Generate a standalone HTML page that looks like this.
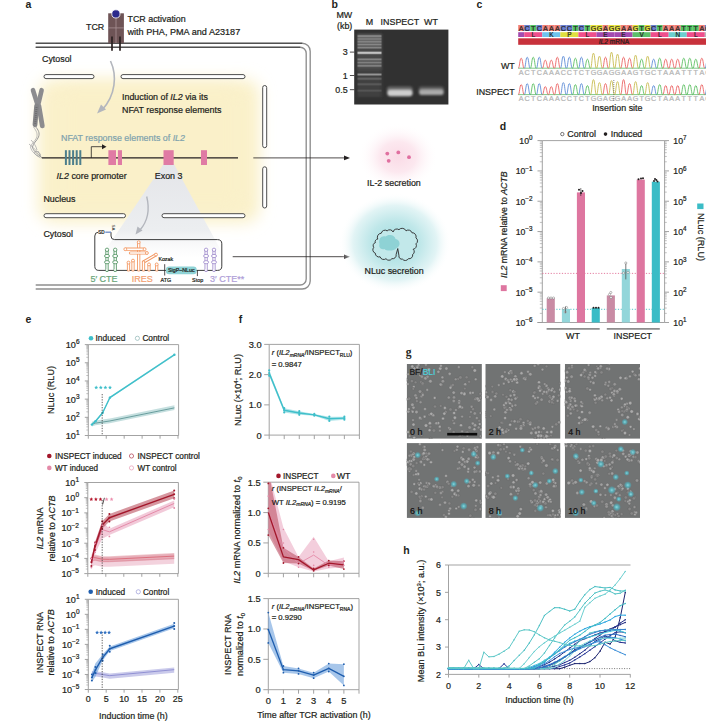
<!DOCTYPE html>
<html><head><meta charset="utf-8"><style>
html,body{margin:0;padding:0;background:#fff;width:706px;height:721px;overflow:hidden}
svg{display:block}
text{font-family:"Liberation Sans", sans-serif}
</style></head><body>
<svg width="706" height="721" viewBox="0 0 706 721">
<defs>
<radialGradient id="yel" cx="0.5" cy="0.5" r="0.5">
<stop offset="0" stop-color="#fbf0c2"/><stop offset="0.55" stop-color="#fcf2cc"/><stop offset="1" stop-color="#fcf3d0" stop-opacity="0"/></radialGradient>
<linearGradient id="cone" x1="0" y1="0" x2="0" y2="1">
<stop offset="0" stop-color="#e4e5e9"/><stop offset="0.7" stop-color="#eceef0"/><stop offset="1" stop-color="#f6f6f7" stop-opacity="0"/></linearGradient>
<radialGradient id="pinkglow" cx="0.5" cy="0.5" r="0.5">
<stop offset="0" stop-color="#fadbe6"/><stop offset="0.45" stop-color="#fce8ef"/><stop offset="1" stop-color="#fff" stop-opacity="0"/></radialGradient>
<radialGradient id="tealglow" cx="0.5" cy="0.5" r="0.5">
<stop offset="0" stop-color="#9edcdf"/><stop offset="0.45" stop-color="#bfe7e9"/><stop offset="0.75" stop-color="#e2f4f5"/><stop offset="1" stop-color="#fff" stop-opacity="0"/></radialGradient>
<radialGradient id="band" cx="0.5" cy="0.5" r="0.5">
<stop offset="0" stop-color="#e6e6e6"/><stop offset="0.6" stop-color="#b0b0b0"/><stop offset="1" stop-color="#3a3a3a" stop-opacity="0"/></radialGradient>
<radialGradient id="spot" cx="0.5" cy="0.5" r="0.5">
<stop offset="0" stop-color="#9ae6ee"/><stop offset="0.35" stop-color="#5accd8" stop-opacity="0.9"/><stop offset="0.7" stop-color="#4ab8c8" stop-opacity="0.55"/><stop offset="1" stop-color="#3cb0c0" stop-opacity="0"/></radialGradient>
<linearGradient id="gelg" x1="0" y1="0" x2="0" y2="1"><stop offset="0" stop-color="#3a3a3a" stop-opacity="0.3"/><stop offset="1" stop-color="#202020" stop-opacity="0.3"/></linearGradient>
<filter id="blur1" x="-20%" y="-20%" width="140%" height="140%"><feGaussianBlur stdDeviation="0.85"/></filter>
<filter id="blur2" x="-50%" y="-50%" width="200%" height="200%"><feGaussianBlur stdDeviation="1.2"/></filter>
<filter id="blury" x="-30%" y="-30%" width="160%" height="160%"><feGaussianBlur stdDeviation="7.5"/></filter>
<linearGradient id="bandg" x1="0" y1="0" x2="0" y2="1"><stop offset="0" stop-color="#fff" stop-opacity="0"/><stop offset="0.5" stop-color="#fff" stop-opacity="1"/><stop offset="1" stop-color="#fff" stop-opacity="0"/></linearGradient>
<marker id="ah" viewBox="0 0 10 10" refX="9" refY="5" markerWidth="6" markerHeight="6" orient="auto"><path d="M0,1 L10,5 L0,9 z" fill="#231f20"/></marker>
</defs>
<rect x="38" y="79" width="222" height="144" rx="16" fill="#faf1cb" filter="url(#blury)"/>
<rect x="60" y="86" width="180" height="124" rx="10" fill="#faf0c8" opacity="0.6" filter="url(#blury)"/>
<polygon points="163.7,164 173.9,164 225,258 100,258" fill="url(#cone)"/>
<path d="M35.7,43.2 H302.2 A8.0,8.0 0 0 1 310.2,51.2 V281.0 A8.0,8.0 0 0 1 302.2,289 H35.7" fill="none" stroke="#8e8e8e" stroke-width="1.35" />
<line x1="35.70" y1="43.20" x2="302.20" y2="43.20" stroke="#3c3c3c" stroke-width="1.1" />
<path d="M35.7,47.2 H300.2 A6.0,6.0 0 0 1 306.2,53.2 V279.0 A6.0,6.0 0 0 1 300.2,285.0 H35.7" fill="none" stroke="#8e8e8e" stroke-width="1.35" />
<line x1="35.70" y1="47.20" x2="300.20" y2="47.20" stroke="#3c3c3c" stroke-width="1.1" />
<rect x="44" y="74.6" width="50" height="4" rx="2.0" fill="#fff" stroke="#3a3a3a" stroke-width="0.9"/>
<rect x="121" y="74.6" width="124" height="4" rx="2.0" fill="#fff" stroke="#3a3a3a" stroke-width="0.9"/>
<rect x="44" y="213.7" width="81.5" height="4" rx="2.0" fill="#fff" stroke="#3a3a3a" stroke-width="0.9"/>
<rect x="162" y="213.7" width="83" height="4" rx="2.0" fill="#fff" stroke="#3a3a3a" stroke-width="0.9"/>
<rect x="262.7" y="85.5" width="4" height="62.19999999999999" rx="2.0" fill="#fff" stroke="#3a3a3a" stroke-width="0.9"/>
<rect x="262.7" y="166.8" width="4" height="41.19999999999999" rx="2.0" fill="#fff" stroke="#3a3a3a" stroke-width="0.9"/>
<rect x="108.20" y="13.30" width="15.70" height="29.80" fill="#6e5456" />
<line x1="108.20" y1="27.90" x2="123.90" y2="27.90" stroke="#a89294" stroke-width="0.8" />
<line x1="116.00" y1="14.00" x2="116.00" y2="43.00" stroke="#a89294" stroke-width="0.8" />
<line x1="112.00" y1="36.50" x2="112.00" y2="50.70" stroke="#2a2020" stroke-width="1.7" />
<line x1="120.00" y1="36.50" x2="120.00" y2="50.70" stroke="#2a2020" stroke-width="1.7" />
<circle cx="115.9" cy="13.9" r="4.1" fill="#2b2a8c" stroke="#fff" stroke-width="0.8"/>
<text x="86.0" y="29.6" font-size="8.9" text-anchor="start" fill="#231f20" stroke="#231f20" stroke-width="0.22" >TCR</text>
<text x="127.5" y="22.2" font-size="8.9" text-anchor="start" fill="#231f20" stroke="#231f20" stroke-width="0.22" >TCR activation</text>
<text x="127.5" y="34.7" font-size="9.1" text-anchor="start" fill="#231f20" stroke="#231f20" stroke-width="0.22" >with PHA, PMA and A23187</text>
<text x="42.0" y="61.5" font-size="8.9" text-anchor="start" fill="#231f20" stroke="#231f20" stroke-width="0.22" >Cytosol</text>
<path d="M110.5,61 C117,75 116,95 102,110" fill="none" stroke="#b3b6bd" stroke-width="1.6" />
<path d="M97,113.5 L101,104.5 L106,109.5 z" fill="#b3b6bd" stroke="none" stroke-width="0.8" />
<text x="122.0" y="100.3" font-size="8.9" text-anchor="start" fill="#231f20" stroke="#231f20" stroke-width="0.22" >Induction of <tspan font-style="italic">IL2</tspan> via its</text>
<text x="122.0" y="112.6" font-size="8.9" text-anchor="start" fill="#231f20" stroke="#231f20" stroke-width="0.22" >NFAT response elements</text>
<g stroke="#8c8c8f" stroke-linecap="round" fill="none">
<line x1="33" y1="90.2" x2="37" y2="103" stroke-width="4.6"/>
<line x1="41.6" y1="90.2" x2="38.6" y2="103" stroke-width="4.6"/>
<line x1="38.9" y1="106" x2="42.3" y2="125.8" stroke-width="4.8"/>
<line x1="36.6" y1="106" x2="35" y2="124.8" stroke-width="4.8" stroke="#858587"/>
</g>
<line x1="36.6" y1="107" x2="35.1" y2="124" stroke="#6f6f71" stroke-width="2" stroke-dasharray="1,1"/>
<path d="M35,126 C38.5,130 40,133 38.5,137 C37,141 33,143 32.5,147 C33,151 37,153 41.8,157.8" fill="none" stroke="#8e8e90" stroke-width="0.9" />
<path d="M33.5,127 C36.5,131 38,134 36.5,138 C35,141 31,144 30.5,147 C31.5,152 36,155 40.5,158" fill="none" stroke="#a4a4a6" stroke-width="0.7" />
<path d="M29,144 C32,146.5 35,149 37.5,152 M31,140 C34,143 36,146 37,150 M38,151 C39,153 40,155 41,157" fill="none" stroke="#a0a0a2" stroke-width="0.7" />
<ellipse cx="37.5" cy="153.8" rx="3.2" ry="1.8" fill="none" stroke="#9a9a9c" stroke-width="0.7" transform="rotate(35 37.5 153.8)"/>
<line x1="41.80" y1="157.90" x2="238.00" y2="157.90" stroke="#231f20" stroke-width="1.1" />
<rect x="64.90" y="150.20" width="2.00" height="14.80" fill="#4d7f8c" />
<rect x="68.50" y="150.20" width="2.00" height="14.80" fill="#4d7f8c" />
<rect x="72.10" y="150.20" width="2.00" height="14.80" fill="#4d7f8c" />
<rect x="75.70" y="150.20" width="2.00" height="14.80" fill="#4d7f8c" />
<rect x="79.30" y="150.20" width="2.00" height="14.80" fill="#4d7f8c" />
<path d="M91.3,157.9 V146.7 H103" fill="none" stroke="#231f20" stroke-width="0.8" />
<path d="M102,144.2 L106.5,146.7 L102,149.2 z" fill="#231f20" stroke="none" stroke-width="0.8" />
<rect x="108.40" y="150.20" width="7.60" height="14.80" fill="#e07ba4" />
<rect x="117.90" y="150.20" width="4.10" height="14.80" fill="#e07ba4" />
<rect x="163.50" y="150.20" width="10.20" height="14.80" fill="#e07ba4" />
<rect x="201.00" y="150.20" width="6.00" height="14.80" fill="#e07ba4" />
<text x="61.0" y="140.5" font-size="8.9" text-anchor="start" fill="#7fa3ad" stroke="#7fa3ad" stroke-width="0.22" >NFAT response elements of <tspan font-style="italic">IL2</tspan></text>
<text x="56.6" y="178.6" font-size="8.9" text-anchor="start" fill="#231f20" stroke="#231f20" stroke-width="0.22" ><tspan font-style="italic">IL2</tspan> core promoter</text>
<text x="154.8" y="178.6" font-size="8.9" text-anchor="start" fill="#231f20" stroke="#231f20" stroke-width="0.22" >Exon 3</text>
<text x="43.4" y="202.3" font-size="8.9" text-anchor="start" fill="#231f20" stroke="#231f20" stroke-width="0.22" >Nucleus</text>
<text x="43.4" y="236.8" font-size="8.9" text-anchor="start" fill="#231f20" stroke="#231f20" stroke-width="0.22" >Cytosol</text>
<line x1="253.30" y1="157.90" x2="346.00" y2="157.90" stroke="#231f20" stroke-width="0.8" />
<path d="M344,155.6 L350,157.9 L344,160.2 z" fill="#231f20" stroke="none" stroke-width="0.8" />
<line x1="232.70" y1="256.70" x2="346.00" y2="256.70" stroke="#231f20" stroke-width="0.8" />
<path d="M344,254.4 L350,256.7 L344,259 z" fill="#231f20" stroke="none" stroke-width="0.8" />
<path d="M146.7,196.5 C150,210 147,222 140,230" fill="none" stroke="#b3b6bd" stroke-width="1.4" />
<path d="M135.5,234.5 L137.5,226.5 L142.5,230.5 z" fill="#b3b6bd" stroke="none" stroke-width="0.8" />
<path d="M111,232.2 V236 Q111,239.6 114.6,239.6 H217.5 Q221.8,239.6 221.8,243.8 V266.2 Q221.8,270.4 217.5,270.4 H98.9 Q94.8,270.4 94.8,266.3 V236 Q94.8,232.2 98.5,232.2" fill="none" stroke="#3d3d3d" stroke-width="1.0" />
<line x1="105.30" y1="232.20" x2="111.00" y2="232.20" stroke="#6a8ac8" stroke-width="1.3" />
<text x="98.3" y="233.9" font-size="4.6" text-anchor="start" fill="#231f20" stroke="#231f20" stroke-width="0.22" >SD</text>
<text x="0" y="0" font-size="4.4" fill="#231f20" transform="translate(112.3,224.5) rotate(90)">SA</text>
<path d="M107,250.8 V270.5" fill="none" stroke="#5b9a6b" stroke-width="3.2" stroke-linecap="round" stroke-linejoin="round"/>
<path d="M107,250.8 V270.5" fill="none" stroke="#fff" stroke-width="1.40" stroke-linecap="round" stroke-linejoin="round"/>
<circle cx="107" cy="249.8" r="1.7" fill="#fff" stroke="#5b9a6b" stroke-width="0.9"/>
<ellipse cx="107" cy="256.0" rx="2.5" ry="1.6" fill="#fff" stroke="#5b9a6b" stroke-width="0.9"/>
<ellipse cx="107" cy="262.2" rx="2.5" ry="1.6" fill="#fff" stroke="#5b9a6b" stroke-width="0.9"/>
<line x1="106.40" y1="269.00" x2="106.40" y2="271.00" stroke="#fff" stroke-width="0.6" />
<path d="M115.2,250.8 V270.5" fill="none" stroke="#5b9a6b" stroke-width="3.2" stroke-linecap="round" stroke-linejoin="round"/>
<path d="M115.2,250.8 V270.5" fill="none" stroke="#fff" stroke-width="1.40" stroke-linecap="round" stroke-linejoin="round"/>
<circle cx="115.2" cy="249.8" r="1.7" fill="#fff" stroke="#5b9a6b" stroke-width="0.9"/>
<ellipse cx="115.2" cy="256.0" rx="2.5" ry="1.6" fill="#fff" stroke="#5b9a6b" stroke-width="0.9"/>
<ellipse cx="115.2" cy="262.2" rx="2.5" ry="1.6" fill="#fff" stroke="#5b9a6b" stroke-width="0.9"/>
<line x1="114.60" y1="269.00" x2="114.60" y2="271.00" stroke="#fff" stroke-width="0.6" />
<path d="M206.1,250.8 V270.5" fill="none" stroke="#a592cf" stroke-width="3.2" stroke-linecap="round" stroke-linejoin="round"/>
<path d="M206.1,250.8 V270.5" fill="none" stroke="#fff" stroke-width="1.40" stroke-linecap="round" stroke-linejoin="round"/>
<circle cx="206.1" cy="249.8" r="1.7" fill="#fff" stroke="#a592cf" stroke-width="0.9"/>
<ellipse cx="206.1" cy="256.0" rx="2.5" ry="1.6" fill="#fff" stroke="#a592cf" stroke-width="0.9"/>
<ellipse cx="206.1" cy="262.2" rx="2.5" ry="1.6" fill="#fff" stroke="#a592cf" stroke-width="0.9"/>
<line x1="205.50" y1="269.00" x2="205.50" y2="271.00" stroke="#fff" stroke-width="0.6" />
<path d="M214,250.8 V270.5" fill="none" stroke="#a592cf" stroke-width="3.2" stroke-linecap="round" stroke-linejoin="round"/>
<path d="M214,250.8 V270.5" fill="none" stroke="#fff" stroke-width="1.40" stroke-linecap="round" stroke-linejoin="round"/>
<circle cx="214" cy="249.8" r="1.7" fill="#fff" stroke="#a592cf" stroke-width="0.9"/>
<ellipse cx="214" cy="256.0" rx="2.5" ry="1.6" fill="#fff" stroke="#a592cf" stroke-width="0.9"/>
<ellipse cx="214" cy="262.2" rx="2.5" ry="1.6" fill="#fff" stroke="#a592cf" stroke-width="0.9"/>
<line x1="213.40" y1="269.00" x2="213.40" y2="271.00" stroke="#fff" stroke-width="0.6" />
<path d="M138.7,243 V270" fill="none" stroke="#f39a66" stroke-width="3.2" stroke-linecap="round" stroke-linejoin="round"/>
<path d="M138.7,243 V270" fill="none" stroke="#fff" stroke-width="1.40" stroke-linecap="round" stroke-linejoin="round"/>
<path d="M125.8,249.2 H144" fill="none" stroke="#f39a66" stroke-width="3.2" stroke-linecap="round" stroke-linejoin="round"/>
<path d="M125.8,249.2 H144" fill="none" stroke="#fff" stroke-width="1.40" stroke-linecap="round" stroke-linejoin="round"/>
<path d="M130.5,253 H146.5" fill="none" stroke="#f39a66" stroke-width="3.2" stroke-linecap="round" stroke-linejoin="round"/>
<path d="M130.5,253 H146.5" fill="none" stroke="#fff" stroke-width="1.40" stroke-linecap="round" stroke-linejoin="round"/>
<path d="M133,261 V270" fill="none" stroke="#f39a66" stroke-width="3.2" stroke-linecap="round" stroke-linejoin="round"/>
<path d="M133,261 V270" fill="none" stroke="#fff" stroke-width="1.40" stroke-linecap="round" stroke-linejoin="round"/>
<path d="M128.5,263 V270" fill="none" stroke="#f39a66" stroke-width="3.2" stroke-linecap="round" stroke-linejoin="round"/>
<path d="M128.5,263 V270" fill="none" stroke="#fff" stroke-width="1.40" stroke-linecap="round" stroke-linejoin="round"/>
<path d="M143.5,262 L155.5,255" fill="none" stroke="#f39a66" stroke-width="3.2" stroke-linecap="round" stroke-linejoin="round"/>
<path d="M143.5,262 L155.5,255" fill="none" stroke="#fff" stroke-width="1.40" stroke-linecap="round" stroke-linejoin="round"/>
<path d="M143.5,262 V270" fill="none" stroke="#f39a66" stroke-width="3.2" stroke-linecap="round" stroke-linejoin="round"/>
<path d="M143.5,262 V270" fill="none" stroke="#fff" stroke-width="1.40" stroke-linecap="round" stroke-linejoin="round"/>
<path d="M149,265 V270" fill="none" stroke="#f39a66" stroke-width="3.2" stroke-linecap="round" stroke-linejoin="round"/>
<path d="M149,265 V270" fill="none" stroke="#fff" stroke-width="1.40" stroke-linecap="round" stroke-linejoin="round"/>
<path d="M156.7,265 V270" fill="none" stroke="#f39a66" stroke-width="3.2" stroke-linecap="round" stroke-linejoin="round"/>
<path d="M156.7,265 V270" fill="none" stroke="#fff" stroke-width="1.40" stroke-linecap="round" stroke-linejoin="round"/>
<circle cx="138.7" cy="242.2" r="1.45" fill="#fff" stroke="#f39a66" stroke-width="0.9"/>
<circle cx="125.3" cy="249.2" r="1.45" fill="#fff" stroke="#f39a66" stroke-width="0.9"/>
<circle cx="144.6" cy="249.2" r="1.45" fill="#fff" stroke="#f39a66" stroke-width="0.9"/>
<circle cx="146.9" cy="253" r="1.45" fill="#fff" stroke="#f39a66" stroke-width="0.9"/>
<circle cx="133" cy="260.6" r="1.45" fill="#fff" stroke="#f39a66" stroke-width="0.9"/>
<circle cx="128.5" cy="262.6" r="1.45" fill="#fff" stroke="#f39a66" stroke-width="0.9"/>
<circle cx="156" cy="254.6" r="1.45" fill="#fff" stroke="#f39a66" stroke-width="0.9"/>
<circle cx="149" cy="264.4" r="1.45" fill="#fff" stroke="#f39a66" stroke-width="0.9"/>
<circle cx="156.7" cy="264.4" r="1.45" fill="#fff" stroke="#f39a66" stroke-width="0.9"/>
<text x="158.4" y="260.8" font-size="5.3" text-anchor="start" fill="#231f20" stroke="#231f20" stroke-width="0.22" >Kozak</text>
<line x1="164.70" y1="264.20" x2="164.70" y2="275.50" stroke="#231f20" stroke-width="0.8" />
<line x1="197.40" y1="270.20" x2="197.40" y2="276.10" stroke="#231f20" stroke-width="0.8" />
<rect x="165.9" y="266.6" width="30.8" height="7.6" rx="3.3" fill="#8fd3d6"/>
<text x="181.3" y="272.4" font-size="5.3" text-anchor="middle" fill="#231f20" stroke="#231f20" stroke-width="0.22" >SigP–NLuc</text>
<text x="165.9" y="282.4" font-size="5.4" text-anchor="middle" fill="#231f20" stroke="#231f20" stroke-width="0.22" >ATG</text>
<text x="197.6" y="282.4" font-size="5.4" text-anchor="middle" fill="#231f20" stroke="#231f20" stroke-width="0.22" >Stop</text>
<text x="90.4" y="281.6" font-size="9" text-anchor="start" fill="#6aa67a" stroke="#6aa67a" stroke-width="0.22" >5′ CTE</text>
<text x="131.7" y="281.6" font-size="9" text-anchor="start" fill="#f3a070" stroke="#f3a070" stroke-width="0.22" >IRES</text>
<text x="210.0" y="281.6" font-size="9" text-anchor="start" fill="#b0a0d8" stroke="#b0a0d8" stroke-width="0.22" >3′ CTE**</text>
<ellipse cx="398" cy="157" rx="40" ry="34" fill="url(#pinkglow)"/>
<circle cx="387.30" cy="153.60" r="1.90" fill="#e070a0" />
<circle cx="398.30" cy="152.40" r="1.90" fill="#e070a0" />
<circle cx="388.70" cy="160.80" r="1.90" fill="#e070a0" />
<circle cx="409.00" cy="157.20" r="1.90" fill="#e070a0" />
<text x="367.0" y="185.6" font-size="8.9" text-anchor="start" fill="#231f20" stroke="#231f20" stroke-width="0.22" >IL-2 secretion</text>
<ellipse cx="395" cy="243" rx="56" ry="50" fill="url(#tealglow)"/>
<path d="M377.74,239.10 A4.13,4.13 0 0 1 381.27,233.21 A3.81,3.81 0 0 1 387.17,230.85 A3.61,3.61 0 0 1 393.07,232.03 A3.81,3.81 0 0 1 398.96,229.67 A4.30,4.30 0 0 1 406.04,230.85 A3.71,3.71 0 0 1 411.93,232.74 A3.93,3.93 0 0 1 415.94,237.92 A3.54,3.54 0 0 1 415.94,243.82 A3.67,3.67 0 0 1 413.11,249.25 A3.13,3.13 0 0 1 412.64,254.43 A3.60,3.60 0 0 1 408.40,258.68 A3.55,3.55 0 0 1 402.50,259.15 A3.00,3.00 0 0 1 398.96,255.61 L397.78,248.54 L396.13,254.43 A3.60,3.60 0 0 1 391.89,258.68 A3.54,3.54 0 0 1 385.99,258.68 A3.71,3.71 0 0 1 380.09,256.79 A3.54,3.54 0 0 1 375.38,253.25 A3.67,3.67 0 0 1 373.73,247.36 A3.00,3.00 0 0 1 375.38,242.64 A2.55,2.55 0 0 1 377.74,239.10 Z" fill="#c2e8ea" stroke="#231f20" stroke-width="0.85" />
<path d="M379.5,244 C378,238.5 381.5,235.5 385.5,236.5 C388.5,233.5 395,235 395.5,239 C400.5,239.5 401,246.5 396.5,248 C394,251.5 386,251 384.5,249 C380.5,250 378.5,247 379.5,244 Z" fill="#8ed2d5"/>
<text x="364.5" y="274.4" font-size="8.9" text-anchor="start" fill="#231f20" stroke="#231f20" stroke-width="0.22" >NLuc secretion</text>
<text x="25.6" y="7.9" font-size="10.5" text-anchor="start" fill="#231f20" font-weight="bold" >a</text>
<text x="331.6" y="7.9" font-size="10.5" text-anchor="start" fill="#231f20" font-weight="bold" >b</text>
<text x="336.4" y="17.6" font-size="8.9" text-anchor="start" fill="#231f20" stroke="#231f20" stroke-width="0.22" >MW</text>
<text x="337.0" y="28.6" font-size="8.9" text-anchor="start" fill="#231f20" stroke="#231f20" stroke-width="0.22" >(kb)</text>
<text x="369.5" y="24.9" font-size="8.9" text-anchor="middle" fill="#231f20" stroke="#231f20" stroke-width="0.22" >M</text>
<text x="380.6" y="24.9" font-size="8.9" text-anchor="start" fill="#231f20" stroke="#231f20" stroke-width="0.22" >INSPECT</text>
<text x="424.0" y="24.9" font-size="8.9" text-anchor="start" fill="#231f20" stroke="#231f20" stroke-width="0.22" >WT</text>
<rect x="354.20" y="29.60" width="94.20" height="74.90" fill="#313131" />
<g>
<rect x="357.3" y="33" width="24.2" height="64" fill="#404040" filter="url(#blur1)"/>
<rect x="357.3" y="34" width="24.2" height="36" fill="#4a4a4a" filter="url(#blur1)"/>
<rect x="357.5" y="34.2" width="24" height="3.8" fill="url(#bandg)" opacity="0.42"/>
<rect x="357.5" y="37.1" width="24" height="3.8" fill="url(#bandg)" opacity="0.36"/>
<rect x="357.5" y="39.9" width="24" height="3.8" fill="url(#bandg)" opacity="0.38"/>
<rect x="357.5" y="42.7" width="24" height="3.8" fill="url(#bandg)" opacity="0.36"/>
<rect x="357.5" y="45.7" width="24" height="3.8" fill="url(#bandg)" opacity="0.34"/>
<rect x="357.5" y="51.0" width="24" height="3.8" fill="url(#bandg)" opacity="0.85"/>
<rect x="357.5" y="57.5" width="24" height="3.8" fill="url(#bandg)" opacity="0.34"/>
<rect x="357.5" y="60.7" width="24" height="3.8" fill="url(#bandg)" opacity="0.32"/>
<rect x="357.5" y="63.9" width="24" height="3.8" fill="url(#bandg)" opacity="0.36"/>
<rect x="357.5" y="72.6" width="24" height="3.8" fill="url(#bandg)" opacity="0.45"/>
<rect x="357.5" y="76.9" width="24" height="3.8" fill="url(#bandg)" opacity="0.2"/>
<rect x="357.5" y="82.3" width="24" height="3.8" fill="url(#bandg)" opacity="0.15"/>
<rect x="357.5" y="88.8" width="24" height="3.8" fill="url(#bandg)" opacity="0.12"/>
</g><g filter="url(#blur2)">
<rect x="386.9" y="86.5" width="25.8" height="9" rx="3" fill="#6a6a6a"/>
<rect x="387.5" y="90" width="25" height="6.2" rx="3" fill="#cfcfcf"/>
<rect x="418.7" y="86.5" width="25.2" height="8.5" rx="3" fill="#5e5e5e"/>
<rect x="419.2" y="89.5" width="24.4" height="5.6" rx="2.8" fill="#ababab"/>
</g>
<line x1="349.90" y1="52.10" x2="354.30" y2="52.10" stroke="#231f20" stroke-width="0.8" />
<text x="347.6" y="55.3" font-size="8.9" text-anchor="end" fill="#231f20" stroke="#231f20" stroke-width="0.22" >3</text>
<line x1="349.90" y1="75.50" x2="354.30" y2="75.50" stroke="#231f20" stroke-width="0.8" />
<text x="347.6" y="78.7" font-size="8.9" text-anchor="end" fill="#231f20" stroke="#231f20" stroke-width="0.22" >1</text>
<line x1="349.90" y1="89.70" x2="354.30" y2="89.70" stroke="#231f20" stroke-width="0.8" />
<text x="347.6" y="92.9" font-size="8.9" text-anchor="end" fill="#231f20" stroke="#231f20" stroke-width="0.22" >0.5</text>
<text x="476.6" y="7.9" font-size="10.5" text-anchor="start" fill="#231f20" font-weight="bold" >c</text>
<rect x="518.20" y="25.00" width="6.07" height="6.00" fill="#f08078" />
<text x="521.2" y="30.6" font-size="7.2" text-anchor="middle" fill="#262626" stroke="#262626" stroke-width="0.22" >A</text>
<rect x="524.22" y="25.00" width="6.07" height="6.00" fill="#6a7fd0" />
<text x="527.2" y="30.6" font-size="7.2" text-anchor="middle" fill="#262626" stroke="#262626" stroke-width="0.22" >C</text>
<rect x="530.24" y="25.00" width="6.07" height="6.00" fill="#55c463" />
<text x="533.2" y="30.6" font-size="7.2" text-anchor="middle" fill="#262626" stroke="#262626" stroke-width="0.22" >T</text>
<rect x="536.26" y="25.00" width="6.07" height="6.00" fill="#6a7fd0" />
<text x="539.3" y="30.6" font-size="7.2" text-anchor="middle" fill="#262626" stroke="#262626" stroke-width="0.22" >C</text>
<rect x="542.28" y="25.00" width="6.07" height="6.00" fill="#f08078" />
<text x="545.3" y="30.6" font-size="7.2" text-anchor="middle" fill="#262626" stroke="#262626" stroke-width="0.22" >A</text>
<rect x="548.30" y="25.00" width="6.07" height="6.00" fill="#f08078" />
<text x="551.3" y="30.6" font-size="7.2" text-anchor="middle" fill="#262626" stroke="#262626" stroke-width="0.22" >A</text>
<rect x="554.32" y="25.00" width="6.07" height="6.00" fill="#f08078" />
<text x="557.3" y="30.6" font-size="7.2" text-anchor="middle" fill="#262626" stroke="#262626" stroke-width="0.22" >A</text>
<rect x="560.34" y="25.00" width="6.07" height="6.00" fill="#6a7fd0" />
<text x="563.4" y="30.6" font-size="7.2" text-anchor="middle" fill="#262626" stroke="#262626" stroke-width="0.22" >C</text>
<rect x="566.36" y="25.00" width="6.07" height="6.00" fill="#6a7fd0" />
<text x="569.4" y="30.6" font-size="7.2" text-anchor="middle" fill="#262626" stroke="#262626" stroke-width="0.22" >C</text>
<rect x="572.38" y="25.00" width="6.07" height="6.00" fill="#55c463" />
<text x="575.4" y="30.6" font-size="7.2" text-anchor="middle" fill="#262626" stroke="#262626" stroke-width="0.22" >T</text>
<rect x="578.40" y="25.00" width="6.07" height="6.00" fill="#6a7fd0" />
<text x="581.4" y="30.6" font-size="7.2" text-anchor="middle" fill="#262626" stroke="#262626" stroke-width="0.22" >C</text>
<rect x="584.42" y="25.00" width="6.07" height="6.00" fill="#55c463" />
<text x="587.4" y="30.6" font-size="7.2" text-anchor="middle" fill="#262626" stroke="#262626" stroke-width="0.22" >T</text>
<rect x="590.44" y="25.00" width="6.07" height="6.00" fill="#e6e23a" />
<text x="593.5" y="30.6" font-size="7.2" text-anchor="middle" fill="#262626" stroke="#262626" stroke-width="0.22" >G</text>
<rect x="596.46" y="25.00" width="6.07" height="6.00" fill="#e6e23a" />
<text x="599.5" y="30.6" font-size="7.2" text-anchor="middle" fill="#262626" stroke="#262626" stroke-width="0.22" >G</text>
<rect x="602.48" y="25.00" width="6.07" height="6.00" fill="#f08078" />
<text x="605.5" y="30.6" font-size="7.2" text-anchor="middle" fill="#262626" stroke="#262626" stroke-width="0.22" >A</text>
<rect x="608.50" y="25.00" width="6.07" height="6.00" fill="#e6e23a" />
<text x="611.5" y="30.6" font-size="7.2" text-anchor="middle" fill="#262626" stroke="#262626" stroke-width="0.22" >G</text>
<rect x="614.52" y="25.00" width="6.07" height="6.00" fill="#e6e23a" />
<text x="617.5" y="30.6" font-size="7.2" text-anchor="middle" fill="#262626" stroke="#262626" stroke-width="0.22" >G</text>
<rect x="620.54" y="25.00" width="6.07" height="6.00" fill="#f08078" />
<text x="623.6" y="30.6" font-size="7.2" text-anchor="middle" fill="#262626" stroke="#262626" stroke-width="0.22" >A</text>
<rect x="626.56" y="25.00" width="6.07" height="6.00" fill="#f08078" />
<text x="629.6" y="30.6" font-size="7.2" text-anchor="middle" fill="#262626" stroke="#262626" stroke-width="0.22" >A</text>
<rect x="632.58" y="25.00" width="6.07" height="6.00" fill="#e6e23a" />
<text x="635.6" y="30.6" font-size="7.2" text-anchor="middle" fill="#262626" stroke="#262626" stroke-width="0.22" >G</text>
<rect x="638.60" y="25.00" width="6.07" height="6.00" fill="#55c463" />
<text x="641.6" y="30.6" font-size="7.2" text-anchor="middle" fill="#262626" stroke="#262626" stroke-width="0.22" >T</text>
<rect x="644.62" y="25.00" width="6.07" height="6.00" fill="#e6e23a" />
<text x="647.6" y="30.6" font-size="7.2" text-anchor="middle" fill="#262626" stroke="#262626" stroke-width="0.22" >G</text>
<rect x="650.64" y="25.00" width="6.07" height="6.00" fill="#6a7fd0" />
<text x="653.7" y="30.6" font-size="7.2" text-anchor="middle" fill="#262626" stroke="#262626" stroke-width="0.22" >C</text>
<rect x="656.66" y="25.00" width="6.07" height="6.00" fill="#55c463" />
<text x="659.7" y="30.6" font-size="7.2" text-anchor="middle" fill="#262626" stroke="#262626" stroke-width="0.22" >T</text>
<rect x="662.68" y="25.00" width="6.07" height="6.00" fill="#f08078" />
<text x="665.7" y="30.6" font-size="7.2" text-anchor="middle" fill="#262626" stroke="#262626" stroke-width="0.22" >A</text>
<rect x="668.70" y="25.00" width="6.07" height="6.00" fill="#f08078" />
<text x="671.7" y="30.6" font-size="7.2" text-anchor="middle" fill="#262626" stroke="#262626" stroke-width="0.22" >A</text>
<rect x="674.72" y="25.00" width="6.07" height="6.00" fill="#f08078" />
<text x="677.7" y="30.6" font-size="7.2" text-anchor="middle" fill="#262626" stroke="#262626" stroke-width="0.22" >A</text>
<rect x="680.74" y="25.00" width="6.07" height="6.00" fill="#55c463" />
<text x="683.8" y="30.6" font-size="7.2" text-anchor="middle" fill="#262626" stroke="#262626" stroke-width="0.22" >T</text>
<rect x="686.76" y="25.00" width="6.07" height="6.00" fill="#55c463" />
<text x="689.8" y="30.6" font-size="7.2" text-anchor="middle" fill="#262626" stroke="#262626" stroke-width="0.22" >T</text>
<rect x="692.78" y="25.00" width="6.07" height="6.00" fill="#55c463" />
<text x="695.8" y="30.6" font-size="7.2" text-anchor="middle" fill="#262626" stroke="#262626" stroke-width="0.22" >T</text>
<rect x="698.80" y="25.00" width="6.07" height="6.00" fill="#f08078" />
<text x="701.8" y="30.6" font-size="7.2" text-anchor="middle" fill="#262626" stroke="#262626" stroke-width="0.22" >A</text>
<rect x="704.82" y="25.00" width="6.07" height="6.00" fill="#6a7fd0" />
<text x="707.8" y="30.6" font-size="7.2" text-anchor="middle" fill="#262626" stroke="#262626" stroke-width="0.22" >C</text>
<rect x="518.20" y="32.20" width="6.02" height="4.80" fill="#a34bb0" />
<rect x="524.22" y="32.20" width="18.06" height="4.80" fill="#ef4f8c" />
<text x="533.2" y="36.8" font-size="6.4" text-anchor="middle" fill="#262626" stroke="#262626" stroke-width="0.22" >L</text>
<rect x="542.28" y="32.20" width="18.06" height="4.80" fill="#6ec3ee" />
<text x="551.3" y="36.8" font-size="6.4" text-anchor="middle" fill="#262626" stroke="#262626" stroke-width="0.22" >K</text>
<rect x="560.34" y="32.20" width="18.06" height="4.80" fill="#e0e040" />
<text x="569.4" y="36.8" font-size="6.4" text-anchor="middle" fill="#262626" stroke="#262626" stroke-width="0.22" >P</text>
<rect x="578.40" y="32.20" width="18.06" height="4.80" fill="#ef4f8c" />
<text x="587.4" y="36.8" font-size="6.4" text-anchor="middle" fill="#262626" stroke="#262626" stroke-width="0.22" >L</text>
<rect x="596.46" y="32.20" width="18.06" height="4.80" fill="#a34bb0" />
<text x="605.5" y="36.8" font-size="6.4" text-anchor="middle" fill="#262626" stroke="#262626" stroke-width="0.22" >E</text>
<rect x="614.52" y="32.20" width="18.06" height="4.80" fill="#a34bb0" />
<text x="623.5" y="36.8" font-size="6.4" text-anchor="middle" fill="#262626" stroke="#262626" stroke-width="0.22" >E</text>
<rect x="632.58" y="32.20" width="18.06" height="4.80" fill="#5cbf6a" />
<text x="641.6" y="36.8" font-size="6.4" text-anchor="middle" fill="#262626" stroke="#262626" stroke-width="0.22" >V</text>
<rect x="650.64" y="32.20" width="18.06" height="4.80" fill="#ef4f8c" />
<text x="659.7" y="36.8" font-size="6.4" text-anchor="middle" fill="#262626" stroke="#262626" stroke-width="0.22" >L</text>
<rect x="668.70" y="32.20" width="18.06" height="4.80" fill="#6ccfcf" />
<text x="677.7" y="36.8" font-size="6.4" text-anchor="middle" fill="#262626" stroke="#262626" stroke-width="0.22" >N</text>
<rect x="686.76" y="32.20" width="18.06" height="4.80" fill="#ef4f8c" />
<text x="695.8" y="36.8" font-size="6.4" text-anchor="middle" fill="#262626" stroke="#262626" stroke-width="0.22" >L</text>
<rect x="704.82" y="32.20" width="18.06" height="4.80" fill="#b8b8b8" />
<rect x="518.20" y="38.30" width="187.80" height="6.50" fill="#c8323c" />
<text x="614.0" y="43.9" font-size="6.6" text-anchor="middle" fill="#231f20" stroke="#231f20" stroke-width="0.22" ><tspan font-style="italic">IL2</tspan> mRNA</text>
<line x1="518.20" y1="68.20" x2="706.00" y2="68.20" stroke="#72c27a" stroke-width="0.9" />
<path d="M518.31,68.2 C519.61,68.2 519.71,58.20 521.21,58.20 C522.71,58.20 522.81,68.2 524.11,68.2" fill="none" stroke="#e85050" stroke-width="0.8" />
<path d="M524.33,68.2 C525.63,68.2 525.73,57.20 527.23,57.20 C528.73,57.20 528.83,68.2 530.13,68.2" fill="none" stroke="#4a7fd2" stroke-width="0.8" />
<path d="M530.35,68.2 C531.65,68.2 531.75,57.20 533.25,57.20 C534.75,57.20 534.85,68.2 536.15,68.2" fill="none" stroke="#49b84f" stroke-width="0.8" />
<path d="M536.37,68.2 C537.67,68.2 537.77,57.20 539.27,57.20 C540.77,57.20 540.87,68.2 542.17,68.2" fill="none" stroke="#4a7fd2" stroke-width="0.8" />
<path d="M542.39,68.2 C543.69,68.2 543.79,60.20 545.29,60.20 C546.79,60.20 546.89,68.2 548.19,68.2" fill="none" stroke="#e85050" stroke-width="0.8" />
<path d="M548.41,68.2 C549.71,68.2 549.81,60.20 551.31,60.20 C552.81,60.20 552.91,68.2 554.21,68.2" fill="none" stroke="#e85050" stroke-width="0.8" />
<path d="M554.43,68.2 C555.73,68.2 555.83,57.20 557.33,57.20 C558.83,57.20 558.93,68.2 560.23,68.2" fill="none" stroke="#e85050" stroke-width="0.8" />
<path d="M560.45,68.2 C561.75,68.2 561.85,56.20 563.35,56.20 C564.85,56.20 564.95,68.2 566.25,68.2" fill="none" stroke="#4a7fd2" stroke-width="0.8" />
<path d="M566.47,68.2 C567.77,68.2 567.87,57.20 569.37,57.20 C570.87,57.20 570.97,68.2 572.27,68.2" fill="none" stroke="#4a7fd2" stroke-width="0.8" />
<path d="M572.49,68.2 C573.79,68.2 573.89,58.20 575.39,58.20 C576.89,58.20 576.99,68.2 578.29,68.2" fill="none" stroke="#49b84f" stroke-width="0.8" />
<path d="M578.51,68.2 C579.81,68.2 579.91,57.20 581.41,57.20 C582.91,57.20 583.01,68.2 584.31,68.2" fill="none" stroke="#4a7fd2" stroke-width="0.8" />
<path d="M584.53,68.2 C585.83,68.2 585.93,59.20 587.43,59.20 C588.93,59.20 589.03,68.2 590.33,68.2" fill="none" stroke="#49b84f" stroke-width="0.8" />
<path d="M590.55,68.2 C591.85,68.2 591.95,53.20 593.45,53.20 C594.95,53.20 595.05,68.2 596.35,68.2" fill="none" stroke="#c2b43a" stroke-width="0.8" />
<path d="M596.57,68.2 C597.87,68.2 597.97,56.20 599.47,56.20 C600.97,56.20 601.07,68.2 602.37,68.2" fill="none" stroke="#c2b43a" stroke-width="0.8" />
<path d="M602.59,68.2 C603.89,68.2 603.99,57.20 605.49,57.20 C606.99,57.20 607.09,68.2 608.39,68.2" fill="none" stroke="#e85050" stroke-width="0.8" />
<path d="M608.61,68.2 C609.91,68.2 610.01,52.20 611.51,52.20 C613.01,52.20 613.11,68.2 614.41,68.2" fill="none" stroke="#c2b43a" stroke-width="0.8" />
<path d="M614.63,68.2 C615.93,68.2 616.03,54.20 617.53,54.20 C619.03,54.20 619.13,68.2 620.43,68.2" fill="none" stroke="#c2b43a" stroke-width="0.8" />
<path d="M620.65,68.2 C621.95,68.2 622.05,57.20 623.55,57.20 C625.05,57.20 625.15,68.2 626.45,68.2" fill="none" stroke="#e85050" stroke-width="0.8" />
<path d="M626.67,68.2 C627.97,68.2 628.07,58.20 629.57,58.20 C631.07,58.20 631.17,68.2 632.47,68.2" fill="none" stroke="#e85050" stroke-width="0.8" />
<path d="M632.69,68.2 C633.99,68.2 634.09,55.20 635.59,55.20 C637.09,55.20 637.19,68.2 638.49,68.2" fill="none" stroke="#c2b43a" stroke-width="0.8" />
<path d="M638.71,68.2 C640.01,68.2 640.11,59.20 641.61,59.20 C643.11,59.20 643.21,68.2 644.51,68.2" fill="none" stroke="#49b84f" stroke-width="0.8" />
<path d="M644.73,68.2 C646.03,68.2 646.13,56.20 647.63,56.20 C649.13,56.20 649.23,68.2 650.53,68.2" fill="none" stroke="#c2b43a" stroke-width="0.8" />
<path d="M650.75,68.2 C652.05,68.2 652.15,59.20 653.65,59.20 C655.15,59.20 655.25,68.2 656.55,68.2" fill="none" stroke="#4a7fd2" stroke-width="0.8" />
<path d="M656.77,68.2 C658.07,68.2 658.17,58.20 659.67,58.20 C661.17,58.20 661.27,68.2 662.57,68.2" fill="none" stroke="#49b84f" stroke-width="0.8" />
<path d="M662.79,68.2 C664.09,68.2 664.19,59.20 665.69,59.20 C667.19,59.20 667.29,68.2 668.59,68.2" fill="none" stroke="#e85050" stroke-width="0.8" />
<path d="M668.81,68.2 C670.11,68.2 670.21,59.20 671.71,59.20 C673.21,59.20 673.31,68.2 674.61,68.2" fill="none" stroke="#e85050" stroke-width="0.8" />
<path d="M674.83,68.2 C676.13,68.2 676.23,59.20 677.73,59.20 C679.23,59.20 679.33,68.2 680.63,68.2" fill="none" stroke="#e85050" stroke-width="0.8" />
<path d="M680.85,68.2 C682.15,68.2 682.25,58.20 683.75,58.20 C685.25,58.20 685.35,68.2 686.65,68.2" fill="none" stroke="#49b84f" stroke-width="0.8" />
<path d="M686.87,68.2 C688.17,68.2 688.27,58.20 689.77,58.20 C691.27,58.20 691.37,68.2 692.67,68.2" fill="none" stroke="#49b84f" stroke-width="0.8" />
<path d="M692.89,68.2 C694.19,68.2 694.29,59.20 695.79,59.20 C697.29,59.20 697.39,68.2 698.69,68.2" fill="none" stroke="#49b84f" stroke-width="0.8" />
<path d="M698.91,68.2 C700.21,68.2 700.31,58.20 701.81,58.20 C703.31,58.20 703.41,68.2 704.71,68.2" fill="none" stroke="#e85050" stroke-width="0.8" />
<path d="M704.93,68.2 C706.23,68.2 706.33,59.20 707.83,59.20 C709.33,59.20 709.43,68.2 710.73,68.2" fill="none" stroke="#4a7fd2" stroke-width="0.8" />
<line x1="518.20" y1="94.60" x2="706.00" y2="94.60" stroke="#72c27a" stroke-width="0.9" />
<path d="M518.31,94.6 C519.61,94.6 519.71,84.60 521.21,84.60 C522.71,84.60 522.81,94.6 524.11,94.6" fill="none" stroke="#e85050" stroke-width="0.8" />
<path d="M524.33,94.6 C525.63,94.6 525.73,83.60 527.23,83.60 C528.73,83.60 528.83,94.6 530.13,94.6" fill="none" stroke="#4a7fd2" stroke-width="0.8" />
<path d="M530.35,94.6 C531.65,94.6 531.75,83.60 533.25,83.60 C534.75,83.60 534.85,94.6 536.15,94.6" fill="none" stroke="#49b84f" stroke-width="0.8" />
<path d="M536.37,94.6 C537.67,94.6 537.77,83.60 539.27,83.60 C540.77,83.60 540.87,94.6 542.17,94.6" fill="none" stroke="#4a7fd2" stroke-width="0.8" />
<path d="M542.39,94.6 C543.69,94.6 543.79,86.60 545.29,86.60 C546.79,86.60 546.89,94.6 548.19,94.6" fill="none" stroke="#e85050" stroke-width="0.8" />
<path d="M548.41,94.6 C549.71,94.6 549.81,86.60 551.31,86.60 C552.81,86.60 552.91,94.6 554.21,94.6" fill="none" stroke="#e85050" stroke-width="0.8" />
<path d="M554.43,94.6 C555.73,94.6 555.83,83.60 557.33,83.60 C558.83,83.60 558.93,94.6 560.23,94.6" fill="none" stroke="#e85050" stroke-width="0.8" />
<path d="M560.45,94.6 C561.75,94.6 561.85,82.60 563.35,82.60 C564.85,82.60 564.95,94.6 566.25,94.6" fill="none" stroke="#4a7fd2" stroke-width="0.8" />
<path d="M566.47,94.6 C567.77,94.6 567.87,83.60 569.37,83.60 C570.87,83.60 570.97,94.6 572.27,94.6" fill="none" stroke="#4a7fd2" stroke-width="0.8" />
<path d="M572.49,94.6 C573.79,94.6 573.89,84.60 575.39,84.60 C576.89,84.60 576.99,94.6 578.29,94.6" fill="none" stroke="#49b84f" stroke-width="0.8" />
<path d="M578.51,94.6 C579.81,94.6 579.91,83.60 581.41,83.60 C582.91,83.60 583.01,94.6 584.31,94.6" fill="none" stroke="#4a7fd2" stroke-width="0.8" />
<path d="M584.53,94.6 C585.83,94.6 585.93,85.60 587.43,85.60 C588.93,85.60 589.03,94.6 590.33,94.6" fill="none" stroke="#49b84f" stroke-width="0.8" />
<path d="M590.55,94.6 C591.85,94.6 591.95,79.60 593.45,79.60 C594.95,79.60 595.05,94.6 596.35,94.6" fill="none" stroke="#c2b43a" stroke-width="0.8" />
<path d="M596.57,94.6 C597.87,94.6 597.97,82.60 599.47,82.60 C600.97,82.60 601.07,94.6 602.37,94.6" fill="none" stroke="#c2b43a" stroke-width="0.8" />
<path d="M602.59,94.6 C603.89,94.6 603.99,83.60 605.49,83.60 C606.99,83.60 607.09,94.6 608.39,94.6" fill="none" stroke="#e85050" stroke-width="0.8" />
<path d="M608.61,94.6 C609.91,94.6 610.01,80.60 611.51,80.60 C613.01,80.60 613.11,94.6 614.41,94.6" fill="none" stroke="#c2b43a" stroke-width="0.8" />
<path d="M614.63,94.6 C615.93,94.6 616.03,81.60 617.53,81.60 C619.03,81.60 619.13,94.6 620.43,94.6" fill="none" stroke="#c2b43a" stroke-width="0.8" />
<path d="M620.65,94.6 C621.95,94.6 622.05,79.60 623.55,79.60 C625.05,79.60 625.15,94.6 626.45,94.6" fill="none" stroke="#e85050" stroke-width="0.8" />
<path d="M626.67,94.6 C627.97,94.6 628.07,83.60 629.57,83.60 C631.07,83.60 631.17,94.6 632.47,94.6" fill="none" stroke="#e85050" stroke-width="0.8" />
<path d="M632.69,94.6 C633.99,94.6 634.09,81.60 635.59,81.60 C637.09,81.60 637.19,94.6 638.49,94.6" fill="none" stroke="#c2b43a" stroke-width="0.8" />
<path d="M638.71,94.6 C640.01,94.6 640.11,85.60 641.61,85.60 C643.11,85.60 643.21,94.6 644.51,94.6" fill="none" stroke="#49b84f" stroke-width="0.8" />
<path d="M644.73,94.6 C646.03,94.6 646.13,82.60 647.63,82.60 C649.13,82.60 649.23,94.6 650.53,94.6" fill="none" stroke="#c2b43a" stroke-width="0.8" />
<path d="M650.75,94.6 C652.05,94.6 652.15,85.60 653.65,85.60 C655.15,85.60 655.25,94.6 656.55,94.6" fill="none" stroke="#4a7fd2" stroke-width="0.8" />
<path d="M656.77,94.6 C658.07,94.6 658.17,84.60 659.67,84.60 C661.17,84.60 661.27,94.6 662.57,94.6" fill="none" stroke="#49b84f" stroke-width="0.8" />
<path d="M662.79,94.6 C664.09,94.6 664.19,85.60 665.69,85.60 C667.19,85.60 667.29,94.6 668.59,94.6" fill="none" stroke="#e85050" stroke-width="0.8" />
<path d="M668.81,94.6 C670.11,94.6 670.21,85.60 671.71,85.60 C673.21,85.60 673.31,94.6 674.61,94.6" fill="none" stroke="#e85050" stroke-width="0.8" />
<path d="M674.83,94.6 C676.13,94.6 676.23,85.60 677.73,85.60 C679.23,85.60 679.33,94.6 680.63,94.6" fill="none" stroke="#e85050" stroke-width="0.8" />
<path d="M680.85,94.6 C682.15,94.6 682.25,84.60 683.75,84.60 C685.25,84.60 685.35,94.6 686.65,94.6" fill="none" stroke="#49b84f" stroke-width="0.8" />
<path d="M686.87,94.6 C688.17,94.6 688.27,84.60 689.77,84.60 C691.27,84.60 691.37,94.6 692.67,94.6" fill="none" stroke="#49b84f" stroke-width="0.8" />
<path d="M692.89,94.6 C694.19,94.6 694.29,85.60 695.79,85.60 C697.29,85.60 697.39,94.6 698.69,94.6" fill="none" stroke="#49b84f" stroke-width="0.8" />
<path d="M698.91,94.6 C700.21,94.6 700.31,84.60 701.81,84.60 C703.31,84.60 703.41,94.6 704.71,94.6" fill="none" stroke="#e85050" stroke-width="0.8" />
<path d="M704.93,94.6 C706.23,94.6 706.33,85.60 707.83,85.60 C709.33,85.60 709.43,94.6 710.73,94.6" fill="none" stroke="#4a7fd2" stroke-width="0.8" />
<text x="521.2" y="74.9" font-size="7.2" text-anchor="middle" fill="#b4b4b4" stroke="#b4b4b4" stroke-width="0.22" >A</text>
<text x="521.2" y="101.4" font-size="7.2" text-anchor="middle" fill="#b4b4b4" stroke="#b4b4b4" stroke-width="0.22" >A</text>
<text x="527.2" y="74.9" font-size="7.2" text-anchor="middle" fill="#b4b4b4" stroke="#b4b4b4" stroke-width="0.22" >C</text>
<text x="527.2" y="101.4" font-size="7.2" text-anchor="middle" fill="#b4b4b4" stroke="#b4b4b4" stroke-width="0.22" >C</text>
<text x="533.2" y="74.9" font-size="7.2" text-anchor="middle" fill="#b4b4b4" stroke="#b4b4b4" stroke-width="0.22" >T</text>
<text x="533.2" y="101.4" font-size="7.2" text-anchor="middle" fill="#b4b4b4" stroke="#b4b4b4" stroke-width="0.22" >T</text>
<text x="539.3" y="74.9" font-size="7.2" text-anchor="middle" fill="#b4b4b4" stroke="#b4b4b4" stroke-width="0.22" >C</text>
<text x="539.3" y="101.4" font-size="7.2" text-anchor="middle" fill="#b4b4b4" stroke="#b4b4b4" stroke-width="0.22" >C</text>
<text x="545.3" y="74.9" font-size="7.2" text-anchor="middle" fill="#b4b4b4" stroke="#b4b4b4" stroke-width="0.22" >A</text>
<text x="545.3" y="101.4" font-size="7.2" text-anchor="middle" fill="#b4b4b4" stroke="#b4b4b4" stroke-width="0.22" >A</text>
<text x="551.3" y="74.9" font-size="7.2" text-anchor="middle" fill="#b4b4b4" stroke="#b4b4b4" stroke-width="0.22" >A</text>
<text x="551.3" y="101.4" font-size="7.2" text-anchor="middle" fill="#b4b4b4" stroke="#b4b4b4" stroke-width="0.22" >A</text>
<text x="557.3" y="74.9" font-size="7.2" text-anchor="middle" fill="#b4b4b4" stroke="#b4b4b4" stroke-width="0.22" >A</text>
<text x="557.3" y="101.4" font-size="7.2" text-anchor="middle" fill="#b4b4b4" stroke="#b4b4b4" stroke-width="0.22" >A</text>
<text x="563.4" y="74.9" font-size="7.2" text-anchor="middle" fill="#b4b4b4" stroke="#b4b4b4" stroke-width="0.22" >C</text>
<text x="563.4" y="101.4" font-size="7.2" text-anchor="middle" fill="#b4b4b4" stroke="#b4b4b4" stroke-width="0.22" >C</text>
<text x="569.4" y="74.9" font-size="7.2" text-anchor="middle" fill="#b4b4b4" stroke="#b4b4b4" stroke-width="0.22" >C</text>
<text x="569.4" y="101.4" font-size="7.2" text-anchor="middle" fill="#b4b4b4" stroke="#b4b4b4" stroke-width="0.22" >C</text>
<text x="575.4" y="74.9" font-size="7.2" text-anchor="middle" fill="#b4b4b4" stroke="#b4b4b4" stroke-width="0.22" >T</text>
<text x="575.4" y="101.4" font-size="7.2" text-anchor="middle" fill="#b4b4b4" stroke="#b4b4b4" stroke-width="0.22" >T</text>
<text x="581.4" y="74.9" font-size="7.2" text-anchor="middle" fill="#b4b4b4" stroke="#b4b4b4" stroke-width="0.22" >C</text>
<text x="581.4" y="101.4" font-size="7.2" text-anchor="middle" fill="#b4b4b4" stroke="#b4b4b4" stroke-width="0.22" >C</text>
<text x="587.4" y="74.9" font-size="7.2" text-anchor="middle" fill="#b4b4b4" stroke="#b4b4b4" stroke-width="0.22" >T</text>
<text x="587.4" y="101.4" font-size="7.2" text-anchor="middle" fill="#b4b4b4" stroke="#b4b4b4" stroke-width="0.22" >T</text>
<text x="593.5" y="74.9" font-size="7.2" text-anchor="middle" fill="#b4b4b4" stroke="#b4b4b4" stroke-width="0.22" >G</text>
<text x="593.5" y="101.4" font-size="7.2" text-anchor="middle" fill="#b4b4b4" stroke="#b4b4b4" stroke-width="0.22" >G</text>
<text x="599.5" y="74.9" font-size="7.2" text-anchor="middle" fill="#b4b4b4" stroke="#b4b4b4" stroke-width="0.22" >G</text>
<text x="599.5" y="101.4" font-size="7.2" text-anchor="middle" fill="#b4b4b4" stroke="#b4b4b4" stroke-width="0.22" >G</text>
<text x="605.5" y="74.9" font-size="7.2" text-anchor="middle" fill="#b4b4b4" stroke="#b4b4b4" stroke-width="0.22" >A</text>
<text x="605.5" y="101.4" font-size="7.2" text-anchor="middle" fill="#b4b4b4" stroke="#b4b4b4" stroke-width="0.22" >A</text>
<text x="611.5" y="74.9" font-size="7.2" text-anchor="middle" fill="#b4b4b4" stroke="#b4b4b4" stroke-width="0.22" >G</text>
<text x="611.5" y="101.4" font-size="7.2" text-anchor="middle" fill="#b4b4b4" stroke="#b4b4b4" stroke-width="0.22" >G</text>
<text x="617.5" y="74.9" font-size="7.2" text-anchor="middle" fill="#b4b4b4" stroke="#b4b4b4" stroke-width="0.22" >G</text>
<text x="617.5" y="101.4" font-size="7.2" text-anchor="middle" fill="#b4b4b4" stroke="#b4b4b4" stroke-width="0.22" >G</text>
<text x="623.6" y="74.9" font-size="7.2" text-anchor="middle" fill="#b4b4b4" stroke="#b4b4b4" stroke-width="0.22" >A</text>
<text x="623.6" y="101.4" font-size="7.2" text-anchor="middle" fill="#b4b4b4" stroke="#b4b4b4" stroke-width="0.22" >A</text>
<text x="629.6" y="74.9" font-size="7.2" text-anchor="middle" fill="#b4b4b4" stroke="#b4b4b4" stroke-width="0.22" >A</text>
<text x="629.6" y="101.4" font-size="7.2" text-anchor="middle" fill="#b4b4b4" stroke="#b4b4b4" stroke-width="0.22" >A</text>
<text x="635.6" y="74.9" font-size="7.2" text-anchor="middle" fill="#b4b4b4" stroke="#b4b4b4" stroke-width="0.22" >G</text>
<text x="635.6" y="101.4" font-size="7.2" text-anchor="middle" fill="#b4b4b4" stroke="#b4b4b4" stroke-width="0.22" >G</text>
<text x="641.6" y="74.9" font-size="7.2" text-anchor="middle" fill="#b4b4b4" stroke="#b4b4b4" stroke-width="0.22" >T</text>
<text x="641.6" y="101.4" font-size="7.2" text-anchor="middle" fill="#b4b4b4" stroke="#b4b4b4" stroke-width="0.22" >T</text>
<text x="647.6" y="74.9" font-size="7.2" text-anchor="middle" fill="#b4b4b4" stroke="#b4b4b4" stroke-width="0.22" >G</text>
<text x="647.6" y="101.4" font-size="7.2" text-anchor="middle" fill="#b4b4b4" stroke="#b4b4b4" stroke-width="0.22" >G</text>
<text x="653.7" y="74.9" font-size="7.2" text-anchor="middle" fill="#b4b4b4" stroke="#b4b4b4" stroke-width="0.22" >C</text>
<text x="653.7" y="101.4" font-size="7.2" text-anchor="middle" fill="#b4b4b4" stroke="#b4b4b4" stroke-width="0.22" >C</text>
<text x="659.7" y="74.9" font-size="7.2" text-anchor="middle" fill="#b4b4b4" stroke="#b4b4b4" stroke-width="0.22" >T</text>
<text x="659.7" y="101.4" font-size="7.2" text-anchor="middle" fill="#b4b4b4" stroke="#b4b4b4" stroke-width="0.22" >T</text>
<text x="665.7" y="74.9" font-size="7.2" text-anchor="middle" fill="#b4b4b4" stroke="#b4b4b4" stroke-width="0.22" >A</text>
<text x="665.7" y="101.4" font-size="7.2" text-anchor="middle" fill="#b4b4b4" stroke="#b4b4b4" stroke-width="0.22" >A</text>
<text x="671.7" y="74.9" font-size="7.2" text-anchor="middle" fill="#b4b4b4" stroke="#b4b4b4" stroke-width="0.22" >A</text>
<text x="671.7" y="101.4" font-size="7.2" text-anchor="middle" fill="#b4b4b4" stroke="#b4b4b4" stroke-width="0.22" >A</text>
<text x="677.7" y="74.9" font-size="7.2" text-anchor="middle" fill="#b4b4b4" stroke="#b4b4b4" stroke-width="0.22" >A</text>
<text x="677.7" y="101.4" font-size="7.2" text-anchor="middle" fill="#b4b4b4" stroke="#b4b4b4" stroke-width="0.22" >A</text>
<text x="683.8" y="74.9" font-size="7.2" text-anchor="middle" fill="#b4b4b4" stroke="#b4b4b4" stroke-width="0.22" >T</text>
<text x="683.8" y="101.4" font-size="7.2" text-anchor="middle" fill="#b4b4b4" stroke="#b4b4b4" stroke-width="0.22" >T</text>
<text x="689.8" y="74.9" font-size="7.2" text-anchor="middle" fill="#b4b4b4" stroke="#b4b4b4" stroke-width="0.22" >T</text>
<text x="689.8" y="101.4" font-size="7.2" text-anchor="middle" fill="#b4b4b4" stroke="#b4b4b4" stroke-width="0.22" >T</text>
<text x="695.8" y="74.9" font-size="7.2" text-anchor="middle" fill="#b4b4b4" stroke="#b4b4b4" stroke-width="0.22" >T</text>
<text x="695.8" y="101.4" font-size="7.2" text-anchor="middle" fill="#b4b4b4" stroke="#b4b4b4" stroke-width="0.22" >T</text>
<text x="701.8" y="74.9" font-size="7.2" text-anchor="middle" fill="#b4b4b4" stroke="#b4b4b4" stroke-width="0.22" >A</text>
<text x="701.8" y="101.4" font-size="7.2" text-anchor="middle" fill="#b4b4b4" stroke="#b4b4b4" stroke-width="0.22" >A</text>
<text x="707.8" y="74.9" font-size="7.2" text-anchor="middle" fill="#b4b4b4" stroke="#b4b4b4" stroke-width="0.22" >C</text>
<text x="707.8" y="101.4" font-size="7.2" text-anchor="middle" fill="#b4b4b4" stroke="#b4b4b4" stroke-width="0.22" >C</text>
<text x="514.7" y="69.4" font-size="8.9" text-anchor="end" fill="#231f20" stroke="#231f20" stroke-width="0.22" >WT</text>
<text x="514.7" y="95.0" font-size="8.9" text-anchor="end" fill="#231f20" stroke="#231f20" stroke-width="0.22" >INSPECT</text>
<line x1="613.80" y1="80.00" x2="613.80" y2="101.00" stroke="#6a6a6a" stroke-width="0.8" stroke-dasharray="1,1"/>
<text x="617.3" y="111.4" font-size="8.9" text-anchor="middle" fill="#231f20" stroke="#231f20" stroke-width="0.22" >Insertion site</text>
<text x="499.8" y="129.8" font-size="10.5" text-anchor="start" fill="#231f20" font-weight="bold" >d</text>
<line x1="542.30" y1="140.60" x2="664.60" y2="140.60" stroke="#999999" stroke-width="0.9" />
<line x1="542.30" y1="140.60" x2="542.30" y2="322.50" stroke="#999999" stroke-width="0.9" />
<line x1="664.60" y1="140.60" x2="664.60" y2="322.50" stroke="#999999" stroke-width="0.9" />
<line x1="537.50" y1="322.50" x2="664.60" y2="322.50" stroke="#999999" stroke-width="0.9" />
<line x1="537.50" y1="140.60" x2="542.30" y2="140.60" stroke="#999999" stroke-width="0.9" />
<line x1="664.60" y1="140.60" x2="669.00" y2="140.60" stroke="#999999" stroke-width="0.9" />
<line x1="539.80" y1="161.79" x2="542.30" y2="161.79" stroke="#999999" stroke-width="0.6" />
<line x1="664.60" y1="161.79" x2="666.80" y2="161.79" stroke="#999999" stroke-width="0.6" />
<line x1="539.80" y1="156.45" x2="542.30" y2="156.45" stroke="#999999" stroke-width="0.6" />
<line x1="664.60" y1="156.45" x2="666.80" y2="156.45" stroke="#999999" stroke-width="0.6" />
<line x1="539.80" y1="152.66" x2="542.30" y2="152.66" stroke="#999999" stroke-width="0.6" />
<line x1="664.60" y1="152.66" x2="666.80" y2="152.66" stroke="#999999" stroke-width="0.6" />
<line x1="539.80" y1="149.73" x2="542.30" y2="149.73" stroke="#999999" stroke-width="0.6" />
<line x1="664.60" y1="149.73" x2="666.80" y2="149.73" stroke="#999999" stroke-width="0.6" />
<line x1="539.80" y1="147.33" x2="542.30" y2="147.33" stroke="#999999" stroke-width="0.6" />
<line x1="664.60" y1="147.33" x2="666.80" y2="147.33" stroke="#999999" stroke-width="0.6" />
<line x1="539.80" y1="145.30" x2="542.30" y2="145.30" stroke="#999999" stroke-width="0.6" />
<line x1="664.60" y1="145.30" x2="666.80" y2="145.30" stroke="#999999" stroke-width="0.6" />
<line x1="539.80" y1="143.54" x2="542.30" y2="143.54" stroke="#999999" stroke-width="0.6" />
<line x1="664.60" y1="143.54" x2="666.80" y2="143.54" stroke="#999999" stroke-width="0.6" />
<line x1="539.80" y1="141.99" x2="542.30" y2="141.99" stroke="#999999" stroke-width="0.6" />
<line x1="664.60" y1="141.99" x2="666.80" y2="141.99" stroke="#999999" stroke-width="0.6" />
<text x="532.5" y="143.9" font-size="8.7" text-anchor="end" fill="#231f20" stroke="#231f20" stroke-width="0.22" >10<tspan dy="-3.6" font-size="6.3">0</tspan></text>
<text x="673.3" y="143.9" font-size="8.7" text-anchor="start" fill="#231f20" stroke="#231f20" stroke-width="0.22" >10<tspan dy="-3.6" font-size="6.3">7</tspan></text>
<line x1="537.50" y1="170.92" x2="542.30" y2="170.92" stroke="#999999" stroke-width="0.9" />
<line x1="664.60" y1="170.92" x2="669.00" y2="170.92" stroke="#999999" stroke-width="0.9" />
<line x1="539.80" y1="192.11" x2="542.30" y2="192.11" stroke="#999999" stroke-width="0.6" />
<line x1="664.60" y1="192.11" x2="666.80" y2="192.11" stroke="#999999" stroke-width="0.6" />
<line x1="539.80" y1="186.77" x2="542.30" y2="186.77" stroke="#999999" stroke-width="0.6" />
<line x1="664.60" y1="186.77" x2="666.80" y2="186.77" stroke="#999999" stroke-width="0.6" />
<line x1="539.80" y1="182.98" x2="542.30" y2="182.98" stroke="#999999" stroke-width="0.6" />
<line x1="664.60" y1="182.98" x2="666.80" y2="182.98" stroke="#999999" stroke-width="0.6" />
<line x1="539.80" y1="180.04" x2="542.30" y2="180.04" stroke="#999999" stroke-width="0.6" />
<line x1="664.60" y1="180.04" x2="666.80" y2="180.04" stroke="#999999" stroke-width="0.6" />
<line x1="539.80" y1="177.64" x2="542.30" y2="177.64" stroke="#999999" stroke-width="0.6" />
<line x1="664.60" y1="177.64" x2="666.80" y2="177.64" stroke="#999999" stroke-width="0.6" />
<line x1="539.80" y1="175.61" x2="542.30" y2="175.61" stroke="#999999" stroke-width="0.6" />
<line x1="664.60" y1="175.61" x2="666.80" y2="175.61" stroke="#999999" stroke-width="0.6" />
<line x1="539.80" y1="173.85" x2="542.30" y2="173.85" stroke="#999999" stroke-width="0.6" />
<line x1="664.60" y1="173.85" x2="666.80" y2="173.85" stroke="#999999" stroke-width="0.6" />
<line x1="539.80" y1="172.30" x2="542.30" y2="172.30" stroke="#999999" stroke-width="0.6" />
<line x1="664.60" y1="172.30" x2="666.80" y2="172.30" stroke="#999999" stroke-width="0.6" />
<text x="532.5" y="174.2" font-size="8.7" text-anchor="end" fill="#231f20" stroke="#231f20" stroke-width="0.22" >10<tspan dy="-3.6" font-size="6.3">−1</tspan></text>
<text x="673.3" y="174.2" font-size="8.7" text-anchor="start" fill="#231f20" stroke="#231f20" stroke-width="0.22" >10<tspan dy="-3.6" font-size="6.3">6</tspan></text>
<line x1="537.50" y1="201.23" x2="542.30" y2="201.23" stroke="#999999" stroke-width="0.9" />
<line x1="664.60" y1="201.23" x2="669.00" y2="201.23" stroke="#999999" stroke-width="0.9" />
<line x1="539.80" y1="222.42" x2="542.30" y2="222.42" stroke="#999999" stroke-width="0.6" />
<line x1="664.60" y1="222.42" x2="666.80" y2="222.42" stroke="#999999" stroke-width="0.6" />
<line x1="539.80" y1="217.09" x2="542.30" y2="217.09" stroke="#999999" stroke-width="0.6" />
<line x1="664.60" y1="217.09" x2="666.80" y2="217.09" stroke="#999999" stroke-width="0.6" />
<line x1="539.80" y1="213.30" x2="542.30" y2="213.30" stroke="#999999" stroke-width="0.6" />
<line x1="664.60" y1="213.30" x2="666.80" y2="213.30" stroke="#999999" stroke-width="0.6" />
<line x1="539.80" y1="210.36" x2="542.30" y2="210.36" stroke="#999999" stroke-width="0.6" />
<line x1="664.60" y1="210.36" x2="666.80" y2="210.36" stroke="#999999" stroke-width="0.6" />
<line x1="539.80" y1="207.96" x2="542.30" y2="207.96" stroke="#999999" stroke-width="0.6" />
<line x1="664.60" y1="207.96" x2="666.80" y2="207.96" stroke="#999999" stroke-width="0.6" />
<line x1="539.80" y1="205.93" x2="542.30" y2="205.93" stroke="#999999" stroke-width="0.6" />
<line x1="664.60" y1="205.93" x2="666.80" y2="205.93" stroke="#999999" stroke-width="0.6" />
<line x1="539.80" y1="204.17" x2="542.30" y2="204.17" stroke="#999999" stroke-width="0.6" />
<line x1="664.60" y1="204.17" x2="666.80" y2="204.17" stroke="#999999" stroke-width="0.6" />
<line x1="539.80" y1="202.62" x2="542.30" y2="202.62" stroke="#999999" stroke-width="0.6" />
<line x1="664.60" y1="202.62" x2="666.80" y2="202.62" stroke="#999999" stroke-width="0.6" />
<text x="532.5" y="204.5" font-size="8.7" text-anchor="end" fill="#231f20" stroke="#231f20" stroke-width="0.22" >10<tspan dy="-3.6" font-size="6.3">−2</tspan></text>
<text x="673.3" y="204.5" font-size="8.7" text-anchor="start" fill="#231f20" stroke="#231f20" stroke-width="0.22" >10<tspan dy="-3.6" font-size="6.3">5</tspan></text>
<line x1="537.50" y1="231.55" x2="542.30" y2="231.55" stroke="#999999" stroke-width="0.9" />
<line x1="664.60" y1="231.55" x2="669.00" y2="231.55" stroke="#999999" stroke-width="0.9" />
<line x1="539.80" y1="252.74" x2="542.30" y2="252.74" stroke="#999999" stroke-width="0.6" />
<line x1="664.60" y1="252.74" x2="666.80" y2="252.74" stroke="#999999" stroke-width="0.6" />
<line x1="539.80" y1="247.40" x2="542.30" y2="247.40" stroke="#999999" stroke-width="0.6" />
<line x1="664.60" y1="247.40" x2="666.80" y2="247.40" stroke="#999999" stroke-width="0.6" />
<line x1="539.80" y1="243.61" x2="542.30" y2="243.61" stroke="#999999" stroke-width="0.6" />
<line x1="664.60" y1="243.61" x2="666.80" y2="243.61" stroke="#999999" stroke-width="0.6" />
<line x1="539.80" y1="240.68" x2="542.30" y2="240.68" stroke="#999999" stroke-width="0.6" />
<line x1="664.60" y1="240.68" x2="666.80" y2="240.68" stroke="#999999" stroke-width="0.6" />
<line x1="539.80" y1="238.28" x2="542.30" y2="238.28" stroke="#999999" stroke-width="0.6" />
<line x1="664.60" y1="238.28" x2="666.80" y2="238.28" stroke="#999999" stroke-width="0.6" />
<line x1="539.80" y1="236.25" x2="542.30" y2="236.25" stroke="#999999" stroke-width="0.6" />
<line x1="664.60" y1="236.25" x2="666.80" y2="236.25" stroke="#999999" stroke-width="0.6" />
<line x1="539.80" y1="234.49" x2="542.30" y2="234.49" stroke="#999999" stroke-width="0.6" />
<line x1="664.60" y1="234.49" x2="666.80" y2="234.49" stroke="#999999" stroke-width="0.6" />
<line x1="539.80" y1="232.94" x2="542.30" y2="232.94" stroke="#999999" stroke-width="0.6" />
<line x1="664.60" y1="232.94" x2="666.80" y2="232.94" stroke="#999999" stroke-width="0.6" />
<text x="532.5" y="234.9" font-size="8.7" text-anchor="end" fill="#231f20" stroke="#231f20" stroke-width="0.22" >10<tspan dy="-3.6" font-size="6.3">−3</tspan></text>
<text x="673.3" y="234.9" font-size="8.7" text-anchor="start" fill="#231f20" stroke="#231f20" stroke-width="0.22" >10<tspan dy="-3.6" font-size="6.3">4</tspan></text>
<line x1="537.50" y1="261.87" x2="542.30" y2="261.87" stroke="#999999" stroke-width="0.9" />
<line x1="664.60" y1="261.87" x2="669.00" y2="261.87" stroke="#999999" stroke-width="0.9" />
<line x1="539.80" y1="283.06" x2="542.30" y2="283.06" stroke="#999999" stroke-width="0.6" />
<line x1="664.60" y1="283.06" x2="666.80" y2="283.06" stroke="#999999" stroke-width="0.6" />
<line x1="539.80" y1="277.72" x2="542.30" y2="277.72" stroke="#999999" stroke-width="0.6" />
<line x1="664.60" y1="277.72" x2="666.80" y2="277.72" stroke="#999999" stroke-width="0.6" />
<line x1="539.80" y1="273.93" x2="542.30" y2="273.93" stroke="#999999" stroke-width="0.6" />
<line x1="664.60" y1="273.93" x2="666.80" y2="273.93" stroke="#999999" stroke-width="0.6" />
<line x1="539.80" y1="270.99" x2="542.30" y2="270.99" stroke="#999999" stroke-width="0.6" />
<line x1="664.60" y1="270.99" x2="666.80" y2="270.99" stroke="#999999" stroke-width="0.6" />
<line x1="539.80" y1="268.59" x2="542.30" y2="268.59" stroke="#999999" stroke-width="0.6" />
<line x1="664.60" y1="268.59" x2="666.80" y2="268.59" stroke="#999999" stroke-width="0.6" />
<line x1="539.80" y1="266.56" x2="542.30" y2="266.56" stroke="#999999" stroke-width="0.6" />
<line x1="664.60" y1="266.56" x2="666.80" y2="266.56" stroke="#999999" stroke-width="0.6" />
<line x1="539.80" y1="264.80" x2="542.30" y2="264.80" stroke="#999999" stroke-width="0.6" />
<line x1="664.60" y1="264.80" x2="666.80" y2="264.80" stroke="#999999" stroke-width="0.6" />
<line x1="539.80" y1="263.25" x2="542.30" y2="263.25" stroke="#999999" stroke-width="0.6" />
<line x1="664.60" y1="263.25" x2="666.80" y2="263.25" stroke="#999999" stroke-width="0.6" />
<text x="532.5" y="265.2" font-size="8.7" text-anchor="end" fill="#231f20" stroke="#231f20" stroke-width="0.22" >10<tspan dy="-3.6" font-size="6.3">−4</tspan></text>
<text x="673.3" y="265.2" font-size="8.7" text-anchor="start" fill="#231f20" stroke="#231f20" stroke-width="0.22" >10<tspan dy="-3.6" font-size="6.3">3</tspan></text>
<line x1="537.50" y1="292.18" x2="542.30" y2="292.18" stroke="#999999" stroke-width="0.9" />
<line x1="664.60" y1="292.18" x2="669.00" y2="292.18" stroke="#999999" stroke-width="0.9" />
<line x1="539.80" y1="313.37" x2="542.30" y2="313.37" stroke="#999999" stroke-width="0.6" />
<line x1="664.60" y1="313.37" x2="666.80" y2="313.37" stroke="#999999" stroke-width="0.6" />
<line x1="539.80" y1="308.04" x2="542.30" y2="308.04" stroke="#999999" stroke-width="0.6" />
<line x1="664.60" y1="308.04" x2="666.80" y2="308.04" stroke="#999999" stroke-width="0.6" />
<line x1="539.80" y1="304.25" x2="542.30" y2="304.25" stroke="#999999" stroke-width="0.6" />
<line x1="664.60" y1="304.25" x2="666.80" y2="304.25" stroke="#999999" stroke-width="0.6" />
<line x1="539.80" y1="301.31" x2="542.30" y2="301.31" stroke="#999999" stroke-width="0.6" />
<line x1="664.60" y1="301.31" x2="666.80" y2="301.31" stroke="#999999" stroke-width="0.6" />
<line x1="539.80" y1="298.91" x2="542.30" y2="298.91" stroke="#999999" stroke-width="0.6" />
<line x1="664.60" y1="298.91" x2="666.80" y2="298.91" stroke="#999999" stroke-width="0.6" />
<line x1="539.80" y1="296.88" x2="542.30" y2="296.88" stroke="#999999" stroke-width="0.6" />
<line x1="664.60" y1="296.88" x2="666.80" y2="296.88" stroke="#999999" stroke-width="0.6" />
<line x1="539.80" y1="295.12" x2="542.30" y2="295.12" stroke="#999999" stroke-width="0.6" />
<line x1="664.60" y1="295.12" x2="666.80" y2="295.12" stroke="#999999" stroke-width="0.6" />
<line x1="539.80" y1="293.57" x2="542.30" y2="293.57" stroke="#999999" stroke-width="0.6" />
<line x1="664.60" y1="293.57" x2="666.80" y2="293.57" stroke="#999999" stroke-width="0.6" />
<text x="532.5" y="295.5" font-size="8.7" text-anchor="end" fill="#231f20" stroke="#231f20" stroke-width="0.22" >10<tspan dy="-3.6" font-size="6.3">−5</tspan></text>
<text x="673.3" y="295.5" font-size="8.7" text-anchor="start" fill="#231f20" stroke="#231f20" stroke-width="0.22" >10<tspan dy="-3.6" font-size="6.3">2</tspan></text>
<line x1="537.50" y1="322.50" x2="542.30" y2="322.50" stroke="#999999" stroke-width="0.9" />
<line x1="664.60" y1="322.50" x2="669.00" y2="322.50" stroke="#999999" stroke-width="0.9" />
<text x="532.5" y="325.8" font-size="8.7" text-anchor="end" fill="#231f20" stroke="#231f20" stroke-width="0.22" >10<tspan dy="-3.6" font-size="6.3">−6</tspan></text>
<text x="673.3" y="325.8" font-size="8.7" text-anchor="start" fill="#231f20" stroke="#231f20" stroke-width="0.22" >10<tspan dy="-3.6" font-size="6.3">1</tspan></text>
<line x1="542.30" y1="273.40" x2="664.60" y2="273.40" stroke="#e16f96" stroke-width="0.9" stroke-dasharray="1.2,1.6"/>
<line x1="542.30" y1="309.30" x2="664.60" y2="309.30" stroke="#3fbcc4" stroke-width="0.9" stroke-dasharray="1.2,1.6"/>
<rect x="546.70" y="298.20" width="8.10" height="24.30" fill="#c98ba4" />
<rect x="561.90" y="309.00" width="8.10" height="13.50" fill="#93d6da" />
<rect x="576.90" y="192.40" width="8.10" height="130.10" fill="#de76a0" />
<rect x="591.70" y="308.00" width="8.10" height="14.50" fill="#3bbcc6" />
<rect x="606.80" y="295.40" width="8.10" height="27.10" fill="#c98ba4" />
<rect x="621.80" y="269.00" width="8.10" height="53.50" fill="#93d6da" />
<rect x="636.70" y="179.60" width="8.10" height="142.90" fill="#de76a0" />
<rect x="651.80" y="181.70" width="8.10" height="140.80" fill="#3bbcc6" />
<line x1="625.80" y1="262.70" x2="625.80" y2="279.40" stroke="#555" stroke-width="0.8" />
<circle cx="623.5" cy="273" r="1.1" fill="#fff" stroke="#777" stroke-width="0.5"/>
<circle cx="628" cy="272.5" r="1.1" fill="#fff" stroke="#777" stroke-width="0.5"/>
<circle cx="625.8" cy="263" r="1.1" fill="#fff" stroke="#777" stroke-width="0.5"/>
<circle cx="609.5" cy="294.5" r="1.1" fill="#fff" stroke="#777" stroke-width="0.5"/>
<circle cx="611" cy="297.5" r="1.1" fill="#fff" stroke="#777" stroke-width="0.5"/>
<circle cx="610.8" cy="292.5" r="1.1" fill="#fff" stroke="#777" stroke-width="0.5"/>
<circle cx="548.5" cy="298" r="1.1" fill="#fff" stroke="#777" stroke-width="0.5"/>
<circle cx="551" cy="298" r="1.1" fill="#fff" stroke="#777" stroke-width="0.5"/>
<circle cx="553.5" cy="298" r="1.1" fill="#fff" stroke="#777" stroke-width="0.5"/>
<circle cx="563.5" cy="308.5" r="1.1" fill="#fff" stroke="#777" stroke-width="0.5"/>
<circle cx="566.5" cy="307.5" r="1.1" fill="#fff" stroke="#777" stroke-width="0.5"/>
<circle cx="565.3" cy="312" r="1.1" fill="#fff" stroke="#777" stroke-width="0.5"/>
<line x1="565.50" y1="306.50" x2="565.50" y2="313.00" stroke="#555" stroke-width="0.7" />
<circle cx="579.00" cy="189.70" r="1.00" fill="#231f20" />
<circle cx="581.00" cy="193.00" r="1.00" fill="#231f20" />
<circle cx="582.50" cy="191.00" r="1.00" fill="#231f20" />
<circle cx="593.50" cy="307.70" r="1.00" fill="#231f20" />
<circle cx="596.00" cy="307.70" r="1.00" fill="#231f20" />
<circle cx="598.50" cy="307.70" r="1.00" fill="#231f20" />
<circle cx="638.50" cy="179.20" r="1.00" fill="#231f20" />
<circle cx="641.00" cy="178.50" r="1.00" fill="#231f20" />
<circle cx="643.00" cy="178.20" r="1.00" fill="#231f20" />
<circle cx="654.00" cy="181.00" r="1.00" fill="#231f20" />
<circle cx="656.30" cy="180.00" r="1.00" fill="#231f20" />
<circle cx="657.50" cy="181.50" r="1.00" fill="#231f20" />
<circle cx="655.00" cy="179.00" r="1.00" fill="#231f20" />
<line x1="580.80" y1="188.00" x2="580.80" y2="196.00" stroke="#231f20" stroke-width="0.6" />
<line x1="546.60" y1="328.90" x2="599.70" y2="328.90" stroke="#8d8d8d" stroke-width="1.8" />
<line x1="606.80" y1="328.90" x2="659.80" y2="328.90" stroke="#8d8d8d" stroke-width="1.8" />
<text x="573.0" y="339.2" font-size="8.9" text-anchor="middle" fill="#231f20" stroke="#231f20" stroke-width="0.22" >WT</text>
<text x="632.8" y="339.2" font-size="8.9" text-anchor="middle" fill="#231f20" stroke="#231f20" stroke-width="0.22" >INSPECT</text>
<circle cx="562.3" cy="134.1" r="1.7" fill="#fff" stroke="#231f20" stroke-width="0.6"/>
<text x="567.3" y="137.3" font-size="8.9" text-anchor="start" fill="#231f20" stroke="#231f20" stroke-width="0.22" >Control</text>
<circle cx="605.50" cy="134.10" r="1.80" fill="#231f20" />
<text x="610.7" y="137.3" font-size="8.9" text-anchor="start" fill="#231f20" stroke="#231f20" stroke-width="0.22" >Induced</text>
<rect x="500.80" y="285.20" width="5.90" height="5.90" fill="#de76a0" />
<rect x="697.20" y="203.50" width="6.30" height="5.60" fill="#3bbcc6" />
<text font-size="8.8" fill="#231f20" stroke="#231f20" stroke-width="0.22" text-anchor="middle" transform="translate(507.0,224.6) rotate(-90)"><tspan font-style="italic">IL2</tspan> mRNA relative to <tspan font-style="italic">ACTB</tspan></text>
<text font-size="9.1" fill="#231f20" stroke="#231f20" stroke-width="0.22" text-anchor="middle" transform="translate(697.5,237) rotate(90)">NLuc (RLU)</text>
<text x="25.5" y="323.3" font-size="10.5" text-anchor="start" fill="#231f20" font-weight="bold" >e</text>
<line x1="88.30" y1="344.60" x2="178.60" y2="344.60" stroke="#999999" stroke-width="0.9" />
<line x1="88.30" y1="344.60" x2="88.30" y2="435.50" stroke="#999999" stroke-width="0.9" />
<line x1="178.60" y1="344.60" x2="178.60" y2="435.50" stroke="#999999" stroke-width="0.9" />
<line x1="88.30" y1="435.50" x2="178.60" y2="435.50" stroke="#999999" stroke-width="0.9" />
<line x1="84.80" y1="435.50" x2="88.30" y2="435.50" stroke="#999999" stroke-width="0.9" />
<line x1="86.30" y1="430.03" x2="88.30" y2="430.03" stroke="#999999" stroke-width="0.6" />
<line x1="86.30" y1="426.83" x2="88.30" y2="426.83" stroke="#999999" stroke-width="0.6" />
<line x1="86.30" y1="424.55" x2="88.30" y2="424.55" stroke="#999999" stroke-width="0.6" />
<line x1="86.30" y1="422.79" x2="88.30" y2="422.79" stroke="#999999" stroke-width="0.6" />
<line x1="86.30" y1="421.35" x2="88.30" y2="421.35" stroke="#999999" stroke-width="0.6" />
<line x1="86.30" y1="420.14" x2="88.30" y2="420.14" stroke="#999999" stroke-width="0.6" />
<line x1="86.30" y1="419.08" x2="88.30" y2="419.08" stroke="#999999" stroke-width="0.6" />
<line x1="86.30" y1="418.15" x2="88.30" y2="418.15" stroke="#999999" stroke-width="0.6" />
<text x="79.5" y="438.9" font-size="9.1" text-anchor="end" fill="#231f20" stroke="#231f20" stroke-width="0.22" >10<tspan dy="-3.8" font-size="6.5">1</tspan></text>
<line x1="84.80" y1="417.32" x2="88.30" y2="417.32" stroke="#999999" stroke-width="0.9" />
<line x1="86.30" y1="411.85" x2="88.30" y2="411.85" stroke="#999999" stroke-width="0.6" />
<line x1="86.30" y1="408.65" x2="88.30" y2="408.65" stroke="#999999" stroke-width="0.6" />
<line x1="86.30" y1="406.37" x2="88.30" y2="406.37" stroke="#999999" stroke-width="0.6" />
<line x1="86.30" y1="404.61" x2="88.30" y2="404.61" stroke="#999999" stroke-width="0.6" />
<line x1="86.30" y1="403.17" x2="88.30" y2="403.17" stroke="#999999" stroke-width="0.6" />
<line x1="86.30" y1="401.96" x2="88.30" y2="401.96" stroke="#999999" stroke-width="0.6" />
<line x1="86.30" y1="400.90" x2="88.30" y2="400.90" stroke="#999999" stroke-width="0.6" />
<line x1="86.30" y1="399.97" x2="88.30" y2="399.97" stroke="#999999" stroke-width="0.6" />
<text x="79.5" y="420.7" font-size="9.1" text-anchor="end" fill="#231f20" stroke="#231f20" stroke-width="0.22" >10<tspan dy="-3.8" font-size="6.5">2</tspan></text>
<line x1="84.80" y1="399.14" x2="88.30" y2="399.14" stroke="#999999" stroke-width="0.9" />
<line x1="86.30" y1="393.67" x2="88.30" y2="393.67" stroke="#999999" stroke-width="0.6" />
<line x1="86.30" y1="390.47" x2="88.30" y2="390.47" stroke="#999999" stroke-width="0.6" />
<line x1="86.30" y1="388.19" x2="88.30" y2="388.19" stroke="#999999" stroke-width="0.6" />
<line x1="86.30" y1="386.43" x2="88.30" y2="386.43" stroke="#999999" stroke-width="0.6" />
<line x1="86.30" y1="384.99" x2="88.30" y2="384.99" stroke="#999999" stroke-width="0.6" />
<line x1="86.30" y1="383.78" x2="88.30" y2="383.78" stroke="#999999" stroke-width="0.6" />
<line x1="86.30" y1="382.72" x2="88.30" y2="382.72" stroke="#999999" stroke-width="0.6" />
<line x1="86.30" y1="381.79" x2="88.30" y2="381.79" stroke="#999999" stroke-width="0.6" />
<text x="79.5" y="402.5" font-size="9.1" text-anchor="end" fill="#231f20" stroke="#231f20" stroke-width="0.22" >10<tspan dy="-3.8" font-size="6.5">3</tspan></text>
<line x1="84.80" y1="380.96" x2="88.30" y2="380.96" stroke="#999999" stroke-width="0.9" />
<line x1="86.30" y1="375.49" x2="88.30" y2="375.49" stroke="#999999" stroke-width="0.6" />
<line x1="86.30" y1="372.29" x2="88.30" y2="372.29" stroke="#999999" stroke-width="0.6" />
<line x1="86.30" y1="370.01" x2="88.30" y2="370.01" stroke="#999999" stroke-width="0.6" />
<line x1="86.30" y1="368.25" x2="88.30" y2="368.25" stroke="#999999" stroke-width="0.6" />
<line x1="86.30" y1="366.81" x2="88.30" y2="366.81" stroke="#999999" stroke-width="0.6" />
<line x1="86.30" y1="365.60" x2="88.30" y2="365.60" stroke="#999999" stroke-width="0.6" />
<line x1="86.30" y1="364.54" x2="88.30" y2="364.54" stroke="#999999" stroke-width="0.6" />
<line x1="86.30" y1="363.61" x2="88.30" y2="363.61" stroke="#999999" stroke-width="0.6" />
<text x="79.5" y="384.4" font-size="9.1" text-anchor="end" fill="#231f20" stroke="#231f20" stroke-width="0.22" >10<tspan dy="-3.8" font-size="6.5">4</tspan></text>
<line x1="84.80" y1="362.78" x2="88.30" y2="362.78" stroke="#999999" stroke-width="0.9" />
<line x1="86.30" y1="357.31" x2="88.30" y2="357.31" stroke="#999999" stroke-width="0.6" />
<line x1="86.30" y1="354.11" x2="88.30" y2="354.11" stroke="#999999" stroke-width="0.6" />
<line x1="86.30" y1="351.83" x2="88.30" y2="351.83" stroke="#999999" stroke-width="0.6" />
<line x1="86.30" y1="350.07" x2="88.30" y2="350.07" stroke="#999999" stroke-width="0.6" />
<line x1="86.30" y1="348.63" x2="88.30" y2="348.63" stroke="#999999" stroke-width="0.6" />
<line x1="86.30" y1="347.42" x2="88.30" y2="347.42" stroke="#999999" stroke-width="0.6" />
<line x1="86.30" y1="346.36" x2="88.30" y2="346.36" stroke="#999999" stroke-width="0.6" />
<line x1="86.30" y1="345.43" x2="88.30" y2="345.43" stroke="#999999" stroke-width="0.6" />
<text x="79.5" y="366.2" font-size="9.1" text-anchor="end" fill="#231f20" stroke="#231f20" stroke-width="0.22" >10<tspan dy="-3.8" font-size="6.5">5</tspan></text>
<line x1="84.80" y1="344.60" x2="88.30" y2="344.60" stroke="#999999" stroke-width="0.9" />
<text x="79.5" y="348.0" font-size="9.1" text-anchor="end" fill="#231f20" stroke="#231f20" stroke-width="0.22" >10<tspan dy="-3.8" font-size="6.5">6</tspan></text>
<line x1="88.30" y1="435.50" x2="88.30" y2="438.70" stroke="#999999" stroke-width="0.9" />
<line x1="106.24" y1="435.50" x2="106.24" y2="438.70" stroke="#999999" stroke-width="0.9" />
<line x1="124.18" y1="435.50" x2="124.18" y2="438.70" stroke="#999999" stroke-width="0.9" />
<line x1="142.12" y1="435.50" x2="142.12" y2="438.70" stroke="#999999" stroke-width="0.9" />
<line x1="160.06" y1="435.50" x2="160.06" y2="438.70" stroke="#999999" stroke-width="0.9" />
<line x1="178.00" y1="435.50" x2="178.00" y2="438.70" stroke="#999999" stroke-width="0.9" />
<polygon points="91.89,421.68 95.48,420.59 102.65,419.50 109.83,418.41 174.41,405.32 174.41,410.05 109.83,423.14 102.65,424.23 95.48,425.32 91.89,426.41" fill="#9fc9c9" opacity="0.6"/>
<polyline points="91.89,424.23 95.48,423.14 102.65,422.05 109.83,420.96 174.41,407.87" fill="none" stroke="#5f9696" stroke-width="0.9" stroke-linejoin="round" />
<polygon points="91.89,423.68 95.48,420.41 102.65,411.87 109.83,396.78 174.41,353.87 174.41,355.69 109.83,398.59 102.65,413.68 95.48,422.23 91.89,425.50" fill="#3fbfca" opacity="0.5"/>
<polyline points="91.89,424.59 95.48,421.32 102.65,412.77 109.83,397.69 174.41,354.78" fill="none" stroke="#3fbfca" stroke-width="1.4" stroke-linejoin="round" />
<circle cx="91.89" cy="424.59" r="1.20" fill="#3fbfca" />
<circle cx="95.48" cy="421.32" r="1.20" fill="#3fbfca" />
<circle cx="102.65" cy="412.77" r="1.20" fill="#3fbfca" />
<circle cx="109.83" cy="397.69" r="1.20" fill="#3fbfca" />
<circle cx="174.41" cy="354.78" r="1.20" fill="#3fbfca" />
<line x1="102.20" y1="394.00" x2="102.20" y2="435.50" stroke="#231f20" stroke-width="0.7" stroke-dasharray="1.3,1.3"/>
<polygon points="96.20,385.60 96.76,386.83 98.10,386.98 97.10,387.89 97.38,389.22 96.20,388.55 95.02,389.22 95.30,387.89 94.30,386.98 95.64,386.83" fill="#3fbfca" />
<polygon points="100.80,385.60 101.36,386.83 102.70,386.98 101.70,387.89 101.98,389.22 100.80,388.55 99.62,389.22 99.90,387.89 98.90,386.98 100.24,386.83" fill="#3fbfca" />
<polygon points="105.40,385.60 105.96,386.83 107.30,386.98 106.30,387.89 106.58,389.22 105.40,388.55 104.22,389.22 104.50,387.89 103.50,386.98 104.84,386.83" fill="#3fbfca" />
<polygon points="110.00,385.60 110.56,386.83 111.90,386.98 110.90,387.89 111.18,389.22 110.00,388.55 108.82,389.22 109.10,387.89 108.10,386.98 109.44,386.83" fill="#3fbfca" />
<circle cx="91.00" cy="338.30" r="2.30" fill="#3fbfca" />
<text x="95.5" y="341.3" font-size="8.4" text-anchor="start" fill="#231f20" stroke="#231f20" stroke-width="0.22" >Induced</text>
<circle cx="137.4" cy="338.3" r="2.1" fill="#fff" stroke="#7aa8a8" stroke-width="0.6"/>
<text x="142.4" y="341.3" font-size="8.4" text-anchor="start" fill="#231f20" stroke="#231f20" stroke-width="0.22" textLength="26.7" lengthAdjust="spacingAndGlyphs">Control</text>
<text font-size="9.1" fill="#231f20" stroke="#231f20" stroke-width="0.22" text-anchor="middle" transform="translate(54,390) rotate(-90)">NLuc (RLU)</text>
<circle cx="49.30" cy="456.00" r="2.30" fill="#a3172b" />
<text x="54.9" y="459.2" font-size="8.26" text-anchor="start" fill="#231f20" stroke="#231f20" stroke-width="0.22" >INSPECT induced</text>
<circle cx="131.5" cy="456" r="2.1" fill="#fff" stroke="#a3172b" stroke-width="0.6"/>
<text x="137.5" y="459.2" font-size="8.22" text-anchor="start" fill="#231f20" stroke="#231f20" stroke-width="0.22" >INSPECT control</text>
<circle cx="49.30" cy="467.90" r="2.30" fill="#e48aa8" />
<text x="54.9" y="471.1" font-size="8.15" text-anchor="start" fill="#231f20" stroke="#231f20" stroke-width="0.22" >WT induced</text>
<circle cx="131.5" cy="467.9" r="2.1" fill="#fff" stroke="#e48aa8" stroke-width="0.6"/>
<text x="137.5" y="471.1" font-size="8.15" text-anchor="start" fill="#231f20" stroke="#231f20" stroke-width="0.22" >WT control</text>
<line x1="87.80" y1="482.50" x2="178.40" y2="482.50" stroke="#999999" stroke-width="0.9" />
<line x1="87.80" y1="482.50" x2="87.80" y2="573.60" stroke="#999999" stroke-width="0.9" />
<line x1="178.40" y1="482.50" x2="178.40" y2="573.60" stroke="#999999" stroke-width="0.9" />
<line x1="87.80" y1="573.60" x2="178.40" y2="573.60" stroke="#999999" stroke-width="0.9" />
<line x1="84.30" y1="573.60" x2="87.80" y2="573.60" stroke="#999999" stroke-width="0.9" />
<line x1="85.80" y1="569.03" x2="87.80" y2="569.03" stroke="#999999" stroke-width="0.6" />
<line x1="85.80" y1="566.36" x2="87.80" y2="566.36" stroke="#999999" stroke-width="0.6" />
<line x1="85.80" y1="564.46" x2="87.80" y2="564.46" stroke="#999999" stroke-width="0.6" />
<line x1="85.80" y1="562.99" x2="87.80" y2="562.99" stroke="#999999" stroke-width="0.6" />
<line x1="85.80" y1="561.79" x2="87.80" y2="561.79" stroke="#999999" stroke-width="0.6" />
<line x1="85.80" y1="560.77" x2="87.80" y2="560.77" stroke="#999999" stroke-width="0.6" />
<line x1="85.80" y1="559.89" x2="87.80" y2="559.89" stroke="#999999" stroke-width="0.6" />
<line x1="85.80" y1="559.11" x2="87.80" y2="559.11" stroke="#999999" stroke-width="0.6" />
<text x="79.0" y="577.0" font-size="9.1" text-anchor="end" fill="#231f20" stroke="#231f20" stroke-width="0.22" >10<tspan dy="-3.8" font-size="6.5">−5</tspan></text>
<line x1="84.30" y1="558.42" x2="87.80" y2="558.42" stroke="#999999" stroke-width="0.9" />
<line x1="85.80" y1="553.85" x2="87.80" y2="553.85" stroke="#999999" stroke-width="0.6" />
<line x1="85.80" y1="551.17" x2="87.80" y2="551.17" stroke="#999999" stroke-width="0.6" />
<line x1="85.80" y1="549.28" x2="87.80" y2="549.28" stroke="#999999" stroke-width="0.6" />
<line x1="85.80" y1="547.80" x2="87.80" y2="547.80" stroke="#999999" stroke-width="0.6" />
<line x1="85.80" y1="546.60" x2="87.80" y2="546.60" stroke="#999999" stroke-width="0.6" />
<line x1="85.80" y1="545.59" x2="87.80" y2="545.59" stroke="#999999" stroke-width="0.6" />
<line x1="85.80" y1="544.70" x2="87.80" y2="544.70" stroke="#999999" stroke-width="0.6" />
<line x1="85.80" y1="543.93" x2="87.80" y2="543.93" stroke="#999999" stroke-width="0.6" />
<text x="79.0" y="561.8" font-size="9.1" text-anchor="end" fill="#231f20" stroke="#231f20" stroke-width="0.22" >10<tspan dy="-3.8" font-size="6.5">−4</tspan></text>
<line x1="84.30" y1="543.23" x2="87.80" y2="543.23" stroke="#999999" stroke-width="0.9" />
<line x1="85.80" y1="538.66" x2="87.80" y2="538.66" stroke="#999999" stroke-width="0.6" />
<line x1="85.80" y1="535.99" x2="87.80" y2="535.99" stroke="#999999" stroke-width="0.6" />
<line x1="85.80" y1="534.09" x2="87.80" y2="534.09" stroke="#999999" stroke-width="0.6" />
<line x1="85.80" y1="532.62" x2="87.80" y2="532.62" stroke="#999999" stroke-width="0.6" />
<line x1="85.80" y1="531.42" x2="87.80" y2="531.42" stroke="#999999" stroke-width="0.6" />
<line x1="85.80" y1="530.40" x2="87.80" y2="530.40" stroke="#999999" stroke-width="0.6" />
<line x1="85.80" y1="529.52" x2="87.80" y2="529.52" stroke="#999999" stroke-width="0.6" />
<line x1="85.80" y1="528.74" x2="87.80" y2="528.74" stroke="#999999" stroke-width="0.6" />
<text x="79.0" y="546.6" font-size="9.1" text-anchor="end" fill="#231f20" stroke="#231f20" stroke-width="0.22" >10<tspan dy="-3.8" font-size="6.5">−3</tspan></text>
<line x1="84.30" y1="528.05" x2="87.80" y2="528.05" stroke="#999999" stroke-width="0.9" />
<line x1="85.80" y1="523.48" x2="87.80" y2="523.48" stroke="#999999" stroke-width="0.6" />
<line x1="85.80" y1="520.81" x2="87.80" y2="520.81" stroke="#999999" stroke-width="0.6" />
<line x1="85.80" y1="518.91" x2="87.80" y2="518.91" stroke="#999999" stroke-width="0.6" />
<line x1="85.80" y1="517.44" x2="87.80" y2="517.44" stroke="#999999" stroke-width="0.6" />
<line x1="85.80" y1="516.24" x2="87.80" y2="516.24" stroke="#999999" stroke-width="0.6" />
<line x1="85.80" y1="515.22" x2="87.80" y2="515.22" stroke="#999999" stroke-width="0.6" />
<line x1="85.80" y1="514.34" x2="87.80" y2="514.34" stroke="#999999" stroke-width="0.6" />
<line x1="85.80" y1="513.56" x2="87.80" y2="513.56" stroke="#999999" stroke-width="0.6" />
<text x="79.0" y="531.4" font-size="9.1" text-anchor="end" fill="#231f20" stroke="#231f20" stroke-width="0.22" >10<tspan dy="-3.8" font-size="6.5">−2</tspan></text>
<line x1="84.30" y1="512.87" x2="87.80" y2="512.87" stroke="#999999" stroke-width="0.9" />
<line x1="85.80" y1="508.30" x2="87.80" y2="508.30" stroke="#999999" stroke-width="0.6" />
<line x1="85.80" y1="505.62" x2="87.80" y2="505.62" stroke="#999999" stroke-width="0.6" />
<line x1="85.80" y1="503.73" x2="87.80" y2="503.73" stroke="#999999" stroke-width="0.6" />
<line x1="85.80" y1="502.25" x2="87.80" y2="502.25" stroke="#999999" stroke-width="0.6" />
<line x1="85.80" y1="501.05" x2="87.80" y2="501.05" stroke="#999999" stroke-width="0.6" />
<line x1="85.80" y1="500.04" x2="87.80" y2="500.04" stroke="#999999" stroke-width="0.6" />
<line x1="85.80" y1="499.15" x2="87.80" y2="499.15" stroke="#999999" stroke-width="0.6" />
<line x1="85.80" y1="498.38" x2="87.80" y2="498.38" stroke="#999999" stroke-width="0.6" />
<text x="79.0" y="516.3" font-size="9.1" text-anchor="end" fill="#231f20" stroke="#231f20" stroke-width="0.22" >10<tspan dy="-3.8" font-size="6.5">−1</tspan></text>
<line x1="84.30" y1="497.68" x2="87.80" y2="497.68" stroke="#999999" stroke-width="0.9" />
<line x1="85.80" y1="493.11" x2="87.80" y2="493.11" stroke="#999999" stroke-width="0.6" />
<line x1="85.80" y1="490.44" x2="87.80" y2="490.44" stroke="#999999" stroke-width="0.6" />
<line x1="85.80" y1="488.54" x2="87.80" y2="488.54" stroke="#999999" stroke-width="0.6" />
<line x1="85.80" y1="487.07" x2="87.80" y2="487.07" stroke="#999999" stroke-width="0.6" />
<line x1="85.80" y1="485.87" x2="87.80" y2="485.87" stroke="#999999" stroke-width="0.6" />
<line x1="85.80" y1="484.85" x2="87.80" y2="484.85" stroke="#999999" stroke-width="0.6" />
<line x1="85.80" y1="483.97" x2="87.80" y2="483.97" stroke="#999999" stroke-width="0.6" />
<line x1="85.80" y1="483.19" x2="87.80" y2="483.19" stroke="#999999" stroke-width="0.6" />
<text x="79.0" y="501.1" font-size="9.1" text-anchor="end" fill="#231f20" stroke="#231f20" stroke-width="0.22" >10<tspan dy="-3.8" font-size="6.5">0</tspan></text>
<line x1="84.30" y1="482.50" x2="87.80" y2="482.50" stroke="#999999" stroke-width="0.9" />
<text x="79.0" y="485.9" font-size="9.1" text-anchor="end" fill="#231f20" stroke="#231f20" stroke-width="0.22" >10<tspan dy="-3.8" font-size="6.5">1</tspan></text>
<line x1="87.80" y1="573.60" x2="87.80" y2="576.80" stroke="#999999" stroke-width="0.9" />
<line x1="105.80" y1="573.60" x2="105.80" y2="576.80" stroke="#999999" stroke-width="0.9" />
<line x1="123.80" y1="573.60" x2="123.80" y2="576.80" stroke="#999999" stroke-width="0.9" />
<line x1="141.80" y1="573.60" x2="141.80" y2="576.80" stroke="#999999" stroke-width="0.9" />
<line x1="159.80" y1="573.60" x2="159.80" y2="576.80" stroke="#999999" stroke-width="0.9" />
<line x1="177.80" y1="573.60" x2="177.80" y2="576.80" stroke="#999999" stroke-width="0.9" />
<polygon points="91.40,556.90 95.00,555.38 102.20,556.90 109.40,556.90 174.20,553.86 174.20,563.73 109.40,566.77 102.20,566.77 95.00,565.25 91.40,566.77" fill="#e7a6bb" opacity="0.5"/>
<polyline points="91.40,561.45 95.00,559.94 102.20,561.45 109.40,561.45 174.20,558.42" fill="none" stroke="#e8a0b4" stroke-width="0.9" stroke-linejoin="round" />
<polygon points="91.40,554.62 95.00,554.62 102.20,556.14 109.40,556.29 174.20,553.10 174.20,559.18 109.40,562.36 102.20,562.21 95.00,560.69 91.40,560.69" fill="#d9808c" opacity="0.45"/>
<polyline points="91.40,557.66 95.00,557.66 102.20,559.18 109.40,559.33 174.20,556.14" fill="none" stroke="#d96a78" stroke-width="0.9" stroke-linejoin="round" />
<polygon points="91.40,557.66 95.00,541.72 102.20,521.22 109.40,528.81 174.20,500.42 174.20,507.25 109.40,534.88 102.20,538.68 95.00,553.86 91.40,568.29" fill="#eaa6c0" opacity="0.6"/>
<polyline points="91.40,562.97 95.00,547.79 102.20,529.57 109.40,531.85 174.20,503.45" fill="none" stroke="#e48aa8" stroke-width="1.0" stroke-linejoin="round" />
<polygon points="91.40,558.42 95.00,542.47 102.20,521.22 109.40,513.93 174.20,490.55 174.20,498.14 109.40,521.52 102.20,528.81 95.00,550.07 91.40,566.01" fill="#a3172b" opacity="0.45"/>
<polyline points="91.40,562.21 95.00,546.27 102.20,525.01 109.40,517.73 174.20,494.34" fill="none" stroke="#a3172b" stroke-width="1.4" stroke-linejoin="round" />
<circle cx="91.40" cy="566.01" r="1.00" fill="#a3172b" />
<circle cx="91.40" cy="562.21" r="1.00" fill="#a3172b" />
<circle cx="91.40" cy="558.42" r="1.00" fill="#a3172b" />
<circle cx="95.00" cy="550.07" r="1.00" fill="#a3172b" />
<circle cx="95.00" cy="546.27" r="1.00" fill="#a3172b" />
<circle cx="95.00" cy="542.47" r="1.00" fill="#a3172b" />
<circle cx="102.20" cy="528.81" r="1.00" fill="#a3172b" />
<circle cx="102.20" cy="525.01" r="1.00" fill="#a3172b" />
<circle cx="102.20" cy="521.22" r="1.00" fill="#a3172b" />
<circle cx="109.40" cy="521.52" r="1.00" fill="#a3172b" />
<circle cx="109.40" cy="517.73" r="1.00" fill="#a3172b" />
<circle cx="109.40" cy="513.93" r="1.00" fill="#a3172b" />
<circle cx="174.20" cy="498.14" r="1.00" fill="#a3172b" />
<circle cx="174.20" cy="494.34" r="1.00" fill="#a3172b" />
<circle cx="174.20" cy="490.55" r="1.00" fill="#a3172b" />
<circle cx="91.40" cy="567.53" r="0.90" fill="#e48aa8" />
<circle cx="91.40" cy="558.42" r="0.90" fill="#e48aa8" />
<circle cx="95.00" cy="552.34" r="0.90" fill="#e48aa8" />
<circle cx="95.00" cy="543.23" r="0.90" fill="#e48aa8" />
<circle cx="102.20" cy="534.12" r="0.90" fill="#e48aa8" />
<circle cx="102.20" cy="525.01" r="0.90" fill="#e48aa8" />
<circle cx="109.40" cy="536.40" r="0.90" fill="#e48aa8" />
<circle cx="109.40" cy="527.29" r="0.90" fill="#e48aa8" />
<circle cx="174.20" cy="508.01" r="0.90" fill="#e48aa8" />
<circle cx="174.20" cy="498.90" r="0.90" fill="#e48aa8" />
<line x1="102.20" y1="500.00" x2="102.20" y2="573.60" stroke="#231f20" stroke-width="0.7" stroke-dasharray="1.3,1.3"/>
<polygon points="91.30,497.30 91.86,498.53 93.20,498.68 92.20,499.59 92.48,500.92 91.30,500.25 90.12,500.92 90.40,499.59 89.40,498.68 90.74,498.53" fill="#b5162c" />
<polygon points="95.90,497.30 96.46,498.53 97.80,498.68 96.80,499.59 97.08,500.92 95.90,500.25 94.72,500.92 95.00,499.59 94.00,498.68 95.34,498.53" fill="#b5162c" />
<polygon points="100.50,497.30 101.06,498.53 102.40,498.68 101.40,499.59 101.68,500.92 100.50,500.25 99.32,500.92 99.60,499.59 98.60,498.68 99.94,498.53" fill="#b5162c" />
<line x1="102.60" y1="504.60" x2="104.40" y2="497.80" stroke="#231f20" stroke-width="0.8" />
<polygon points="106.60,497.30 107.16,498.53 108.50,498.68 107.50,499.59 107.78,500.92 106.60,500.25 105.42,500.92 105.70,499.59 104.70,498.68 106.04,498.53" fill="#ec8fae" />
<polygon points="111.60,497.30 112.16,498.53 113.50,498.68 112.50,499.59 112.78,500.92 111.60,500.25 110.42,500.92 110.70,499.59 109.70,498.68 111.04,498.53" fill="#ec8fae" />
<text font-size="9.1" fill="#231f20" stroke="#231f20" stroke-width="0.22" text-anchor="middle" transform="translate(43.4,528.3) rotate(-90)"><tspan font-style="italic">IL2</tspan> mRNA</text>
<text font-size="9.1" fill="#231f20" stroke="#231f20" stroke-width="0.22" text-anchor="middle" transform="translate(54.5,528.5) rotate(-90)">relative to <tspan font-style="italic">ACTB</tspan></text>
<line x1="88.30" y1="599.30" x2="178.40" y2="599.30" stroke="#999999" stroke-width="0.9" />
<line x1="88.30" y1="599.30" x2="88.30" y2="689.50" stroke="#999999" stroke-width="0.9" />
<line x1="178.40" y1="599.30" x2="178.40" y2="689.50" stroke="#999999" stroke-width="0.9" />
<line x1="88.30" y1="689.50" x2="178.40" y2="689.50" stroke="#999999" stroke-width="0.9" />
<line x1="84.80" y1="689.50" x2="88.30" y2="689.50" stroke="#999999" stroke-width="0.9" />
<line x1="86.30" y1="684.97" x2="88.30" y2="684.97" stroke="#999999" stroke-width="0.6" />
<line x1="86.30" y1="682.33" x2="88.30" y2="682.33" stroke="#999999" stroke-width="0.6" />
<line x1="86.30" y1="680.45" x2="88.30" y2="680.45" stroke="#999999" stroke-width="0.6" />
<line x1="86.30" y1="678.99" x2="88.30" y2="678.99" stroke="#999999" stroke-width="0.6" />
<line x1="86.30" y1="677.80" x2="88.30" y2="677.80" stroke="#999999" stroke-width="0.6" />
<line x1="86.30" y1="676.80" x2="88.30" y2="676.80" stroke="#999999" stroke-width="0.6" />
<line x1="86.30" y1="675.92" x2="88.30" y2="675.92" stroke="#999999" stroke-width="0.6" />
<line x1="86.30" y1="675.15" x2="88.30" y2="675.15" stroke="#999999" stroke-width="0.6" />
<text x="79.5" y="692.9" font-size="9.1" text-anchor="end" fill="#231f20" stroke="#231f20" stroke-width="0.22" >10<tspan dy="-3.8" font-size="6.5">−5</tspan></text>
<line x1="84.80" y1="674.47" x2="88.30" y2="674.47" stroke="#999999" stroke-width="0.9" />
<line x1="86.30" y1="669.94" x2="88.30" y2="669.94" stroke="#999999" stroke-width="0.6" />
<line x1="86.30" y1="667.29" x2="88.30" y2="667.29" stroke="#999999" stroke-width="0.6" />
<line x1="86.30" y1="665.42" x2="88.30" y2="665.42" stroke="#999999" stroke-width="0.6" />
<line x1="86.30" y1="663.96" x2="88.30" y2="663.96" stroke="#999999" stroke-width="0.6" />
<line x1="86.30" y1="662.77" x2="88.30" y2="662.77" stroke="#999999" stroke-width="0.6" />
<line x1="86.30" y1="661.76" x2="88.30" y2="661.76" stroke="#999999" stroke-width="0.6" />
<line x1="86.30" y1="660.89" x2="88.30" y2="660.89" stroke="#999999" stroke-width="0.6" />
<line x1="86.30" y1="660.12" x2="88.30" y2="660.12" stroke="#999999" stroke-width="0.6" />
<text x="79.5" y="677.9" font-size="9.1" text-anchor="end" fill="#231f20" stroke="#231f20" stroke-width="0.22" >10<tspan dy="-3.8" font-size="6.5">−4</tspan></text>
<line x1="84.80" y1="659.43" x2="88.30" y2="659.43" stroke="#999999" stroke-width="0.9" />
<line x1="86.30" y1="654.91" x2="88.30" y2="654.91" stroke="#999999" stroke-width="0.6" />
<line x1="86.30" y1="652.26" x2="88.30" y2="652.26" stroke="#999999" stroke-width="0.6" />
<line x1="86.30" y1="650.38" x2="88.30" y2="650.38" stroke="#999999" stroke-width="0.6" />
<line x1="86.30" y1="648.93" x2="88.30" y2="648.93" stroke="#999999" stroke-width="0.6" />
<line x1="86.30" y1="647.74" x2="88.30" y2="647.74" stroke="#999999" stroke-width="0.6" />
<line x1="86.30" y1="646.73" x2="88.30" y2="646.73" stroke="#999999" stroke-width="0.6" />
<line x1="86.30" y1="645.86" x2="88.30" y2="645.86" stroke="#999999" stroke-width="0.6" />
<line x1="86.30" y1="645.09" x2="88.30" y2="645.09" stroke="#999999" stroke-width="0.6" />
<text x="79.5" y="662.8" font-size="9.1" text-anchor="end" fill="#231f20" stroke="#231f20" stroke-width="0.22" >10<tspan dy="-3.8" font-size="6.5">−3</tspan></text>
<line x1="84.80" y1="644.40" x2="88.30" y2="644.40" stroke="#999999" stroke-width="0.9" />
<line x1="86.30" y1="639.87" x2="88.30" y2="639.87" stroke="#999999" stroke-width="0.6" />
<line x1="86.30" y1="637.23" x2="88.30" y2="637.23" stroke="#999999" stroke-width="0.6" />
<line x1="86.30" y1="635.35" x2="88.30" y2="635.35" stroke="#999999" stroke-width="0.6" />
<line x1="86.30" y1="633.89" x2="88.30" y2="633.89" stroke="#999999" stroke-width="0.6" />
<line x1="86.30" y1="632.70" x2="88.30" y2="632.70" stroke="#999999" stroke-width="0.6" />
<line x1="86.30" y1="631.70" x2="88.30" y2="631.70" stroke="#999999" stroke-width="0.6" />
<line x1="86.30" y1="630.82" x2="88.30" y2="630.82" stroke="#999999" stroke-width="0.6" />
<line x1="86.30" y1="630.05" x2="88.30" y2="630.05" stroke="#999999" stroke-width="0.6" />
<text x="79.5" y="647.8" font-size="9.1" text-anchor="end" fill="#231f20" stroke="#231f20" stroke-width="0.22" >10<tspan dy="-3.8" font-size="6.5">−2</tspan></text>
<line x1="84.80" y1="629.37" x2="88.30" y2="629.37" stroke="#999999" stroke-width="0.9" />
<line x1="86.30" y1="624.84" x2="88.30" y2="624.84" stroke="#999999" stroke-width="0.6" />
<line x1="86.30" y1="622.19" x2="88.30" y2="622.19" stroke="#999999" stroke-width="0.6" />
<line x1="86.30" y1="620.32" x2="88.30" y2="620.32" stroke="#999999" stroke-width="0.6" />
<line x1="86.30" y1="618.86" x2="88.30" y2="618.86" stroke="#999999" stroke-width="0.6" />
<line x1="86.30" y1="617.67" x2="88.30" y2="617.67" stroke="#999999" stroke-width="0.6" />
<line x1="86.30" y1="616.66" x2="88.30" y2="616.66" stroke="#999999" stroke-width="0.6" />
<line x1="86.30" y1="615.79" x2="88.30" y2="615.79" stroke="#999999" stroke-width="0.6" />
<line x1="86.30" y1="615.02" x2="88.30" y2="615.02" stroke="#999999" stroke-width="0.6" />
<text x="79.5" y="632.8" font-size="9.1" text-anchor="end" fill="#231f20" stroke="#231f20" stroke-width="0.22" >10<tspan dy="-3.8" font-size="6.5">−1</tspan></text>
<line x1="84.80" y1="614.33" x2="88.30" y2="614.33" stroke="#999999" stroke-width="0.9" />
<line x1="86.30" y1="609.81" x2="88.30" y2="609.81" stroke="#999999" stroke-width="0.6" />
<line x1="86.30" y1="607.16" x2="88.30" y2="607.16" stroke="#999999" stroke-width="0.6" />
<line x1="86.30" y1="605.28" x2="88.30" y2="605.28" stroke="#999999" stroke-width="0.6" />
<line x1="86.30" y1="603.83" x2="88.30" y2="603.83" stroke="#999999" stroke-width="0.6" />
<line x1="86.30" y1="602.64" x2="88.30" y2="602.64" stroke="#999999" stroke-width="0.6" />
<line x1="86.30" y1="601.63" x2="88.30" y2="601.63" stroke="#999999" stroke-width="0.6" />
<line x1="86.30" y1="600.76" x2="88.30" y2="600.76" stroke="#999999" stroke-width="0.6" />
<line x1="86.30" y1="599.99" x2="88.30" y2="599.99" stroke="#999999" stroke-width="0.6" />
<text x="79.5" y="617.7" font-size="9.1" text-anchor="end" fill="#231f20" stroke="#231f20" stroke-width="0.22" >10<tspan dy="-3.8" font-size="6.5">0</tspan></text>
<line x1="84.80" y1="599.30" x2="88.30" y2="599.30" stroke="#999999" stroke-width="0.9" />
<text x="79.5" y="602.7" font-size="9.1" text-anchor="end" fill="#231f20" stroke="#231f20" stroke-width="0.22" >10<tspan dy="-3.8" font-size="6.5">1</tspan></text>
<line x1="88.30" y1="689.50" x2="88.30" y2="692.70" stroke="#999999" stroke-width="0.9" />
<text x="88.3" y="702.1" font-size="8.9" text-anchor="middle" fill="#231f20" stroke="#231f20" stroke-width="0.22" >0</text>
<line x1="106.20" y1="689.50" x2="106.20" y2="692.70" stroke="#999999" stroke-width="0.9" />
<text x="106.2" y="702.1" font-size="8.9" text-anchor="middle" fill="#231f20" stroke="#231f20" stroke-width="0.22" >5</text>
<line x1="124.10" y1="689.50" x2="124.10" y2="692.70" stroke="#999999" stroke-width="0.9" />
<text x="124.1" y="702.1" font-size="8.9" text-anchor="middle" fill="#231f20" stroke="#231f20" stroke-width="0.22" >10</text>
<line x1="142.00" y1="689.50" x2="142.00" y2="692.70" stroke="#999999" stroke-width="0.9" />
<text x="142.0" y="702.1" font-size="8.9" text-anchor="middle" fill="#231f20" stroke="#231f20" stroke-width="0.22" >15</text>
<line x1="159.90" y1="689.50" x2="159.90" y2="692.70" stroke="#999999" stroke-width="0.9" />
<text x="159.9" y="702.1" font-size="8.9" text-anchor="middle" fill="#231f20" stroke="#231f20" stroke-width="0.22" >20</text>
<line x1="177.80" y1="689.50" x2="177.80" y2="692.70" stroke="#999999" stroke-width="0.9" />
<text x="177.8" y="702.1" font-size="8.9" text-anchor="middle" fill="#231f20" stroke="#231f20" stroke-width="0.22" >25</text>
<polygon points="91.88,671.01 95.46,671.16 102.62,672.21 109.78,673.41 174.22,667.40 174.22,672.66 109.78,678.68 102.62,677.47 95.46,676.42 91.88,676.27" fill="#b3b3e3" opacity="0.7"/>
<polyline points="91.88,673.26 95.46,673.41 102.62,674.47 109.78,675.67 174.22,669.66" fill="none" stroke="#8a8ad0" stroke-width="0.9" stroke-linejoin="round" />
<polygon points="91.88,672.96 95.46,663.19 102.62,654.62 109.78,646.50 174.22,623.80 174.22,628.31 109.78,651.01 102.62,660.64 95.46,676.72 91.88,681.98" fill="#5f98d8" opacity="0.55"/>
<polyline points="91.88,677.47 95.46,669.96 102.62,657.63 109.78,648.76 174.22,626.06" fill="none" stroke="#1f5eae" stroke-width="1.4" stroke-linejoin="round" />
<circle cx="91.88" cy="680.48" r="1.00" fill="#1f5eae" />
<circle cx="91.88" cy="677.47" r="1.00" fill="#1f5eae" />
<circle cx="91.88" cy="674.47" r="1.00" fill="#1f5eae" />
<circle cx="95.46" cy="672.96" r="1.00" fill="#1f5eae" />
<circle cx="95.46" cy="669.96" r="1.00" fill="#1f5eae" />
<circle cx="95.46" cy="666.95" r="1.00" fill="#1f5eae" />
<circle cx="102.62" cy="660.64" r="1.00" fill="#1f5eae" />
<circle cx="102.62" cy="657.63" r="1.00" fill="#1f5eae" />
<circle cx="102.62" cy="654.62" r="1.00" fill="#1f5eae" />
<circle cx="109.78" cy="651.77" r="1.00" fill="#1f5eae" />
<circle cx="109.78" cy="648.76" r="1.00" fill="#1f5eae" />
<circle cx="109.78" cy="645.75" r="1.00" fill="#1f5eae" />
<circle cx="174.22" cy="629.07" r="1.00" fill="#1f5eae" />
<circle cx="174.22" cy="626.06" r="1.00" fill="#1f5eae" />
<circle cx="174.22" cy="623.05" r="1.00" fill="#1f5eae" />
<line x1="102.20" y1="632.00" x2="102.20" y2="689.50" stroke="#231f20" stroke-width="0.7" stroke-dasharray="1.3,1.3"/>
<polygon points="97.10,630.60 97.66,631.83 99.00,631.98 98.00,632.89 98.28,634.22 97.10,633.55 95.92,634.22 96.20,632.89 95.20,631.98 96.54,631.83" fill="#2f6fc0" />
<polygon points="101.10,630.60 101.66,631.83 103.00,631.98 102.00,632.89 102.28,634.22 101.10,633.55 99.92,634.22 100.20,632.89 99.20,631.98 100.54,631.83" fill="#2f6fc0" />
<polygon points="105.10,630.60 105.66,631.83 107.00,631.98 106.00,632.89 106.28,634.22 105.10,633.55 103.92,634.22 104.20,632.89 103.20,631.98 104.54,631.83" fill="#2f6fc0" />
<polygon points="109.10,630.60 109.66,631.83 111.00,631.98 110.00,632.89 110.28,634.22 109.10,633.55 107.92,634.22 108.20,632.89 107.20,631.98 108.54,631.83" fill="#2f6fc0" />
<circle cx="90.70" cy="591.80" r="2.30" fill="#1f5eae" />
<text x="95.7" y="595.0" font-size="8.3" text-anchor="start" fill="#231f20" stroke="#231f20" stroke-width="0.22" >Induced</text>
<circle cx="138.3" cy="591.8" r="2.1" fill="#fff" stroke="#8a8ad0" stroke-width="0.6"/>
<text x="143.0" y="595.0" font-size="8.4" text-anchor="start" fill="#231f20" stroke="#231f20" stroke-width="0.22" textLength="26.2" lengthAdjust="spacingAndGlyphs">Control</text>
<text font-size="9.1" fill="#231f20" stroke="#231f20" stroke-width="0.22" text-anchor="middle" transform="translate(43.4,642.4) rotate(-90)">INSPECT RNA</text>
<text font-size="9.1" fill="#231f20" stroke="#231f20" stroke-width="0.22" text-anchor="middle" transform="translate(53.6,642.4) rotate(-90)">relative to <tspan font-style="italic">ACTB</tspan></text>
<text x="133.4" y="719.0" font-size="8.9" text-anchor="middle" fill="#231f20" stroke="#231f20" stroke-width="0.22" >Induction time (h)</text>
<text x="238.8" y="323.1" font-size="10.5" text-anchor="start" fill="#231f20" font-weight="bold" >f</text>
<line x1="269.20" y1="344.40" x2="359.40" y2="344.40" stroke="#999999" stroke-width="0.9" />
<line x1="269.20" y1="344.40" x2="269.20" y2="435.10" stroke="#999999" stroke-width="0.9" />
<line x1="359.40" y1="344.40" x2="359.40" y2="435.10" stroke="#999999" stroke-width="0.9" />
<line x1="269.20" y1="435.10" x2="359.40" y2="435.10" stroke="#999999" stroke-width="0.9" />
<line x1="264.20" y1="435.10" x2="269.20" y2="435.10" stroke="#999999" stroke-width="0.9" />
<text x="261.6" y="438.5" font-size="9.3" text-anchor="end" fill="#231f20" stroke="#231f20" stroke-width="0.22" >0</text>
<line x1="264.20" y1="404.87" x2="269.20" y2="404.87" stroke="#999999" stroke-width="0.9" />
<text x="261.6" y="408.3" font-size="9.3" text-anchor="end" fill="#231f20" stroke="#231f20" stroke-width="0.22" >1.0</text>
<line x1="264.20" y1="374.63" x2="269.20" y2="374.63" stroke="#999999" stroke-width="0.9" />
<text x="261.6" y="378.0" font-size="9.3" text-anchor="end" fill="#231f20" stroke="#231f20" stroke-width="0.22" >2.0</text>
<line x1="264.20" y1="344.40" x2="269.20" y2="344.40" stroke="#999999" stroke-width="0.9" />
<text x="261.6" y="347.8" font-size="9.3" text-anchor="end" fill="#231f20" stroke="#231f20" stroke-width="0.22" >3.0</text>
<line x1="269.20" y1="435.10" x2="269.20" y2="439.10" stroke="#999999" stroke-width="0.9" />
<line x1="284.23" y1="435.10" x2="284.23" y2="439.10" stroke="#999999" stroke-width="0.9" />
<line x1="299.27" y1="435.10" x2="299.27" y2="439.10" stroke="#999999" stroke-width="0.9" />
<line x1="314.30" y1="435.10" x2="314.30" y2="439.10" stroke="#999999" stroke-width="0.9" />
<line x1="329.33" y1="435.10" x2="329.33" y2="439.10" stroke="#999999" stroke-width="0.9" />
<line x1="344.37" y1="435.10" x2="344.37" y2="439.10" stroke="#999999" stroke-width="0.9" />
<line x1="359.40" y1="435.10" x2="359.40" y2="439.10" stroke="#999999" stroke-width="0.9" />
<polygon points="269.20,370.40 284.23,408.19 299.27,411.22 314.30,413.94 329.33,416.66 344.37,416.66 344.37,419.68 329.33,420.89 314.30,415.75 299.27,414.84 284.23,412.43 269.20,375.84" fill="#3fbfca" opacity="0.4"/>
<polyline points="269.20,373.12 284.23,410.31 299.27,413.03 314.30,414.84 329.33,418.77 344.37,418.17" fill="none" stroke="#3fbfca" stroke-width="1.4" stroke-linejoin="round" />
<circle cx="269.20" cy="375.84" r="1.10" fill="#3fbfca" />
<circle cx="269.20" cy="373.12" r="1.10" fill="#3fbfca" />
<circle cx="269.20" cy="370.40" r="1.10" fill="#3fbfca" />
<circle cx="284.23" cy="412.43" r="1.10" fill="#3fbfca" />
<circle cx="284.23" cy="410.31" r="1.10" fill="#3fbfca" />
<circle cx="284.23" cy="408.19" r="1.10" fill="#3fbfca" />
<circle cx="299.27" cy="414.84" r="1.10" fill="#3fbfca" />
<circle cx="299.27" cy="413.03" r="1.10" fill="#3fbfca" />
<circle cx="299.27" cy="411.22" r="1.10" fill="#3fbfca" />
<circle cx="314.30" cy="415.75" r="1.10" fill="#3fbfca" />
<circle cx="314.30" cy="414.84" r="1.10" fill="#3fbfca" />
<circle cx="314.30" cy="413.94" r="1.10" fill="#3fbfca" />
<circle cx="329.33" cy="420.89" r="1.10" fill="#3fbfca" />
<circle cx="329.33" cy="418.77" r="1.10" fill="#3fbfca" />
<circle cx="329.33" cy="416.66" r="1.10" fill="#3fbfca" />
<circle cx="344.37" cy="419.68" r="1.10" fill="#3fbfca" />
<circle cx="344.37" cy="418.17" r="1.10" fill="#3fbfca" />
<circle cx="344.37" cy="416.66" r="1.10" fill="#3fbfca" />
<text x="271.7" y="355.4" font-size="7.7" text-anchor="start" fill="#231f20" stroke="#231f20" stroke-width="0.22" ><tspan font-style="italic">r</tspan> (<tspan font-style="italic">IL2</tspan><tspan font-size="5" dy="1.8" font-style="italic">mRNA</tspan><tspan dy="-1.8">/INSPECT</tspan><tspan font-size="5" dy="1.8">RLU</tspan><tspan dy="-1.8">)</tspan></text>
<text x="271.7" y="367.4" font-size="7.7" text-anchor="start" fill="#231f20" stroke="#231f20" stroke-width="0.22" >= 0.9847</text>
<text font-size="9.1" fill="#231f20" stroke="#231f20" stroke-width="0.22" text-anchor="middle" transform="translate(241,390) rotate(-90)">NLuc (×10<tspan dy="-3" font-size="6">4</tspan><tspan dy="3">; RLU)</tspan></text>
<circle cx="278.50" cy="475.90" r="2.30" fill="#a3172b" />
<text x="283.0" y="479.1" font-size="8.2" text-anchor="start" fill="#231f20" stroke="#231f20" stroke-width="0.22" >INSPECT</text>
<circle cx="333.30" cy="475.90" r="2.30" fill="#e48aa8" />
<text x="336.7" y="479.1" font-size="8.9" text-anchor="start" fill="#231f20" stroke="#231f20" stroke-width="0.22" >WT</text>
<clipPath id="cf2"><rect x="268.3" y="482.2" width="90.69999999999999" height="91.09999999999997"/></clipPath>
<line x1="268.30" y1="482.20" x2="359.00" y2="482.20" stroke="#999999" stroke-width="0.9" />
<line x1="268.30" y1="482.20" x2="268.30" y2="573.30" stroke="#999999" stroke-width="0.9" />
<line x1="359.00" y1="482.20" x2="359.00" y2="573.30" stroke="#999999" stroke-width="0.9" />
<line x1="268.30" y1="573.30" x2="359.00" y2="573.30" stroke="#999999" stroke-width="0.9" />
<line x1="263.30" y1="573.30" x2="268.30" y2="573.30" stroke="#999999" stroke-width="0.9" />
<text x="260.7" y="576.7" font-size="9.3" text-anchor="end" fill="#231f20" stroke="#231f20" stroke-width="0.22" >0</text>
<line x1="263.30" y1="542.93" x2="268.30" y2="542.93" stroke="#999999" stroke-width="0.9" />
<text x="260.7" y="546.3" font-size="9.3" text-anchor="end" fill="#231f20" stroke="#231f20" stroke-width="0.22" >0.5</text>
<line x1="263.30" y1="512.57" x2="268.30" y2="512.57" stroke="#999999" stroke-width="0.9" />
<text x="260.7" y="516.0" font-size="9.3" text-anchor="end" fill="#231f20" stroke="#231f20" stroke-width="0.22" >1.0</text>
<line x1="263.30" y1="482.20" x2="268.30" y2="482.20" stroke="#999999" stroke-width="0.9" />
<text x="260.7" y="485.6" font-size="9.3" text-anchor="end" fill="#231f20" stroke="#231f20" stroke-width="0.22" >1.5</text>
<line x1="268.30" y1="573.30" x2="268.30" y2="577.30" stroke="#999999" stroke-width="0.9" />
<line x1="283.42" y1="573.30" x2="283.42" y2="577.30" stroke="#999999" stroke-width="0.9" />
<line x1="298.53" y1="573.30" x2="298.53" y2="577.30" stroke="#999999" stroke-width="0.9" />
<line x1="313.65" y1="573.30" x2="313.65" y2="577.30" stroke="#999999" stroke-width="0.9" />
<line x1="328.77" y1="573.30" x2="328.77" y2="577.30" stroke="#999999" stroke-width="0.9" />
<line x1="343.88" y1="573.30" x2="343.88" y2="577.30" stroke="#999999" stroke-width="0.9" />
<line x1="359.00" y1="573.30" x2="359.00" y2="577.30" stroke="#999999" stroke-width="0.9" />
<g clip-path="url(#cf2)">
<polygon points="268.30,470.05 283.42,527.75 298.53,556.90 313.65,536.86 328.77,561.15 343.88,557.51 343.88,567.23 328.77,568.44 313.65,571.48 298.53,567.23 283.42,561.15 268.30,530.79" fill="#eaa6c0" opacity="0.55"/>
<polygon points="268.30,470.05 283.42,547.79 298.53,556.90 313.65,568.44 328.77,560.55 343.88,561.15 343.88,569.05 328.77,565.40 313.65,570.87 298.53,563.58 283.42,562.98 268.30,535.04" fill="#b8485c" opacity="0.55"/>
</g>
<polyline points="268.30,512.57 283.42,547.79 298.53,563.58 313.65,555.08 328.77,565.40 343.88,562.37" fill="none" stroke="#e48aa8" stroke-width="0.9" stroke-linejoin="round" />
<polyline points="268.30,512.57 283.42,556.90 298.53,559.63 313.65,569.96 328.77,563.22 343.88,564.80" fill="none" stroke="#a3172b" stroke-width="1.3" stroke-linejoin="round" />
<circle cx="268.30" cy="535.04" r="0.90" fill="#a3172b" />
<circle cx="283.42" cy="562.98" r="0.90" fill="#a3172b" />
<circle cx="283.42" cy="547.79" r="0.90" fill="#a3172b" />
<circle cx="298.53" cy="563.58" r="0.90" fill="#a3172b" />
<circle cx="298.53" cy="556.90" r="0.90" fill="#a3172b" />
<circle cx="313.65" cy="570.87" r="0.90" fill="#a3172b" />
<circle cx="313.65" cy="568.44" r="0.90" fill="#a3172b" />
<circle cx="328.77" cy="565.40" r="0.90" fill="#a3172b" />
<circle cx="328.77" cy="560.55" r="0.90" fill="#a3172b" />
<circle cx="343.88" cy="569.05" r="0.90" fill="#a3172b" />
<circle cx="343.88" cy="561.15" r="0.90" fill="#a3172b" />
<circle cx="268.30" cy="483.41" r="0.90" fill="#a3172b" />
<circle cx="268.30" cy="508.32" r="0.90" fill="#a3172b" />
<circle cx="268.30" cy="496.17" r="0.80" fill="#e48aa8" />
<circle cx="268.30" cy="529.57" r="0.80" fill="#e48aa8" />
<circle cx="283.42" cy="529.57" r="0.80" fill="#e48aa8" />
<circle cx="283.42" cy="542.93" r="0.80" fill="#e48aa8" />
<circle cx="313.65" cy="539.29" r="0.80" fill="#e48aa8" />
<circle cx="313.65" cy="552.04" r="0.80" fill="#e48aa8" />
<circle cx="313.65" cy="565.40" r="0.80" fill="#e48aa8" />
<circle cx="298.53" cy="567.23" r="0.80" fill="#e48aa8" />
<circle cx="328.77" cy="567.23" r="0.80" fill="#e48aa8" />
<circle cx="343.88" cy="561.15" r="0.80" fill="#e48aa8" />
<circle cx="343.88" cy="565.40" r="0.80" fill="#e48aa8" />
<text x="271.7" y="491.4" font-size="7.7" text-anchor="start" fill="#231f20" stroke="#231f20" stroke-width="0.22" ><tspan font-style="italic">r</tspan> (INSPECT <tspan font-style="italic">IL2</tspan><tspan font-size="5" dy="1.8" font-style="italic">mRNA</tspan><tspan dy="-1.8">/</tspan></text>
<text x="271.7" y="504.6" font-size="7.7" text-anchor="start" fill="#231f20" stroke="#231f20" stroke-width="0.22" >WT <tspan font-style="italic">IL2</tspan><tspan font-size="5" dy="1.8" font-style="italic">mRNA</tspan><tspan dy="-1.8">) = 0.9195</tspan></text>
<text font-size="9.1" fill="#231f20" stroke="#231f20" stroke-width="0.22" text-anchor="middle" transform="translate(239.6,530) rotate(-90)"><tspan font-style="italic">IL2</tspan> mRNA normalized to <tspan font-style="italic">t</tspan><tspan font-size="6" dy="2">0</tspan></text>
<line x1="268.30" y1="598.60" x2="359.00" y2="598.60" stroke="#999999" stroke-width="0.9" />
<line x1="268.30" y1="598.60" x2="268.30" y2="689.70" stroke="#999999" stroke-width="0.9" />
<line x1="359.00" y1="598.60" x2="359.00" y2="689.70" stroke="#999999" stroke-width="0.9" />
<line x1="268.30" y1="689.70" x2="359.00" y2="689.70" stroke="#999999" stroke-width="0.9" />
<line x1="263.30" y1="689.70" x2="268.30" y2="689.70" stroke="#999999" stroke-width="0.9" />
<text x="260.7" y="693.1" font-size="9.3" text-anchor="end" fill="#231f20" stroke="#231f20" stroke-width="0.22" >0</text>
<line x1="263.30" y1="659.33" x2="268.30" y2="659.33" stroke="#999999" stroke-width="0.9" />
<text x="260.7" y="662.7" font-size="9.3" text-anchor="end" fill="#231f20" stroke="#231f20" stroke-width="0.22" >0.5</text>
<line x1="263.30" y1="628.97" x2="268.30" y2="628.97" stroke="#999999" stroke-width="0.9" />
<text x="260.7" y="632.4" font-size="9.3" text-anchor="end" fill="#231f20" stroke="#231f20" stroke-width="0.22" >1.0</text>
<line x1="263.30" y1="598.60" x2="268.30" y2="598.60" stroke="#999999" stroke-width="0.9" />
<text x="260.7" y="602.0" font-size="9.3" text-anchor="end" fill="#231f20" stroke="#231f20" stroke-width="0.22" >1.5</text>
<line x1="268.30" y1="689.70" x2="268.30" y2="693.70" stroke="#999999" stroke-width="0.9" />
<text x="268.3" y="703.6" font-size="9.3" text-anchor="middle" fill="#231f20" stroke="#231f20" stroke-width="0.22" >0</text>
<line x1="283.42" y1="689.70" x2="283.42" y2="693.70" stroke="#999999" stroke-width="0.9" />
<text x="283.4" y="703.6" font-size="9.3" text-anchor="middle" fill="#231f20" stroke="#231f20" stroke-width="0.22" >1</text>
<line x1="298.53" y1="689.70" x2="298.53" y2="693.70" stroke="#999999" stroke-width="0.9" />
<text x="298.5" y="703.6" font-size="9.3" text-anchor="middle" fill="#231f20" stroke="#231f20" stroke-width="0.22" >2</text>
<line x1="313.65" y1="689.70" x2="313.65" y2="693.70" stroke="#999999" stroke-width="0.9" />
<text x="313.6" y="703.6" font-size="9.3" text-anchor="middle" fill="#231f20" stroke="#231f20" stroke-width="0.22" >3</text>
<line x1="328.77" y1="689.70" x2="328.77" y2="693.70" stroke="#999999" stroke-width="0.9" />
<text x="328.8" y="703.6" font-size="9.3" text-anchor="middle" fill="#231f20" stroke="#231f20" stroke-width="0.22" >4</text>
<line x1="343.88" y1="689.70" x2="343.88" y2="693.70" stroke="#999999" stroke-width="0.9" />
<text x="343.9" y="703.6" font-size="9.3" text-anchor="middle" fill="#231f20" stroke="#231f20" stroke-width="0.22" >5</text>
<line x1="359.00" y1="689.70" x2="359.00" y2="693.70" stroke="#999999" stroke-width="0.9" />
<polygon points="268.30,612.57 283.42,666.01 298.53,668.44 313.65,672.69 328.77,663.58 343.88,664.19 343.88,685.45 328.77,671.48 313.65,678.16 298.53,673.91 283.42,672.69 268.30,642.94" fill="#5f98d8" opacity="0.55"/>
<polyline points="268.30,629.57 283.42,669.66 298.53,670.87 313.65,675.12 328.77,668.44 343.88,676.34" fill="none" stroke="#1f5eae" stroke-width="1.3" stroke-linejoin="round" />
<circle cx="268.30" cy="642.94" r="0.90" fill="#1f5eae" />
<circle cx="268.30" cy="612.57" r="0.90" fill="#1f5eae" />
<circle cx="268.30" cy="629.57" r="0.90" fill="#1f5eae" />
<circle cx="283.42" cy="672.69" r="0.90" fill="#1f5eae" />
<circle cx="283.42" cy="666.01" r="0.90" fill="#1f5eae" />
<circle cx="283.42" cy="669.66" r="0.90" fill="#1f5eae" />
<circle cx="298.53" cy="673.91" r="0.90" fill="#1f5eae" />
<circle cx="298.53" cy="668.44" r="0.90" fill="#1f5eae" />
<circle cx="298.53" cy="670.87" r="0.90" fill="#1f5eae" />
<circle cx="313.65" cy="678.16" r="0.90" fill="#1f5eae" />
<circle cx="313.65" cy="672.69" r="0.90" fill="#1f5eae" />
<circle cx="313.65" cy="675.12" r="0.90" fill="#1f5eae" />
<circle cx="328.77" cy="671.48" r="0.90" fill="#1f5eae" />
<circle cx="328.77" cy="663.58" r="0.90" fill="#1f5eae" />
<circle cx="328.77" cy="668.44" r="0.90" fill="#1f5eae" />
<circle cx="343.88" cy="685.45" r="0.90" fill="#1f5eae" />
<circle cx="343.88" cy="664.19" r="0.90" fill="#1f5eae" />
<circle cx="343.88" cy="676.34" r="0.90" fill="#1f5eae" />
<text x="271.7" y="608.8" font-size="7.7" text-anchor="start" fill="#231f20" stroke="#231f20" stroke-width="0.22" ><tspan font-style="italic">r</tspan> (<tspan font-style="italic">IL2</tspan><tspan font-size="5" dy="1.8" font-style="italic">mRNA</tspan><tspan dy="-1.8">/INSPECT</tspan><tspan font-size="5" dy="1.8">RNA</tspan><tspan dy="-1.8">)</tspan></text>
<text x="271.7" y="620.2" font-size="7.7" text-anchor="start" fill="#231f20" stroke="#231f20" stroke-width="0.22" >= 0.9290</text>
<text font-size="9.1" fill="#231f20" stroke="#231f20" stroke-width="0.22" text-anchor="middle" transform="translate(231,644.4) rotate(-90)">INSPECT RNA</text>
<text font-size="9.1" fill="#231f20" stroke="#231f20" stroke-width="0.22" text-anchor="middle" transform="translate(242.9,644.4) rotate(-90)">normalized to <tspan font-style="italic">t</tspan><tspan font-size="6" dy="2">0</tspan></text>
<text x="314.0" y="718.4" font-size="8.9" text-anchor="middle" fill="#231f20" stroke="#231f20" stroke-width="0.22" >Time after TCR activation (h)</text>
<text x="405.8" y="356.2" font-size="11.5" font-weight="bold" fill="#231f20" style="font-family:'Liberation Serif',serif">g</text>
<svg x="406.7" y="364.0" width="75.2" height="74.8" overflow="hidden">
<rect x="0.00" y="0.00" width="75.20" height="74.80" fill="rgb(113,115,115)" />
<circle cx="34.0" cy="41.9" r="1.41" fill="rgb(135,135,135)" stroke="rgb(98,99,99)" stroke-width="0.4"/>
<circle cx="69.5" cy="34.8" r="1.79" fill="rgb(170,170,170)" stroke="rgb(98,99,99)" stroke-width="0.4"/>
<circle cx="38.2" cy="43.9" r="1.57" fill="rgb(170,170,170)" stroke="rgb(98,99,99)" stroke-width="0.4"/>
<circle cx="13.9" cy="38.3" r="1.43" fill="rgb(150,150,150)" stroke="rgb(98,99,99)" stroke-width="0.4"/>
<circle cx="47.4" cy="59.3" r="1.47" fill="rgb(150,150,150)" stroke="rgb(98,99,99)" stroke-width="0.4"/>
<circle cx="7.1" cy="22.7" r="1.32" fill="rgb(170,170,170)" stroke="rgb(98,99,99)" stroke-width="0.4"/>
<circle cx="6.8" cy="60.6" r="1.58" fill="rgb(170,170,170)" stroke="rgb(98,99,99)" stroke-width="0.4"/>
<circle cx="52.1" cy="3.1" r="1.54" fill="rgb(150,150,150)" stroke="rgb(98,99,99)" stroke-width="0.4"/>
<circle cx="73.9" cy="72.2" r="1.41" fill="rgb(150,150,150)" stroke="rgb(98,99,99)" stroke-width="0.4"/>
<circle cx="49.2" cy="46.0" r="1.51" fill="rgb(150,150,150)" stroke="rgb(98,99,99)" stroke-width="0.4"/>
<circle cx="11.8" cy="1.1" r="1.39" fill="rgb(170,170,170)" stroke="rgb(98,99,99)" stroke-width="0.4"/>
<circle cx="39.7" cy="4.5" r="1.64" fill="rgb(160,160,160)" stroke="rgb(98,99,99)" stroke-width="0.4"/>
<circle cx="14.3" cy="18.1" r="1.54" fill="rgb(135,135,135)" stroke="rgb(98,99,99)" stroke-width="0.4"/>
<circle cx="2.3" cy="34.7" r="1.77" fill="rgb(135,135,135)" stroke="rgb(98,99,99)" stroke-width="0.4"/>
<circle cx="33.1" cy="63.0" r="1.59" fill="rgb(150,150,150)" stroke="rgb(98,99,99)" stroke-width="0.4"/>
<circle cx="39.0" cy="47.9" r="1.68" fill="rgb(135,135,135)" stroke="rgb(98,99,99)" stroke-width="0.4"/>
<circle cx="37.6" cy="49.6" r="1.56" fill="rgb(170,170,170)" stroke="rgb(98,99,99)" stroke-width="0.4"/>
<circle cx="34.4" cy="20.8" r="1.72" fill="rgb(160,160,160)" stroke="rgb(98,99,99)" stroke-width="0.4"/>
<circle cx="75.0" cy="74.5" r="1.56" fill="rgb(170,170,170)" stroke="rgb(98,99,99)" stroke-width="0.4"/>
<circle cx="63.2" cy="52.9" r="1.46" fill="rgb(135,135,135)" stroke="rgb(98,99,99)" stroke-width="0.4"/>
<circle cx="23.7" cy="17.2" r="1.78" fill="rgb(160,160,160)" stroke="rgb(98,99,99)" stroke-width="0.4"/>
<circle cx="21.7" cy="5.3" r="1.45" fill="rgb(160,160,160)" stroke="rgb(98,99,99)" stroke-width="0.4"/>
<circle cx="57.6" cy="29.9" r="1.78" fill="rgb(170,170,170)" stroke="rgb(98,99,99)" stroke-width="0.4"/>
<circle cx="63.7" cy="28.9" r="1.59" fill="rgb(160,160,160)" stroke="rgb(98,99,99)" stroke-width="0.4"/>
<circle cx="72.0" cy="63.4" r="1.51" fill="rgb(150,150,150)" stroke="rgb(98,99,99)" stroke-width="0.4"/>
<circle cx="0.0" cy="15.7" r="1.55" fill="rgb(135,135,135)" stroke="rgb(98,99,99)" stroke-width="0.4"/>
<circle cx="68.5" cy="35.2" r="1.31" fill="rgb(150,150,150)" stroke="rgb(98,99,99)" stroke-width="0.4"/>
<circle cx="73.7" cy="29.7" r="1.56" fill="rgb(135,135,135)" stroke="rgb(98,99,99)" stroke-width="0.4"/>
<circle cx="5.5" cy="47.1" r="1.57" fill="rgb(150,150,150)" stroke="rgb(98,99,99)" stroke-width="0.4"/>
<circle cx="58.5" cy="20.2" r="1.55" fill="rgb(160,160,160)" stroke="rgb(98,99,99)" stroke-width="0.4"/>
<circle cx="6.6" cy="24.9" r="1.33" fill="rgb(135,135,135)" stroke="rgb(98,99,99)" stroke-width="0.4"/>
<circle cx="72.5" cy="56.7" r="1.51" fill="rgb(135,135,135)" stroke="rgb(98,99,99)" stroke-width="0.4"/>
<circle cx="8.9" cy="18.4" r="1.43" fill="rgb(135,135,135)" stroke="rgb(98,99,99)" stroke-width="0.4"/>
<circle cx="7.6" cy="4.5" r="1.55" fill="rgb(170,170,170)" stroke="rgb(98,99,99)" stroke-width="0.4"/>
<circle cx="59.9" cy="13.3" r="1.52" fill="rgb(135,135,135)" stroke="rgb(98,99,99)" stroke-width="0.4"/>
<circle cx="42.1" cy="33.5" r="1.56" fill="rgb(150,150,150)" stroke="rgb(98,99,99)" stroke-width="0.4"/>
<circle cx="14.3" cy="54.7" r="1.40" fill="rgb(150,150,150)" stroke="rgb(98,99,99)" stroke-width="0.4"/>
<circle cx="9.8" cy="48.1" r="1.76" fill="rgb(160,160,160)" stroke="rgb(98,99,99)" stroke-width="0.4"/>
<circle cx="8.8" cy="31.5" r="1.65" fill="rgb(150,150,150)" stroke="rgb(98,99,99)" stroke-width="0.4"/>
<circle cx="16.0" cy="20.2" r="1.32" fill="rgb(160,160,160)" stroke="rgb(98,99,99)" stroke-width="0.4"/>
<circle cx="73.0" cy="60.1" r="1.41" fill="rgb(170,170,170)" stroke="rgb(98,99,99)" stroke-width="0.4"/>
<circle cx="22.9" cy="66.2" r="1.46" fill="rgb(170,170,170)" stroke="rgb(98,99,99)" stroke-width="0.4"/>
<circle cx="15.8" cy="29.5" r="1.42" fill="rgb(135,135,135)" stroke="rgb(98,99,99)" stroke-width="0.4"/>
<circle cx="64.2" cy="48.0" r="1.35" fill="rgb(150,150,150)" stroke="rgb(98,99,99)" stroke-width="0.4"/>
<circle cx="7.5" cy="74.0" r="1.73" fill="rgb(170,170,170)" stroke="rgb(98,99,99)" stroke-width="0.4"/>
<circle cx="16.0" cy="19.3" r="1.66" fill="rgb(135,135,135)" stroke="rgb(98,99,99)" stroke-width="0.4"/>
<circle cx="58.1" cy="24.6" r="1.31" fill="rgb(135,135,135)" stroke="rgb(98,99,99)" stroke-width="0.4"/>
<circle cx="22.3" cy="5.5" r="1.71" fill="rgb(160,160,160)" stroke="rgb(98,99,99)" stroke-width="0.4"/>
<circle cx="6.8" cy="43.6" r="1.57" fill="rgb(160,160,160)" stroke="rgb(98,99,99)" stroke-width="0.4"/>
<circle cx="18.3" cy="45.0" r="1.56" fill="rgb(160,160,160)" stroke="rgb(98,99,99)" stroke-width="0.4"/>
<circle cx="28.0" cy="33.9" r="1.42" fill="rgb(170,170,170)" stroke="rgb(98,99,99)" stroke-width="0.4"/>
<circle cx="72.1" cy="36.2" r="1.75" fill="rgb(170,170,170)" stroke="rgb(98,99,99)" stroke-width="0.4"/>
<circle cx="43.2" cy="64.8" r="1.60" fill="rgb(160,160,160)" stroke="rgb(98,99,99)" stroke-width="0.4"/>
<circle cx="13.7" cy="11.5" r="1.41" fill="rgb(160,160,160)" stroke="rgb(98,99,99)" stroke-width="0.4"/>
<circle cx="68.3" cy="61.2" r="1.74" fill="rgb(160,160,160)" stroke="rgb(98,99,99)" stroke-width="0.4"/>
<circle cx="18.8" cy="14.2" r="1.74" fill="rgb(160,160,160)" stroke="rgb(98,99,99)" stroke-width="0.4"/>
<circle cx="55.6" cy="70.3" r="1.66" fill="rgb(170,170,170)" stroke="rgb(98,99,99)" stroke-width="0.4"/>
<circle cx="14.8" cy="71.1" r="1.49" fill="rgb(135,135,135)" stroke="rgb(98,99,99)" stroke-width="0.4"/>
<circle cx="66.3" cy="45.1" r="1.72" fill="rgb(135,135,135)" stroke="rgb(98,99,99)" stroke-width="0.4"/>
<circle cx="31.7" cy="7.8" r="1.57" fill="rgb(160,160,160)" stroke="rgb(98,99,99)" stroke-width="0.4"/>
<circle cx="2.9" cy="72.0" r="1.40" fill="rgb(150,150,150)" stroke="rgb(98,99,99)" stroke-width="0.4"/>
<circle cx="17.9" cy="52.7" r="1.35" fill="rgb(170,170,170)" stroke="rgb(98,99,99)" stroke-width="0.4"/>
<circle cx="19.3" cy="61.6" r="1.76" fill="rgb(170,170,170)" stroke="rgb(98,99,99)" stroke-width="0.4"/>
<circle cx="44.9" cy="21.9" r="1.36" fill="rgb(170,170,170)" stroke="rgb(98,99,99)" stroke-width="0.4"/>
<circle cx="13.2" cy="53.9" r="1.55" fill="rgb(160,160,160)" stroke="rgb(98,99,99)" stroke-width="0.4"/>
<circle cx="5.2" cy="17.1" r="1.70" fill="rgb(135,135,135)" stroke="rgb(98,99,99)" stroke-width="0.4"/>
<circle cx="42.1" cy="63.8" r="1.35" fill="rgb(150,150,150)" stroke="rgb(98,99,99)" stroke-width="0.4"/>
<circle cx="46.2" cy="21.0" r="1.68" fill="rgb(135,135,135)" stroke="rgb(98,99,99)" stroke-width="0.4"/>
<circle cx="69.0" cy="15.3" r="1.37" fill="rgb(160,160,160)" stroke="rgb(98,99,99)" stroke-width="0.4"/>
<circle cx="1.2" cy="20.1" r="1.36" fill="rgb(160,160,160)" stroke="rgb(98,99,99)" stroke-width="0.4"/>
<circle cx="33.5" cy="4.5" r="1.72" fill="rgb(170,170,170)" stroke="rgb(98,99,99)" stroke-width="0.4"/>
<circle cx="13.3" cy="27.6" r="1.76" fill="rgb(150,150,150)" stroke="rgb(98,99,99)" stroke-width="0.4"/>
<circle cx="43.0" cy="9.8" r="1.59" fill="rgb(160,160,160)" stroke="rgb(98,99,99)" stroke-width="0.4"/>
<circle cx="27.2" cy="66.6" r="1.78" fill="rgb(135,135,135)" stroke="rgb(98,99,99)" stroke-width="0.4"/>
<circle cx="73.7" cy="49.1" r="1.34" fill="rgb(150,150,150)" stroke="rgb(98,99,99)" stroke-width="0.4"/>
<circle cx="52.0" cy="43.7" r="1.46" fill="rgb(135,135,135)" stroke="rgb(98,99,99)" stroke-width="0.4"/>
<circle cx="10.6" cy="2.6" r="1.51" fill="rgb(170,170,170)" stroke="rgb(98,99,99)" stroke-width="0.4"/>
<circle cx="1.3" cy="68.1" r="1.52" fill="rgb(170,170,170)" stroke="rgb(98,99,99)" stroke-width="0.4"/>
<circle cx="52.7" cy="72.0" r="1.31" fill="rgb(150,150,150)" stroke="rgb(98,99,99)" stroke-width="0.4"/>
<circle cx="1.6" cy="47.6" r="1.72" fill="rgb(160,160,160)" stroke="rgb(98,99,99)" stroke-width="0.4"/>
<circle cx="36.3" cy="54.6" r="1.50" fill="rgb(170,170,170)" stroke="rgb(98,99,99)" stroke-width="0.4"/>
<circle cx="24.0" cy="74.8" r="1.67" fill="rgb(135,135,135)" stroke="rgb(98,99,99)" stroke-width="0.4"/>
<circle cx="5.7" cy="40.8" r="1.76" fill="rgb(160,160,160)" stroke="rgb(98,99,99)" stroke-width="0.4"/>
<circle cx="55.4" cy="67.3" r="1.35" fill="rgb(150,150,150)" stroke="rgb(98,99,99)" stroke-width="0.4"/>
<circle cx="55.4" cy="52.6" r="1.46" fill="rgb(150,150,150)" stroke="rgb(98,99,99)" stroke-width="0.4"/>
<circle cx="59.7" cy="68.4" r="1.70" fill="rgb(135,135,135)" stroke="rgb(98,99,99)" stroke-width="0.4"/>
<circle cx="26.5" cy="51.2" r="1.58" fill="rgb(160,160,160)" stroke="rgb(98,99,99)" stroke-width="0.4"/>
<circle cx="67.7" cy="65.2" r="1.55" fill="rgb(170,170,170)" stroke="rgb(98,99,99)" stroke-width="0.4"/>
<circle cx="31.4" cy="59.1" r="1.70" fill="rgb(170,170,170)" stroke="rgb(98,99,99)" stroke-width="0.4"/>
<circle cx="64.9" cy="42.8" r="1.44" fill="rgb(150,150,150)" stroke="rgb(98,99,99)" stroke-width="0.4"/>
<circle cx="47.0" cy="28.6" r="1.67" fill="rgb(160,160,160)" stroke="rgb(98,99,99)" stroke-width="0.4"/>
<circle cx="43.8" cy="45.5" r="1.71" fill="rgb(135,135,135)" stroke="rgb(98,99,99)" stroke-width="0.4"/>
<circle cx="6.0" cy="47.8" r="1.37" fill="rgb(170,170,170)" stroke="rgb(98,99,99)" stroke-width="0.4"/>
<circle cx="74.7" cy="65.8" r="1.74" fill="rgb(170,170,170)" stroke="rgb(98,99,99)" stroke-width="0.4"/>
<circle cx="54.8" cy="29.1" r="1.68" fill="rgb(160,160,160)" stroke="rgb(98,99,99)" stroke-width="0.4"/>
<circle cx="55.3" cy="43.5" r="1.50" fill="rgb(160,160,160)" stroke="rgb(98,99,99)" stroke-width="0.4"/>
<circle cx="33.1" cy="62.7" r="1.34" fill="rgb(170,170,170)" stroke="rgb(98,99,99)" stroke-width="0.4"/>
<circle cx="6.3" cy="56.1" r="1.45" fill="rgb(150,150,150)" stroke="rgb(98,99,99)" stroke-width="0.4"/>
<circle cx="2.2" cy="45.0" r="1.31" fill="rgb(170,170,170)" stroke="rgb(98,99,99)" stroke-width="0.4"/>
<circle cx="36.2" cy="17.2" r="1.80" fill="rgb(150,150,150)" stroke="rgb(98,99,99)" stroke-width="0.4"/>
<circle cx="52.5" cy="37.2" r="1.42" fill="rgb(170,170,170)" stroke="rgb(98,99,99)" stroke-width="0.4"/>
<circle cx="46.2" cy="68.9" r="1.47" fill="rgb(135,135,135)" stroke="rgb(98,99,99)" stroke-width="0.4"/>
<circle cx="19.2" cy="0.8" r="1.58" fill="rgb(150,150,150)" stroke="rgb(98,99,99)" stroke-width="0.4"/>
<circle cx="22.6" cy="50.7" r="1.49" fill="rgb(135,135,135)" stroke="rgb(98,99,99)" stroke-width="0.4"/>
<circle cx="15.2" cy="12.7" r="1.62" fill="rgb(150,150,150)" stroke="rgb(98,99,99)" stroke-width="0.4"/>
<circle cx="68.1" cy="49.4" r="1.68" fill="rgb(150,150,150)" stroke="rgb(98,99,99)" stroke-width="0.4"/>
<circle cx="33.2" cy="66.7" r="1.36" fill="rgb(150,150,150)" stroke="rgb(98,99,99)" stroke-width="0.4"/>
<circle cx="24.6" cy="49.8" r="1.67" fill="rgb(170,170,170)" stroke="rgb(98,99,99)" stroke-width="0.4"/>
<circle cx="14.9" cy="32.2" r="1.52" fill="rgb(150,150,150)" stroke="rgb(98,99,99)" stroke-width="0.4"/>
<circle cx="60.6" cy="68.4" r="1.68" fill="rgb(135,135,135)" stroke="rgb(98,99,99)" stroke-width="0.4"/>
<circle cx="66.2" cy="28.8" r="1.31" fill="rgb(170,170,170)" stroke="rgb(98,99,99)" stroke-width="0.4"/>
<circle cx="43.8" cy="23.7" r="1.43" fill="rgb(170,170,170)" stroke="rgb(98,99,99)" stroke-width="0.4"/>
<circle cx="10.2" cy="37.1" r="1.58" fill="rgb(135,135,135)" stroke="rgb(98,99,99)" stroke-width="0.4"/>
<circle cx="62.9" cy="63.5" r="1.78" fill="rgb(150,150,150)" stroke="rgb(98,99,99)" stroke-width="0.4"/>
<circle cx="53.5" cy="71.1" r="1.62" fill="rgb(150,150,150)" stroke="rgb(98,99,99)" stroke-width="0.4"/>
<circle cx="20.8" cy="12.7" r="1.57" fill="rgb(150,150,150)" stroke="rgb(98,99,99)" stroke-width="0.4"/>
<circle cx="33.9" cy="20.6" r="1.49" fill="rgb(160,160,160)" stroke="rgb(98,99,99)" stroke-width="0.4"/>
<circle cx="16.1" cy="31.0" r="1.49" fill="rgb(160,160,160)" stroke="rgb(98,99,99)" stroke-width="0.4"/>
<circle cx="47.1" cy="36.9" r="1.73" fill="rgb(150,150,150)" stroke="rgb(98,99,99)" stroke-width="0.4"/>
<circle cx="23.7" cy="62.8" r="1.51" fill="rgb(135,135,135)" stroke="rgb(98,99,99)" stroke-width="0.4"/>
<circle cx="73.8" cy="33.8" r="1.51" fill="rgb(135,135,135)" stroke="rgb(98,99,99)" stroke-width="0.4"/>
<circle cx="5.6" cy="2.4" r="1.60" fill="rgb(170,170,170)" stroke="rgb(98,99,99)" stroke-width="0.4"/>
<circle cx="65.6" cy="3.1" r="1.57" fill="rgb(135,135,135)" stroke="rgb(98,99,99)" stroke-width="0.4"/>
<circle cx="53.3" cy="42.7" r="1.63" fill="rgb(170,170,170)" stroke="rgb(98,99,99)" stroke-width="0.4"/>
<circle cx="23.2" cy="59.2" r="1.63" fill="rgb(170,170,170)" stroke="rgb(98,99,99)" stroke-width="0.4"/>
<circle cx="1.4" cy="10.2" r="1.31" fill="rgb(160,160,160)" stroke="rgb(98,99,99)" stroke-width="0.4"/>
<circle cx="34.2" cy="1.8" r="1.59" fill="rgb(160,160,160)" stroke="rgb(98,99,99)" stroke-width="0.4"/>
<circle cx="62.4" cy="17.8" r="1.50" fill="rgb(135,135,135)" stroke="rgb(98,99,99)" stroke-width="0.4"/>
<circle cx="10.6" cy="3.5" r="1.33" fill="rgb(170,170,170)" stroke="rgb(98,99,99)" stroke-width="0.4"/>
<circle cx="47.3" cy="33.4" r="1.67" fill="rgb(150,150,150)" stroke="rgb(98,99,99)" stroke-width="0.4"/>
<circle cx="47.4" cy="49.0" r="1.59" fill="rgb(170,170,170)" stroke="rgb(98,99,99)" stroke-width="0.4"/>
<circle cx="60.7" cy="71.7" r="1.34" fill="rgb(160,160,160)" stroke="rgb(98,99,99)" stroke-width="0.4"/>
<circle cx="51.5" cy="14.9" r="1.51" fill="rgb(135,135,135)" stroke="rgb(98,99,99)" stroke-width="0.4"/>
<circle cx="35.7" cy="13.4" r="1.43" fill="rgb(160,160,160)" stroke="rgb(98,99,99)" stroke-width="0.4"/>
<circle cx="0.8" cy="35.3" r="1.32" fill="rgb(150,150,150)" stroke="rgb(98,99,99)" stroke-width="0.4"/>
<circle cx="53.7" cy="13.4" r="1.77" fill="rgb(135,135,135)" stroke="rgb(98,99,99)" stroke-width="0.4"/>
<circle cx="20.5" cy="25.9" r="1.37" fill="rgb(160,160,160)" stroke="rgb(98,99,99)" stroke-width="0.4"/>
<circle cx="52.4" cy="38.9" r="1.60" fill="rgb(150,150,150)" stroke="rgb(98,99,99)" stroke-width="0.4"/>
<circle cx="46.2" cy="56.6" r="1.33" fill="rgb(135,135,135)" stroke="rgb(98,99,99)" stroke-width="0.4"/>
<circle cx="29.6" cy="59.2" r="1.53" fill="rgb(160,160,160)" stroke="rgb(98,99,99)" stroke-width="0.4"/>
<circle cx="68.1" cy="6.5" r="1.73" fill="rgb(170,170,170)" stroke="rgb(98,99,99)" stroke-width="0.4"/>
<circle cx="70.1" cy="54.0" r="1.56" fill="rgb(150,150,150)" stroke="rgb(98,99,99)" stroke-width="0.4"/>
<circle cx="9.8" cy="33.9" r="1.48" fill="rgb(160,160,160)" stroke="rgb(98,99,99)" stroke-width="0.4"/>
<circle cx="47.0" cy="68.1" r="1.63" fill="rgb(135,135,135)" stroke="rgb(98,99,99)" stroke-width="0.4"/>
<circle cx="28.3" cy="42.5" r="1.60" fill="rgb(135,135,135)" stroke="rgb(98,99,99)" stroke-width="0.4"/>
<circle cx="66.1" cy="59.6" r="1.48" fill="rgb(160,160,160)" stroke="rgb(98,99,99)" stroke-width="0.4"/>
<circle cx="71.0" cy="34.7" r="1.78" fill="rgb(160,160,160)" stroke="rgb(98,99,99)" stroke-width="0.4"/>
<circle cx="49.0" cy="15.3" r="1.42" fill="rgb(150,150,150)" stroke="rgb(98,99,99)" stroke-width="0.4"/>
<circle cx="54.3" cy="61.2" r="1.55" fill="rgb(170,170,170)" stroke="rgb(98,99,99)" stroke-width="0.4"/>
<circle cx="48.2" cy="53.7" r="1.69" fill="rgb(170,170,170)" stroke="rgb(98,99,99)" stroke-width="0.4"/>
</svg>
<text x="410.1" y="435.1" font-size="8.8" text-anchor="start" fill="#111" stroke="#111" stroke-width="0.22" >0 h</text>
<svg x="485.3" y="364.0" width="75.2" height="74.8" overflow="hidden">
<rect x="0.00" y="0.00" width="75.20" height="74.80" fill="rgb(113,115,115)" />
<circle cx="19.9" cy="43.5" r="1.42" fill="rgb(170,170,170)" stroke="rgb(98,99,99)" stroke-width="0.4"/>
<circle cx="20.2" cy="48.2" r="1.63" fill="rgb(160,160,160)" stroke="rgb(98,99,99)" stroke-width="0.4"/>
<circle cx="24.6" cy="44.4" r="1.74" fill="rgb(170,170,170)" stroke="rgb(98,99,99)" stroke-width="0.4"/>
<circle cx="19.3" cy="43.7" r="1.73" fill="rgb(135,135,135)" stroke="rgb(98,99,99)" stroke-width="0.4"/>
<circle cx="18.7" cy="41.1" r="1.58" fill="rgb(160,160,160)" stroke="rgb(98,99,99)" stroke-width="0.4"/>
<circle cx="23.4" cy="45.8" r="1.41" fill="rgb(135,135,135)" stroke="rgb(98,99,99)" stroke-width="0.4"/>
<circle cx="21.6" cy="45.8" r="1.58" fill="rgb(150,150,150)" stroke="rgb(98,99,99)" stroke-width="0.4"/>
<circle cx="18.5" cy="19.7" r="1.35" fill="rgb(160,160,160)" stroke="rgb(98,99,99)" stroke-width="0.4"/>
<circle cx="17.7" cy="30.7" r="1.36" fill="rgb(135,135,135)" stroke="rgb(98,99,99)" stroke-width="0.4"/>
<circle cx="13.5" cy="21.1" r="1.30" fill="rgb(160,160,160)" stroke="rgb(98,99,99)" stroke-width="0.4"/>
<circle cx="26.2" cy="35.8" r="1.66" fill="rgb(150,150,150)" stroke="rgb(98,99,99)" stroke-width="0.4"/>
<circle cx="30.1" cy="41.3" r="1.46" fill="rgb(150,150,150)" stroke="rgb(98,99,99)" stroke-width="0.4"/>
<circle cx="21.2" cy="32.8" r="1.52" fill="rgb(135,135,135)" stroke="rgb(98,99,99)" stroke-width="0.4"/>
<circle cx="26.3" cy="40.6" r="1.71" fill="rgb(135,135,135)" stroke="rgb(98,99,99)" stroke-width="0.4"/>
<circle cx="23.2" cy="66.1" r="1.37" fill="rgb(160,160,160)" stroke="rgb(98,99,99)" stroke-width="0.4"/>
<circle cx="17.0" cy="58.9" r="1.32" fill="rgb(150,150,150)" stroke="rgb(98,99,99)" stroke-width="0.4"/>
<circle cx="19.8" cy="54.0" r="1.53" fill="rgb(170,170,170)" stroke="rgb(98,99,99)" stroke-width="0.4"/>
<circle cx="21.5" cy="65.2" r="1.45" fill="rgb(135,135,135)" stroke="rgb(98,99,99)" stroke-width="0.4"/>
<circle cx="16.0" cy="58.7" r="1.37" fill="rgb(135,135,135)" stroke="rgb(98,99,99)" stroke-width="0.4"/>
<circle cx="20.7" cy="39.1" r="1.74" fill="rgb(160,160,160)" stroke="rgb(98,99,99)" stroke-width="0.4"/>
<circle cx="23.2" cy="38.0" r="1.45" fill="rgb(150,150,150)" stroke="rgb(98,99,99)" stroke-width="0.4"/>
<circle cx="24.6" cy="39.3" r="1.40" fill="rgb(170,170,170)" stroke="rgb(98,99,99)" stroke-width="0.4"/>
<circle cx="25.6" cy="45.7" r="1.75" fill="rgb(150,150,150)" stroke="rgb(98,99,99)" stroke-width="0.4"/>
<circle cx="27.0" cy="42.1" r="1.39" fill="rgb(160,160,160)" stroke="rgb(98,99,99)" stroke-width="0.4"/>
<circle cx="23.5" cy="35.3" r="1.57" fill="rgb(160,160,160)" stroke="rgb(98,99,99)" stroke-width="0.4"/>
<circle cx="19.6" cy="8.1" r="1.40" fill="rgb(150,150,150)" stroke="rgb(98,99,99)" stroke-width="0.4"/>
<circle cx="23.8" cy="9.0" r="1.63" fill="rgb(170,170,170)" stroke="rgb(98,99,99)" stroke-width="0.4"/>
<circle cx="16.9" cy="12.4" r="1.66" fill="rgb(170,170,170)" stroke="rgb(98,99,99)" stroke-width="0.4"/>
<circle cx="25.6" cy="7.6" r="1.78" fill="rgb(170,170,170)" stroke="rgb(98,99,99)" stroke-width="0.4"/>
<circle cx="20.5" cy="14.9" r="1.73" fill="rgb(160,160,160)" stroke="rgb(98,99,99)" stroke-width="0.4"/>
<circle cx="68.0" cy="39.1" r="1.47" fill="rgb(135,135,135)" stroke="rgb(98,99,99)" stroke-width="0.4"/>
<circle cx="76.7" cy="32.7" r="1.51" fill="rgb(160,160,160)" stroke="rgb(98,99,99)" stroke-width="0.4"/>
<circle cx="72.5" cy="36.8" r="1.41" fill="rgb(170,170,170)" stroke="rgb(98,99,99)" stroke-width="0.4"/>
<circle cx="72.3" cy="36.9" r="1.36" fill="rgb(160,160,160)" stroke="rgb(98,99,99)" stroke-width="0.4"/>
<circle cx="26.8" cy="17.1" r="1.43" fill="rgb(160,160,160)" stroke="rgb(98,99,99)" stroke-width="0.4"/>
<circle cx="31.8" cy="18.5" r="1.55" fill="rgb(170,170,170)" stroke="rgb(98,99,99)" stroke-width="0.4"/>
<circle cx="29.8" cy="15.9" r="1.70" fill="rgb(170,170,170)" stroke="rgb(98,99,99)" stroke-width="0.4"/>
<circle cx="22.6" cy="16.5" r="1.70" fill="rgb(150,150,150)" stroke="rgb(98,99,99)" stroke-width="0.4"/>
<circle cx="30.1" cy="12.3" r="1.59" fill="rgb(160,160,160)" stroke="rgb(98,99,99)" stroke-width="0.4"/>
<circle cx="31.1" cy="15.3" r="1.79" fill="rgb(160,160,160)" stroke="rgb(98,99,99)" stroke-width="0.4"/>
<circle cx="28.9" cy="15.3" r="1.63" fill="rgb(170,170,170)" stroke="rgb(98,99,99)" stroke-width="0.4"/>
<circle cx="57.4" cy="29.8" r="1.37" fill="rgb(150,150,150)" stroke="rgb(98,99,99)" stroke-width="0.4"/>
<circle cx="64.5" cy="32.3" r="1.53" fill="rgb(150,150,150)" stroke="rgb(98,99,99)" stroke-width="0.4"/>
<circle cx="62.7" cy="24.2" r="1.52" fill="rgb(150,150,150)" stroke="rgb(98,99,99)" stroke-width="0.4"/>
<circle cx="67.6" cy="34.1" r="1.57" fill="rgb(150,150,150)" stroke="rgb(98,99,99)" stroke-width="0.4"/>
<circle cx="66.9" cy="36.2" r="1.30" fill="rgb(170,170,170)" stroke="rgb(98,99,99)" stroke-width="0.4"/>
<circle cx="61.7" cy="29.5" r="1.57" fill="rgb(135,135,135)" stroke="rgb(98,99,99)" stroke-width="0.4"/>
<circle cx="64.4" cy="37.5" r="1.70" fill="rgb(150,150,150)" stroke="rgb(98,99,99)" stroke-width="0.4"/>
<circle cx="35.5" cy="62.3" r="1.38" fill="rgb(160,160,160)" stroke="rgb(98,99,99)" stroke-width="0.4"/>
<circle cx="38.3" cy="58.8" r="1.42" fill="rgb(170,170,170)" stroke="rgb(98,99,99)" stroke-width="0.4"/>
<circle cx="32.9" cy="57.7" r="1.67" fill="rgb(150,150,150)" stroke="rgb(98,99,99)" stroke-width="0.4"/>
<circle cx="43.6" cy="59.3" r="1.39" fill="rgb(160,160,160)" stroke="rgb(98,99,99)" stroke-width="0.4"/>
<circle cx="44.9" cy="58.9" r="1.79" fill="rgb(150,150,150)" stroke="rgb(98,99,99)" stroke-width="0.4"/>
<circle cx="42.5" cy="56.9" r="1.61" fill="rgb(135,135,135)" stroke="rgb(98,99,99)" stroke-width="0.4"/>
<circle cx="7.0" cy="22.6" r="1.30" fill="rgb(135,135,135)" stroke="rgb(98,99,99)" stroke-width="0.4"/>
<circle cx="-2.4" cy="25.0" r="1.33" fill="rgb(150,150,150)" stroke="rgb(98,99,99)" stroke-width="0.4"/>
<circle cx="-1.3" cy="22.2" r="1.58" fill="rgb(170,170,170)" stroke="rgb(98,99,99)" stroke-width="0.4"/>
<circle cx="31.8" cy="33.5" r="1.46" fill="rgb(135,135,135)" stroke="rgb(98,99,99)" stroke-width="0.4"/>
<circle cx="28.2" cy="27.5" r="1.69" fill="rgb(170,170,170)" stroke="rgb(98,99,99)" stroke-width="0.4"/>
<circle cx="30.2" cy="34.6" r="1.55" fill="rgb(160,160,160)" stroke="rgb(98,99,99)" stroke-width="0.4"/>
<circle cx="29.0" cy="30.9" r="1.60" fill="rgb(160,160,160)" stroke="rgb(98,99,99)" stroke-width="0.4"/>
<circle cx="66.0" cy="37.2" r="1.36" fill="rgb(135,135,135)" stroke="rgb(98,99,99)" stroke-width="0.4"/>
<circle cx="73.4" cy="31.5" r="1.42" fill="rgb(135,135,135)" stroke="rgb(98,99,99)" stroke-width="0.4"/>
<circle cx="66.6" cy="34.6" r="1.57" fill="rgb(170,170,170)" stroke="rgb(98,99,99)" stroke-width="0.4"/>
<circle cx="37.9" cy="61.3" r="1.69" fill="rgb(160,160,160)" stroke="rgb(98,99,99)" stroke-width="0.4"/>
<circle cx="36.7" cy="62.4" r="1.43" fill="rgb(160,160,160)" stroke="rgb(98,99,99)" stroke-width="0.4"/>
<circle cx="35.2" cy="55.3" r="1.73" fill="rgb(135,135,135)" stroke="rgb(98,99,99)" stroke-width="0.4"/>
<circle cx="36.5" cy="62.1" r="1.43" fill="rgb(160,160,160)" stroke="rgb(98,99,99)" stroke-width="0.4"/>
<circle cx="35.8" cy="62.0" r="1.60" fill="rgb(150,150,150)" stroke="rgb(98,99,99)" stroke-width="0.4"/>
<circle cx="61.1" cy="21.7" r="1.59" fill="rgb(160,160,160)" stroke="rgb(98,99,99)" stroke-width="0.4"/>
<circle cx="59.4" cy="20.1" r="1.46" fill="rgb(150,150,150)" stroke="rgb(98,99,99)" stroke-width="0.4"/>
<circle cx="49.8" cy="28.3" r="1.60" fill="rgb(135,135,135)" stroke="rgb(98,99,99)" stroke-width="0.4"/>
<circle cx="53.7" cy="18.2" r="1.55" fill="rgb(170,170,170)" stroke="rgb(98,99,99)" stroke-width="0.4"/>
<circle cx="62.8" cy="27.1" r="1.73" fill="rgb(150,150,150)" stroke="rgb(98,99,99)" stroke-width="0.4"/>
<circle cx="55.0" cy="24.8" r="1.34" fill="rgb(160,160,160)" stroke="rgb(98,99,99)" stroke-width="0.4"/>
<circle cx="61.1" cy="28.0" r="1.58" fill="rgb(160,160,160)" stroke="rgb(98,99,99)" stroke-width="0.4"/>
<circle cx="73.7" cy="58.3" r="1.61" fill="rgb(150,150,150)" stroke="rgb(98,99,99)" stroke-width="0.4"/>
<circle cx="80.0" cy="56.1" r="1.46" fill="rgb(150,150,150)" stroke="rgb(98,99,99)" stroke-width="0.4"/>
<circle cx="78.7" cy="54.0" r="1.65" fill="rgb(170,170,170)" stroke="rgb(98,99,99)" stroke-width="0.4"/>
<circle cx="70.9" cy="60.3" r="1.68" fill="rgb(135,135,135)" stroke="rgb(98,99,99)" stroke-width="0.4"/>
<circle cx="67.1" cy="62.8" r="1.34" fill="rgb(160,160,160)" stroke="rgb(98,99,99)" stroke-width="0.4"/>
<circle cx="30.8" cy="64.8" r="1.49" fill="rgb(160,160,160)" stroke="rgb(98,99,99)" stroke-width="0.4"/>
<circle cx="26.3" cy="57.2" r="1.38" fill="rgb(135,135,135)" stroke="rgb(98,99,99)" stroke-width="0.4"/>
<circle cx="34.0" cy="57.6" r="1.33" fill="rgb(135,135,135)" stroke="rgb(98,99,99)" stroke-width="0.4"/>
<circle cx="29.3" cy="57.3" r="1.53" fill="rgb(160,160,160)" stroke="rgb(98,99,99)" stroke-width="0.4"/>
<circle cx="58.6" cy="-1.2" r="1.65" fill="rgb(150,150,150)" stroke="rgb(98,99,99)" stroke-width="0.4"/>
<circle cx="57.2" cy="5.6" r="1.36" fill="rgb(160,160,160)" stroke="rgb(98,99,99)" stroke-width="0.4"/>
<circle cx="61.2" cy="2.4" r="1.37" fill="rgb(135,135,135)" stroke="rgb(98,99,99)" stroke-width="0.4"/>
<circle cx="49.4" cy="1.8" r="1.56" fill="rgb(150,150,150)" stroke="rgb(98,99,99)" stroke-width="0.4"/>
<circle cx="46.4" cy="64.4" r="1.30" fill="rgb(135,135,135)" stroke="rgb(98,99,99)" stroke-width="0.4"/>
<circle cx="46.0" cy="69.1" r="1.75" fill="rgb(160,160,160)" stroke="rgb(98,99,99)" stroke-width="0.4"/>
<circle cx="44.9" cy="60.4" r="1.35" fill="rgb(170,170,170)" stroke="rgb(98,99,99)" stroke-width="0.4"/>
<circle cx="47.6" cy="65.0" r="1.54" fill="rgb(150,150,150)" stroke="rgb(98,99,99)" stroke-width="0.4"/>
<circle cx="35.6" cy="64.4" r="1.79" fill="rgb(160,160,160)" stroke="rgb(98,99,99)" stroke-width="0.4"/>
<circle cx="75.1" cy="25.0" r="1.45" fill="rgb(150,150,150)" stroke="rgb(98,99,99)" stroke-width="0.4"/>
<circle cx="67.1" cy="24.8" r="1.58" fill="rgb(160,160,160)" stroke="rgb(98,99,99)" stroke-width="0.4"/>
<circle cx="69.1" cy="27.8" r="1.51" fill="rgb(150,150,150)" stroke="rgb(98,99,99)" stroke-width="0.4"/>
<circle cx="75.2" cy="25.8" r="1.77" fill="rgb(170,170,170)" stroke="rgb(98,99,99)" stroke-width="0.4"/>
<circle cx="63.6" cy="25.8" r="1.45" fill="rgb(160,160,160)" stroke="rgb(98,99,99)" stroke-width="0.4"/>
<circle cx="74.9" cy="19.2" r="1.32" fill="rgb(135,135,135)" stroke="rgb(98,99,99)" stroke-width="0.4"/>
<circle cx="1.3" cy="32.7" r="1.59" fill="rgb(150,150,150)" stroke="rgb(98,99,99)" stroke-width="0.4"/>
<circle cx="0.4" cy="28.3" r="1.67" fill="rgb(160,160,160)" stroke="rgb(98,99,99)" stroke-width="0.4"/>
<circle cx="7.2" cy="27.9" r="1.53" fill="rgb(135,135,135)" stroke="rgb(98,99,99)" stroke-width="0.4"/>
<circle cx="2.2" cy="32.9" r="1.77" fill="rgb(160,160,160)" stroke="rgb(98,99,99)" stroke-width="0.4"/>
<circle cx="0.1" cy="31.5" r="1.49" fill="rgb(150,150,150)" stroke="rgb(98,99,99)" stroke-width="0.4"/>
<circle cx="-1.9" cy="27.5" r="1.41" fill="rgb(170,170,170)" stroke="rgb(98,99,99)" stroke-width="0.4"/>
<circle cx="25.3" cy="31.7" r="1.42" fill="rgb(160,160,160)" stroke="rgb(98,99,99)" stroke-width="0.4"/>
<circle cx="25.0" cy="26.2" r="1.54" fill="rgb(135,135,135)" stroke="rgb(98,99,99)" stroke-width="0.4"/>
<circle cx="29.6" cy="27.8" r="1.41" fill="rgb(135,135,135)" stroke="rgb(98,99,99)" stroke-width="0.4"/>
<circle cx="56.0" cy="25.9" r="1.68" fill="rgb(135,135,135)" stroke="rgb(98,99,99)" stroke-width="0.4"/>
<circle cx="58.8" cy="27.8" r="1.52" fill="rgb(160,160,160)" stroke="rgb(98,99,99)" stroke-width="0.4"/>
<circle cx="53.9" cy="22.7" r="1.73" fill="rgb(160,160,160)" stroke="rgb(98,99,99)" stroke-width="0.4"/>
<circle cx="49.0" cy="28.6" r="1.57" fill="rgb(135,135,135)" stroke="rgb(98,99,99)" stroke-width="0.4"/>
<circle cx="53.2" cy="24.0" r="1.34" fill="rgb(170,170,170)" stroke="rgb(98,99,99)" stroke-width="0.4"/>
<circle cx="54.7" cy="26.8" r="1.48" fill="rgb(170,170,170)" stroke="rgb(98,99,99)" stroke-width="0.4"/>
<circle cx="5.8" cy="35.9" r="1.61" fill="rgb(160,160,160)" stroke="rgb(98,99,99)" stroke-width="0.4"/>
<circle cx="11.0" cy="29.6" r="1.67" fill="rgb(135,135,135)" stroke="rgb(98,99,99)" stroke-width="0.4"/>
<circle cx="9.9" cy="32.3" r="1.58" fill="rgb(160,160,160)" stroke="rgb(98,99,99)" stroke-width="0.4"/>
<circle cx="48.0" cy="32.2" r="1.43" fill="rgb(170,170,170)" stroke="rgb(98,99,99)" stroke-width="0.4"/>
<circle cx="49.7" cy="34.1" r="1.33" fill="rgb(170,170,170)" stroke="rgb(98,99,99)" stroke-width="0.4"/>
<circle cx="52.6" cy="33.6" r="1.37" fill="rgb(160,160,160)" stroke="rgb(98,99,99)" stroke-width="0.4"/>
<circle cx="56.3" cy="35.7" r="1.66" fill="rgb(150,150,150)" stroke="rgb(98,99,99)" stroke-width="0.4"/>
<circle cx="51.8" cy="38.4" r="1.31" fill="rgb(170,170,170)" stroke="rgb(98,99,99)" stroke-width="0.4"/>
<circle cx="50.7" cy="39.6" r="1.72" fill="rgb(135,135,135)" stroke="rgb(98,99,99)" stroke-width="0.4"/>
<circle cx="43.5" cy="9.0" r="1.34" fill="rgb(135,135,135)" stroke="rgb(98,99,99)" stroke-width="0.4"/>
<circle cx="40.3" cy="14.0" r="1.46" fill="rgb(150,150,150)" stroke="rgb(98,99,99)" stroke-width="0.4"/>
<circle cx="42.7" cy="7.8" r="1.45" fill="rgb(160,160,160)" stroke="rgb(98,99,99)" stroke-width="0.4"/>
<circle cx="38.8" cy="14.4" r="1.54" fill="rgb(160,160,160)" stroke="rgb(98,99,99)" stroke-width="0.4"/>
<circle cx="40.0" cy="15.3" r="1.38" fill="rgb(160,160,160)" stroke="rgb(98,99,99)" stroke-width="0.4"/>
<circle cx="59.1" cy="73.8" r="1.32" fill="rgb(170,170,170)" stroke="rgb(98,99,99)" stroke-width="0.4"/>
<circle cx="57.8" cy="72.0" r="1.51" fill="rgb(135,135,135)" stroke="rgb(98,99,99)" stroke-width="0.4"/>
<circle cx="58.7" cy="74.7" r="1.57" fill="rgb(160,160,160)" stroke="rgb(98,99,99)" stroke-width="0.4"/>
<circle cx="54.0" cy="71.9" r="1.56" fill="rgb(170,170,170)" stroke="rgb(98,99,99)" stroke-width="0.4"/>
<circle cx="50.0" cy="74.3" r="1.46" fill="rgb(135,135,135)" stroke="rgb(98,99,99)" stroke-width="0.4"/>
<circle cx="52.9" cy="75.1" r="1.63" fill="rgb(160,160,160)" stroke="rgb(98,99,99)" stroke-width="0.4"/>
<circle cx="55.6" cy="71.8" r="1.74" fill="rgb(170,170,170)" stroke="rgb(98,99,99)" stroke-width="0.4"/>
<circle cx="66.7" cy="38.4" r="1.57" fill="rgb(135,135,135)" stroke="rgb(98,99,99)" stroke-width="0.4"/>
<circle cx="65.2" cy="33.5" r="1.50" fill="rgb(135,135,135)" stroke="rgb(98,99,99)" stroke-width="0.4"/>
<circle cx="68.2" cy="32.7" r="1.56" fill="rgb(170,170,170)" stroke="rgb(98,99,99)" stroke-width="0.4"/>
<circle cx="66.2" cy="26.4" r="1.41" fill="rgb(170,170,170)" stroke="rgb(98,99,99)" stroke-width="0.4"/>
<circle cx="23.4" cy="18.1" r="1.49" fill="rgb(160,160,160)" stroke="rgb(98,99,99)" stroke-width="0.4"/>
<circle cx="25.4" cy="15.5" r="1.37" fill="rgb(150,150,150)" stroke="rgb(98,99,99)" stroke-width="0.4"/>
<circle cx="26.3" cy="8.9" r="1.67" fill="rgb(135,135,135)" stroke="rgb(98,99,99)" stroke-width="0.4"/>
<circle cx="36.2" cy="9.2" r="1.58" fill="rgb(170,170,170)" stroke="rgb(98,99,99)" stroke-width="0.4"/>
<circle cx="52.9" cy="0.2" r="1.63" fill="rgb(150,150,150)" stroke="rgb(98,99,99)" stroke-width="0.4"/>
<circle cx="45.0" cy="10.2" r="1.76" fill="rgb(160,160,160)" stroke="rgb(98,99,99)" stroke-width="0.4"/>
<circle cx="58.4" cy="64.4" r="1.58" fill="rgb(170,170,170)" stroke="rgb(98,99,99)" stroke-width="0.4"/>
<circle cx="66.0" cy="68.0" r="1.63" fill="rgb(170,170,170)" stroke="rgb(98,99,99)" stroke-width="0.4"/>
<circle cx="61.8" cy="68.2" r="1.42" fill="rgb(170,170,170)" stroke="rgb(98,99,99)" stroke-width="0.4"/>
<circle cx="60.3" cy="70.8" r="1.34" fill="rgb(135,135,135)" stroke="rgb(98,99,99)" stroke-width="0.4"/>
<circle cx="65.7" cy="71.6" r="1.36" fill="rgb(135,135,135)" stroke="rgb(98,99,99)" stroke-width="0.4"/>
<circle cx="63.3" cy="72.3" r="1.33" fill="rgb(135,135,135)" stroke="rgb(98,99,99)" stroke-width="0.4"/>
<circle cx="61.2" cy="72.2" r="1.77" fill="rgb(170,170,170)" stroke="rgb(98,99,99)" stroke-width="0.4"/>
<circle cx="-0.5" cy="52.5" r="1.55" fill="rgb(170,170,170)" stroke="rgb(98,99,99)" stroke-width="0.4"/>
<circle cx="5.4" cy="52.1" r="1.41" fill="rgb(135,135,135)" stroke="rgb(98,99,99)" stroke-width="0.4"/>
<circle cx="9.0" cy="45.5" r="1.40" fill="rgb(160,160,160)" stroke="rgb(98,99,99)" stroke-width="0.4"/>
<circle cx="-0.4" cy="48.8" r="1.48" fill="rgb(160,160,160)" stroke="rgb(98,99,99)" stroke-width="0.4"/>
<circle cx="24.8" cy="60.7" r="1.56" fill="rgb(170,170,170)" stroke="rgb(98,99,99)" stroke-width="0.4"/>
<circle cx="18.0" cy="68.5" r="1.75" fill="rgb(160,160,160)" stroke="rgb(98,99,99)" stroke-width="0.4"/>
<circle cx="14.2" cy="63.5" r="1.54" fill="rgb(170,170,170)" stroke="rgb(98,99,99)" stroke-width="0.4"/>
<circle cx="17.0" cy="65.8" r="1.65" fill="rgb(170,170,170)" stroke="rgb(98,99,99)" stroke-width="0.4"/>
<circle cx="14.3" cy="69.6" r="1.65" fill="rgb(150,150,150)" stroke="rgb(98,99,99)" stroke-width="0.4"/>
<circle cx="20.7" cy="67.6" r="1.75" fill="rgb(150,150,150)" stroke="rgb(98,99,99)" stroke-width="0.4"/>
<circle cx="49.8" cy="64.0" r="1.48" fill="rgb(150,150,150)" stroke="rgb(98,99,99)" stroke-width="0.4"/>
<circle cx="53.0" cy="71.8" r="1.76" fill="rgb(170,170,170)" stroke="rgb(98,99,99)" stroke-width="0.4"/>
<circle cx="56.2" cy="68.1" r="1.33" fill="rgb(135,135,135)" stroke="rgb(98,99,99)" stroke-width="0.4"/>
<circle cx="50.7" cy="68.7" r="1.72" fill="rgb(170,170,170)" stroke="rgb(98,99,99)" stroke-width="0.4"/>
<circle cx="53.7" cy="68.0" r="1.53" fill="rgb(170,170,170)" stroke="rgb(98,99,99)" stroke-width="0.4"/>
<circle cx="53.1" cy="63.3" r="1.74" fill="rgb(150,150,150)" stroke="rgb(98,99,99)" stroke-width="0.4"/>
</svg>
<text x="488.7" y="435.1" font-size="8.8" text-anchor="start" fill="#111" stroke="#111" stroke-width="0.22" >2 h</text>
<svg x="564.8" y="364.0" width="75.2" height="74.8" overflow="hidden">
<rect x="0.00" y="0.00" width="75.20" height="74.80" fill="rgb(113,115,115)" />
<circle cx="-0.7" cy="24.9" r="1.63" fill="rgb(160,160,160)" stroke="rgb(98,99,99)" stroke-width="0.4"/>
<circle cx="0.7" cy="24.0" r="1.56" fill="rgb(160,160,160)" stroke="rgb(98,99,99)" stroke-width="0.4"/>
<circle cx="-3.0" cy="26.9" r="1.55" fill="rgb(160,160,160)" stroke="rgb(98,99,99)" stroke-width="0.4"/>
<circle cx="5.0" cy="25.0" r="1.56" fill="rgb(150,150,150)" stroke="rgb(98,99,99)" stroke-width="0.4"/>
<circle cx="-5.7" cy="22.1" r="1.67" fill="rgb(150,150,150)" stroke="rgb(98,99,99)" stroke-width="0.4"/>
<circle cx="53.4" cy="45.6" r="1.30" fill="rgb(170,170,170)" stroke="rgb(98,99,99)" stroke-width="0.4"/>
<circle cx="59.2" cy="47.4" r="1.63" fill="rgb(135,135,135)" stroke="rgb(98,99,99)" stroke-width="0.4"/>
<circle cx="54.3" cy="47.8" r="1.69" fill="rgb(150,150,150)" stroke="rgb(98,99,99)" stroke-width="0.4"/>
<circle cx="61.4" cy="46.2" r="1.52" fill="rgb(160,160,160)" stroke="rgb(98,99,99)" stroke-width="0.4"/>
<circle cx="59.8" cy="41.9" r="1.31" fill="rgb(170,170,170)" stroke="rgb(98,99,99)" stroke-width="0.4"/>
<circle cx="57.4" cy="51.0" r="1.77" fill="rgb(150,150,150)" stroke="rgb(98,99,99)" stroke-width="0.4"/>
<circle cx="57.3" cy="47.0" r="1.35" fill="rgb(135,135,135)" stroke="rgb(98,99,99)" stroke-width="0.4"/>
<circle cx="44.4" cy="17.9" r="1.57" fill="rgb(150,150,150)" stroke="rgb(98,99,99)" stroke-width="0.4"/>
<circle cx="49.9" cy="20.2" r="1.69" fill="rgb(150,150,150)" stroke="rgb(98,99,99)" stroke-width="0.4"/>
<circle cx="43.5" cy="21.8" r="1.45" fill="rgb(150,150,150)" stroke="rgb(98,99,99)" stroke-width="0.4"/>
<circle cx="40.5" cy="20.4" r="1.33" fill="rgb(160,160,160)" stroke="rgb(98,99,99)" stroke-width="0.4"/>
<circle cx="40.9" cy="18.7" r="1.36" fill="rgb(150,150,150)" stroke="rgb(98,99,99)" stroke-width="0.4"/>
<circle cx="42.0" cy="63.8" r="1.55" fill="rgb(170,170,170)" stroke="rgb(98,99,99)" stroke-width="0.4"/>
<circle cx="48.5" cy="62.9" r="1.45" fill="rgb(160,160,160)" stroke="rgb(98,99,99)" stroke-width="0.4"/>
<circle cx="43.1" cy="65.6" r="1.42" fill="rgb(135,135,135)" stroke="rgb(98,99,99)" stroke-width="0.4"/>
<circle cx="43.4" cy="64.1" r="1.53" fill="rgb(160,160,160)" stroke="rgb(98,99,99)" stroke-width="0.4"/>
<circle cx="43.8" cy="64.8" r="1.59" fill="rgb(160,160,160)" stroke="rgb(98,99,99)" stroke-width="0.4"/>
<circle cx="49.9" cy="62.3" r="1.58" fill="rgb(135,135,135)" stroke="rgb(98,99,99)" stroke-width="0.4"/>
<circle cx="51.8" cy="55.9" r="1.37" fill="rgb(150,150,150)" stroke="rgb(98,99,99)" stroke-width="0.4"/>
<circle cx="52.0" cy="62.9" r="1.70" fill="rgb(160,160,160)" stroke="rgb(98,99,99)" stroke-width="0.4"/>
<circle cx="50.8" cy="62.2" r="1.37" fill="rgb(160,160,160)" stroke="rgb(98,99,99)" stroke-width="0.4"/>
<circle cx="50.0" cy="60.1" r="1.50" fill="rgb(150,150,150)" stroke="rgb(98,99,99)" stroke-width="0.4"/>
<circle cx="7.0" cy="3.2" r="1.51" fill="rgb(150,150,150)" stroke="rgb(98,99,99)" stroke-width="0.4"/>
<circle cx="7.2" cy="1.7" r="1.41" fill="rgb(150,150,150)" stroke="rgb(98,99,99)" stroke-width="0.4"/>
<circle cx="4.3" cy="4.2" r="1.67" fill="rgb(135,135,135)" stroke="rgb(98,99,99)" stroke-width="0.4"/>
<circle cx="49.3" cy="31.8" r="1.38" fill="rgb(150,150,150)" stroke="rgb(98,99,99)" stroke-width="0.4"/>
<circle cx="40.5" cy="30.6" r="1.50" fill="rgb(135,135,135)" stroke="rgb(98,99,99)" stroke-width="0.4"/>
<circle cx="42.4" cy="34.3" r="1.45" fill="rgb(150,150,150)" stroke="rgb(98,99,99)" stroke-width="0.4"/>
<circle cx="46.7" cy="36.4" r="1.49" fill="rgb(170,170,170)" stroke="rgb(98,99,99)" stroke-width="0.4"/>
<circle cx="45.3" cy="33.7" r="1.34" fill="rgb(170,170,170)" stroke="rgb(98,99,99)" stroke-width="0.4"/>
<circle cx="47.1" cy="24.2" r="1.57" fill="rgb(135,135,135)" stroke="rgb(98,99,99)" stroke-width="0.4"/>
<circle cx="61.2" cy="41.0" r="1.46" fill="rgb(135,135,135)" stroke="rgb(98,99,99)" stroke-width="0.4"/>
<circle cx="62.1" cy="39.7" r="1.40" fill="rgb(160,160,160)" stroke="rgb(98,99,99)" stroke-width="0.4"/>
<circle cx="63.6" cy="44.4" r="1.58" fill="rgb(150,150,150)" stroke="rgb(98,99,99)" stroke-width="0.4"/>
<circle cx="60.2" cy="40.4" r="1.50" fill="rgb(170,170,170)" stroke="rgb(98,99,99)" stroke-width="0.4"/>
<circle cx="56.9" cy="34.7" r="1.43" fill="rgb(170,170,170)" stroke="rgb(98,99,99)" stroke-width="0.4"/>
<circle cx="57.0" cy="43.4" r="1.41" fill="rgb(150,150,150)" stroke="rgb(98,99,99)" stroke-width="0.4"/>
<circle cx="58.1" cy="66.0" r="1.51" fill="rgb(135,135,135)" stroke="rgb(98,99,99)" stroke-width="0.4"/>
<circle cx="57.1" cy="66.8" r="1.49" fill="rgb(135,135,135)" stroke="rgb(98,99,99)" stroke-width="0.4"/>
<circle cx="69.1" cy="65.1" r="1.47" fill="rgb(150,150,150)" stroke="rgb(98,99,99)" stroke-width="0.4"/>
<circle cx="64.7" cy="71.0" r="1.32" fill="rgb(150,150,150)" stroke="rgb(98,99,99)" stroke-width="0.4"/>
<circle cx="60.2" cy="70.1" r="1.38" fill="rgb(135,135,135)" stroke="rgb(98,99,99)" stroke-width="0.4"/>
<circle cx="15.2" cy="59.0" r="1.57" fill="rgb(135,135,135)" stroke="rgb(98,99,99)" stroke-width="0.4"/>
<circle cx="24.9" cy="48.7" r="1.71" fill="rgb(150,150,150)" stroke="rgb(98,99,99)" stroke-width="0.4"/>
<circle cx="22.1" cy="55.8" r="1.66" fill="rgb(150,150,150)" stroke="rgb(98,99,99)" stroke-width="0.4"/>
<circle cx="33.9" cy="70.6" r="1.46" fill="rgb(135,135,135)" stroke="rgb(98,99,99)" stroke-width="0.4"/>
<circle cx="31.4" cy="66.1" r="1.78" fill="rgb(135,135,135)" stroke="rgb(98,99,99)" stroke-width="0.4"/>
<circle cx="28.3" cy="62.6" r="1.67" fill="rgb(170,170,170)" stroke="rgb(98,99,99)" stroke-width="0.4"/>
<circle cx="33.6" cy="67.9" r="1.50" fill="rgb(150,150,150)" stroke="rgb(98,99,99)" stroke-width="0.4"/>
<circle cx="35.5" cy="62.3" r="1.30" fill="rgb(170,170,170)" stroke="rgb(98,99,99)" stroke-width="0.4"/>
<circle cx="65.4" cy="39.1" r="1.78" fill="rgb(170,170,170)" stroke="rgb(98,99,99)" stroke-width="0.4"/>
<circle cx="66.9" cy="47.5" r="1.78" fill="rgb(170,170,170)" stroke="rgb(98,99,99)" stroke-width="0.4"/>
<circle cx="62.1" cy="46.1" r="1.72" fill="rgb(160,160,160)" stroke="rgb(98,99,99)" stroke-width="0.4"/>
<circle cx="62.2" cy="45.1" r="1.60" fill="rgb(150,150,150)" stroke="rgb(98,99,99)" stroke-width="0.4"/>
<circle cx="62.1" cy="42.9" r="1.46" fill="rgb(135,135,135)" stroke="rgb(98,99,99)" stroke-width="0.4"/>
<circle cx="16.3" cy="41.7" r="1.36" fill="rgb(170,170,170)" stroke="rgb(98,99,99)" stroke-width="0.4"/>
<circle cx="17.5" cy="39.4" r="1.33" fill="rgb(150,150,150)" stroke="rgb(98,99,99)" stroke-width="0.4"/>
<circle cx="17.1" cy="42.3" r="1.41" fill="rgb(170,170,170)" stroke="rgb(98,99,99)" stroke-width="0.4"/>
<circle cx="3.2" cy="42.5" r="1.70" fill="rgb(135,135,135)" stroke="rgb(98,99,99)" stroke-width="0.4"/>
<circle cx="17.2" cy="48.0" r="1.62" fill="rgb(170,170,170)" stroke="rgb(98,99,99)" stroke-width="0.4"/>
<circle cx="11.5" cy="41.6" r="1.50" fill="rgb(170,170,170)" stroke="rgb(98,99,99)" stroke-width="0.4"/>
<circle cx="16.4" cy="38.0" r="1.59" fill="rgb(150,150,150)" stroke="rgb(98,99,99)" stroke-width="0.4"/>
<circle cx="4.3" cy="43.4" r="1.34" fill="rgb(160,160,160)" stroke="rgb(98,99,99)" stroke-width="0.4"/>
<circle cx="3.7" cy="43.7" r="1.72" fill="rgb(170,170,170)" stroke="rgb(98,99,99)" stroke-width="0.4"/>
<circle cx="5.9" cy="36.9" r="1.32" fill="rgb(160,160,160)" stroke="rgb(98,99,99)" stroke-width="0.4"/>
<circle cx="5.3" cy="40.8" r="1.71" fill="rgb(170,170,170)" stroke="rgb(98,99,99)" stroke-width="0.4"/>
<circle cx="9.6" cy="34.6" r="1.62" fill="rgb(150,150,150)" stroke="rgb(98,99,99)" stroke-width="0.4"/>
<circle cx="-0.8" cy="39.9" r="1.80" fill="rgb(135,135,135)" stroke="rgb(98,99,99)" stroke-width="0.4"/>
<circle cx="4.2" cy="41.9" r="1.32" fill="rgb(150,150,150)" stroke="rgb(98,99,99)" stroke-width="0.4"/>
<circle cx="44.2" cy="4.9" r="1.58" fill="rgb(170,170,170)" stroke="rgb(98,99,99)" stroke-width="0.4"/>
<circle cx="42.3" cy="4.6" r="1.62" fill="rgb(150,150,150)" stroke="rgb(98,99,99)" stroke-width="0.4"/>
<circle cx="35.5" cy="3.6" r="1.61" fill="rgb(160,160,160)" stroke="rgb(98,99,99)" stroke-width="0.4"/>
<circle cx="43.3" cy="-0.8" r="1.59" fill="rgb(150,150,150)" stroke="rgb(98,99,99)" stroke-width="0.4"/>
<circle cx="36.7" cy="8.4" r="1.71" fill="rgb(135,135,135)" stroke="rgb(98,99,99)" stroke-width="0.4"/>
<circle cx="44.6" cy="-0.6" r="1.51" fill="rgb(150,150,150)" stroke="rgb(98,99,99)" stroke-width="0.4"/>
<circle cx="69.7" cy="10.7" r="1.39" fill="rgb(150,150,150)" stroke="rgb(98,99,99)" stroke-width="0.4"/>
<circle cx="74.1" cy="15.2" r="1.52" fill="rgb(160,160,160)" stroke="rgb(98,99,99)" stroke-width="0.4"/>
<circle cx="78.7" cy="8.2" r="1.49" fill="rgb(135,135,135)" stroke="rgb(98,99,99)" stroke-width="0.4"/>
<circle cx="74.6" cy="11.0" r="1.64" fill="rgb(150,150,150)" stroke="rgb(98,99,99)" stroke-width="0.4"/>
<circle cx="70.7" cy="11.3" r="1.52" fill="rgb(150,150,150)" stroke="rgb(98,99,99)" stroke-width="0.4"/>
<circle cx="75.4" cy="4.4" r="1.72" fill="rgb(170,170,170)" stroke="rgb(98,99,99)" stroke-width="0.4"/>
<circle cx="52.6" cy="28.6" r="1.63" fill="rgb(150,150,150)" stroke="rgb(98,99,99)" stroke-width="0.4"/>
<circle cx="45.7" cy="25.0" r="1.65" fill="rgb(135,135,135)" stroke="rgb(98,99,99)" stroke-width="0.4"/>
<circle cx="48.5" cy="28.6" r="1.46" fill="rgb(150,150,150)" stroke="rgb(98,99,99)" stroke-width="0.4"/>
<circle cx="49.8" cy="27.0" r="1.76" fill="rgb(160,160,160)" stroke="rgb(98,99,99)" stroke-width="0.4"/>
<circle cx="47.2" cy="28.7" r="1.35" fill="rgb(170,170,170)" stroke="rgb(98,99,99)" stroke-width="0.4"/>
<circle cx="23.9" cy="14.6" r="1.57" fill="rgb(150,150,150)" stroke="rgb(98,99,99)" stroke-width="0.4"/>
<circle cx="30.3" cy="11.9" r="1.38" fill="rgb(170,170,170)" stroke="rgb(98,99,99)" stroke-width="0.4"/>
<circle cx="23.6" cy="13.4" r="1.54" fill="rgb(150,150,150)" stroke="rgb(98,99,99)" stroke-width="0.4"/>
<circle cx="17.7" cy="9.6" r="1.75" fill="rgb(135,135,135)" stroke="rgb(98,99,99)" stroke-width="0.4"/>
<circle cx="28.2" cy="18.6" r="1.40" fill="rgb(135,135,135)" stroke="rgb(98,99,99)" stroke-width="0.4"/>
<circle cx="21.4" cy="54.9" r="1.55" fill="rgb(135,135,135)" stroke="rgb(98,99,99)" stroke-width="0.4"/>
<circle cx="16.0" cy="57.8" r="1.56" fill="rgb(135,135,135)" stroke="rgb(98,99,99)" stroke-width="0.4"/>
<circle cx="18.0" cy="56.4" r="1.35" fill="rgb(160,160,160)" stroke="rgb(98,99,99)" stroke-width="0.4"/>
<circle cx="63.0" cy="53.2" r="1.69" fill="rgb(170,170,170)" stroke="rgb(98,99,99)" stroke-width="0.4"/>
<circle cx="65.8" cy="62.8" r="1.40" fill="rgb(170,170,170)" stroke="rgb(98,99,99)" stroke-width="0.4"/>
<circle cx="60.2" cy="69.0" r="1.71" fill="rgb(170,170,170)" stroke="rgb(98,99,99)" stroke-width="0.4"/>
<circle cx="12.1" cy="46.9" r="1.49" fill="rgb(135,135,135)" stroke="rgb(98,99,99)" stroke-width="0.4"/>
<circle cx="8.7" cy="45.3" r="1.53" fill="rgb(135,135,135)" stroke="rgb(98,99,99)" stroke-width="0.4"/>
<circle cx="6.0" cy="49.5" r="1.48" fill="rgb(160,160,160)" stroke="rgb(98,99,99)" stroke-width="0.4"/>
<circle cx="2.9" cy="51.7" r="1.54" fill="rgb(135,135,135)" stroke="rgb(98,99,99)" stroke-width="0.4"/>
<circle cx="12.7" cy="46.7" r="1.46" fill="rgb(135,135,135)" stroke="rgb(98,99,99)" stroke-width="0.4"/>
<circle cx="10.7" cy="41.7" r="1.42" fill="rgb(170,170,170)" stroke="rgb(98,99,99)" stroke-width="0.4"/>
<circle cx="29.4" cy="34.9" r="1.48" fill="rgb(135,135,135)" stroke="rgb(98,99,99)" stroke-width="0.4"/>
<circle cx="31.8" cy="34.7" r="1.59" fill="rgb(170,170,170)" stroke="rgb(98,99,99)" stroke-width="0.4"/>
<circle cx="36.6" cy="32.9" r="1.76" fill="rgb(170,170,170)" stroke="rgb(98,99,99)" stroke-width="0.4"/>
<circle cx="30.1" cy="35.8" r="1.49" fill="rgb(160,160,160)" stroke="rgb(98,99,99)" stroke-width="0.4"/>
<circle cx="33.9" cy="35.3" r="1.52" fill="rgb(150,150,150)" stroke="rgb(98,99,99)" stroke-width="0.4"/>
<circle cx="30.8" cy="38.8" r="1.58" fill="rgb(135,135,135)" stroke="rgb(98,99,99)" stroke-width="0.4"/>
<circle cx="22.5" cy="24.4" r="1.75" fill="rgb(135,135,135)" stroke="rgb(98,99,99)" stroke-width="0.4"/>
<circle cx="28.2" cy="18.9" r="1.49" fill="rgb(150,150,150)" stroke="rgb(98,99,99)" stroke-width="0.4"/>
<circle cx="25.9" cy="17.8" r="1.42" fill="rgb(150,150,150)" stroke="rgb(98,99,99)" stroke-width="0.4"/>
<circle cx="28.7" cy="18.9" r="1.64" fill="rgb(160,160,160)" stroke="rgb(98,99,99)" stroke-width="0.4"/>
<circle cx="25.3" cy="25.8" r="1.32" fill="rgb(170,170,170)" stroke="rgb(98,99,99)" stroke-width="0.4"/>
<circle cx="19.8" cy="12.5" r="1.58" fill="rgb(135,135,135)" stroke="rgb(98,99,99)" stroke-width="0.4"/>
<circle cx="27.7" cy="13.7" r="1.47" fill="rgb(160,160,160)" stroke="rgb(98,99,99)" stroke-width="0.4"/>
<circle cx="38.9" cy="75.2" r="1.52" fill="rgb(170,170,170)" stroke="rgb(98,99,99)" stroke-width="0.4"/>
<circle cx="36.2" cy="77.9" r="1.70" fill="rgb(150,150,150)" stroke="rgb(98,99,99)" stroke-width="0.4"/>
<circle cx="37.1" cy="76.3" r="1.42" fill="rgb(160,160,160)" stroke="rgb(98,99,99)" stroke-width="0.4"/>
<circle cx="0.1" cy="36.9" r="1.41" fill="rgb(160,160,160)" stroke="rgb(98,99,99)" stroke-width="0.4"/>
<circle cx="5.1" cy="33.9" r="1.73" fill="rgb(170,170,170)" stroke="rgb(98,99,99)" stroke-width="0.4"/>
<circle cx="2.0" cy="28.0" r="1.36" fill="rgb(160,160,160)" stroke="rgb(98,99,99)" stroke-width="0.4"/>
<circle cx="1.4" cy="38.2" r="1.59" fill="rgb(170,170,170)" stroke="rgb(98,99,99)" stroke-width="0.4"/>
<circle cx="4.8" cy="27.2" r="1.64" fill="rgb(170,170,170)" stroke="rgb(98,99,99)" stroke-width="0.4"/>
<circle cx="-6.2" cy="29.6" r="1.35" fill="rgb(170,170,170)" stroke="rgb(98,99,99)" stroke-width="0.4"/>
<circle cx="61.3" cy="14.2" r="1.60" fill="rgb(170,170,170)" stroke="rgb(98,99,99)" stroke-width="0.4"/>
<circle cx="67.8" cy="7.6" r="1.36" fill="rgb(170,170,170)" stroke="rgb(98,99,99)" stroke-width="0.4"/>
<circle cx="60.5" cy="14.2" r="1.31" fill="rgb(170,170,170)" stroke="rgb(98,99,99)" stroke-width="0.4"/>
<circle cx="55.7" cy="13.8" r="1.63" fill="rgb(170,170,170)" stroke="rgb(98,99,99)" stroke-width="0.4"/>
<circle cx="65.1" cy="12.4" r="1.43" fill="rgb(160,160,160)" stroke="rgb(98,99,99)" stroke-width="0.4"/>
<circle cx="37.4" cy="36.4" r="1.43" fill="rgb(150,150,150)" stroke="rgb(98,99,99)" stroke-width="0.4"/>
<circle cx="30.1" cy="31.4" r="1.44" fill="rgb(170,170,170)" stroke="rgb(98,99,99)" stroke-width="0.4"/>
<circle cx="34.7" cy="34.3" r="1.70" fill="rgb(160,160,160)" stroke="rgb(98,99,99)" stroke-width="0.4"/>
<circle cx="52.5" cy="27.3" r="1.74" fill="rgb(160,160,160)" stroke="rgb(98,99,99)" stroke-width="0.4"/>
<circle cx="55.0" cy="25.2" r="1.71" fill="rgb(160,160,160)" stroke="rgb(98,99,99)" stroke-width="0.4"/>
<circle cx="49.0" cy="30.2" r="1.60" fill="rgb(160,160,160)" stroke="rgb(98,99,99)" stroke-width="0.4"/>
<circle cx="14.4" cy="53.6" r="1.57" fill="rgb(170,170,170)" stroke="rgb(98,99,99)" stroke-width="0.4"/>
<circle cx="17.0" cy="58.6" r="1.45" fill="rgb(135,135,135)" stroke="rgb(98,99,99)" stroke-width="0.4"/>
<circle cx="20.2" cy="55.6" r="1.77" fill="rgb(170,170,170)" stroke="rgb(98,99,99)" stroke-width="0.4"/>
<circle cx="14.3" cy="59.1" r="1.63" fill="rgb(160,160,160)" stroke="rgb(98,99,99)" stroke-width="0.4"/>
<circle cx="78.9" cy="47.4" r="1.54" fill="rgb(170,170,170)" stroke="rgb(98,99,99)" stroke-width="0.4"/>
<circle cx="75.2" cy="53.0" r="1.47" fill="rgb(160,160,160)" stroke="rgb(98,99,99)" stroke-width="0.4"/>
<circle cx="74.5" cy="55.1" r="1.77" fill="rgb(170,170,170)" stroke="rgb(98,99,99)" stroke-width="0.4"/>
<circle cx="72.7" cy="49.9" r="1.58" fill="rgb(170,170,170)" stroke="rgb(98,99,99)" stroke-width="0.4"/>
<circle cx="76.0" cy="53.1" r="1.74" fill="rgb(150,150,150)" stroke="rgb(98,99,99)" stroke-width="0.4"/>
<circle cx="7.6" cy="43.0" r="1.77" fill="rgb(150,150,150)" stroke="rgb(98,99,99)" stroke-width="0.4"/>
<circle cx="5.6" cy="45.4" r="1.59" fill="rgb(150,150,150)" stroke="rgb(98,99,99)" stroke-width="0.4"/>
<circle cx="5.6" cy="45.1" r="1.45" fill="rgb(150,150,150)" stroke="rgb(98,99,99)" stroke-width="0.4"/>
<circle cx="5.4" cy="35.0" r="1.35" fill="rgb(150,150,150)" stroke="rgb(98,99,99)" stroke-width="0.4"/>
<circle cx="10.3" cy="37.0" r="1.40" fill="rgb(170,170,170)" stroke="rgb(98,99,99)" stroke-width="0.4"/>
<circle cx="6.9" cy="33.7" r="1.45" fill="rgb(160,160,160)" stroke="rgb(98,99,99)" stroke-width="0.4"/>
<circle cx="31.4" cy="8.8" r="1.33" fill="rgb(150,150,150)" stroke="rgb(98,99,99)" stroke-width="0.4"/>
<circle cx="32.2" cy="2.5" r="1.37" fill="rgb(135,135,135)" stroke="rgb(98,99,99)" stroke-width="0.4"/>
<circle cx="33.4" cy="4.3" r="1.59" fill="rgb(150,150,150)" stroke="rgb(98,99,99)" stroke-width="0.4"/>
<circle cx="33.3" cy="4.4" r="1.52" fill="rgb(160,160,160)" stroke="rgb(98,99,99)" stroke-width="0.4"/>
<circle cx="30.4" cy="8.1" r="1.34" fill="rgb(170,170,170)" stroke="rgb(98,99,99)" stroke-width="0.4"/>
<circle cx="36.0" cy="2.2" r="1.61" fill="rgb(160,160,160)" stroke="rgb(98,99,99)" stroke-width="0.4"/>
<circle cx="25.0" cy="10.8" r="1.74" fill="rgb(150,150,150)" stroke="rgb(98,99,99)" stroke-width="0.4"/>
<circle cx="18.6" cy="8.3" r="1.51" fill="rgb(135,135,135)" stroke="rgb(98,99,99)" stroke-width="0.4"/>
<circle cx="21.1" cy="7.0" r="1.40" fill="rgb(135,135,135)" stroke="rgb(98,99,99)" stroke-width="0.4"/>
<circle cx="25.5" cy="8.5" r="1.31" fill="rgb(150,150,150)" stroke="rgb(98,99,99)" stroke-width="0.4"/>
<circle cx="17.5" cy="-2.4" r="1.37" fill="rgb(170,170,170)" stroke="rgb(98,99,99)" stroke-width="0.4"/>
<circle cx="23.8" cy="1.1" r="1.43" fill="rgb(160,160,160)" stroke="rgb(98,99,99)" stroke-width="0.4"/>
<circle cx="19.9" cy="5.9" r="1.65" fill="rgb(160,160,160)" stroke="rgb(98,99,99)" stroke-width="0.4"/>
<circle cx="3.4" cy="17.5" r="1.79" fill="rgb(160,160,160)" stroke="rgb(98,99,99)" stroke-width="0.4"/>
<circle cx="-1.9" cy="7.0" r="1.73" fill="rgb(150,150,150)" stroke="rgb(98,99,99)" stroke-width="0.4"/>
<circle cx="16.3" cy="11.1" r="1.60" fill="rgb(170,170,170)" stroke="rgb(98,99,99)" stroke-width="0.4"/>
<circle cx="0.3" cy="16.8" r="1.77" fill="rgb(150,150,150)" stroke="rgb(98,99,99)" stroke-width="0.4"/>
<circle cx="2.3" cy="8.3" r="1.68" fill="rgb(160,160,160)" stroke="rgb(98,99,99)" stroke-width="0.4"/>
<circle cx="6.8" cy="12.7" r="1.78" fill="rgb(150,150,150)" stroke="rgb(98,99,99)" stroke-width="0.4"/>
<circle cx="2.0" cy="13.6" r="1.35" fill="rgb(170,170,170)" stroke="rgb(98,99,99)" stroke-width="0.4"/>
<circle cx="60" cy="58" r="3.30" fill="url(#spot)" opacity="0.85"/>
</svg>
<text x="568.2" y="435.1" font-size="8.8" text-anchor="start" fill="#111" stroke="#111" stroke-width="0.22" >4 h</text>
<svg x="406.7" y="443.1" width="75.2" height="74.8" overflow="hidden">
<rect x="0.00" y="0.00" width="75.20" height="74.80" fill="rgb(113,115,115)" />
<circle cx="63.6" cy="72.6" r="1.67" fill="rgb(135,135,135)" stroke="rgb(98,99,99)" stroke-width="0.4"/>
<circle cx="67.2" cy="76.0" r="1.33" fill="rgb(150,150,150)" stroke="rgb(98,99,99)" stroke-width="0.4"/>
<circle cx="68.8" cy="66.7" r="1.71" fill="rgb(135,135,135)" stroke="rgb(98,99,99)" stroke-width="0.4"/>
<circle cx="56.1" cy="8.8" r="1.33" fill="rgb(170,170,170)" stroke="rgb(98,99,99)" stroke-width="0.4"/>
<circle cx="57.0" cy="5.2" r="1.67" fill="rgb(135,135,135)" stroke="rgb(98,99,99)" stroke-width="0.4"/>
<circle cx="47.8" cy="7.9" r="1.43" fill="rgb(135,135,135)" stroke="rgb(98,99,99)" stroke-width="0.4"/>
<circle cx="50.1" cy="6.7" r="1.57" fill="rgb(150,150,150)" stroke="rgb(98,99,99)" stroke-width="0.4"/>
<circle cx="50.8" cy="3.5" r="1.37" fill="rgb(170,170,170)" stroke="rgb(98,99,99)" stroke-width="0.4"/>
<circle cx="40.8" cy="38.9" r="1.70" fill="rgb(150,150,150)" stroke="rgb(98,99,99)" stroke-width="0.4"/>
<circle cx="39.3" cy="32.8" r="1.44" fill="rgb(170,170,170)" stroke="rgb(98,99,99)" stroke-width="0.4"/>
<circle cx="42.0" cy="40.6" r="1.56" fill="rgb(135,135,135)" stroke="rgb(98,99,99)" stroke-width="0.4"/>
<circle cx="45.0" cy="43.1" r="1.46" fill="rgb(135,135,135)" stroke="rgb(98,99,99)" stroke-width="0.4"/>
<circle cx="45.5" cy="47.1" r="1.63" fill="rgb(170,170,170)" stroke="rgb(98,99,99)" stroke-width="0.4"/>
<circle cx="13.6" cy="55.0" r="1.75" fill="rgb(135,135,135)" stroke="rgb(98,99,99)" stroke-width="0.4"/>
<circle cx="13.7" cy="57.9" r="1.64" fill="rgb(150,150,150)" stroke="rgb(98,99,99)" stroke-width="0.4"/>
<circle cx="14.9" cy="53.1" r="1.60" fill="rgb(135,135,135)" stroke="rgb(98,99,99)" stroke-width="0.4"/>
<circle cx="12.9" cy="53.7" r="1.53" fill="rgb(135,135,135)" stroke="rgb(98,99,99)" stroke-width="0.4"/>
<circle cx="13.1" cy="45.5" r="1.58" fill="rgb(170,170,170)" stroke="rgb(98,99,99)" stroke-width="0.4"/>
<circle cx="15.0" cy="46.5" r="1.48" fill="rgb(150,150,150)" stroke="rgb(98,99,99)" stroke-width="0.4"/>
<circle cx="19.1" cy="53.5" r="1.34" fill="rgb(170,170,170)" stroke="rgb(98,99,99)" stroke-width="0.4"/>
<circle cx="16.6" cy="15.6" r="1.57" fill="rgb(160,160,160)" stroke="rgb(98,99,99)" stroke-width="0.4"/>
<circle cx="17.7" cy="15.1" r="1.65" fill="rgb(160,160,160)" stroke="rgb(98,99,99)" stroke-width="0.4"/>
<circle cx="24.3" cy="19.2" r="1.49" fill="rgb(170,170,170)" stroke="rgb(98,99,99)" stroke-width="0.4"/>
<circle cx="22.0" cy="16.3" r="1.37" fill="rgb(150,150,150)" stroke="rgb(98,99,99)" stroke-width="0.4"/>
<circle cx="17.2" cy="14.1" r="1.57" fill="rgb(135,135,135)" stroke="rgb(98,99,99)" stroke-width="0.4"/>
<circle cx="20.8" cy="16.2" r="1.63" fill="rgb(160,160,160)" stroke="rgb(98,99,99)" stroke-width="0.4"/>
<circle cx="61.8" cy="43.0" r="1.69" fill="rgb(160,160,160)" stroke="rgb(98,99,99)" stroke-width="0.4"/>
<circle cx="72.3" cy="42.4" r="1.40" fill="rgb(150,150,150)" stroke="rgb(98,99,99)" stroke-width="0.4"/>
<circle cx="67.2" cy="42.9" r="1.36" fill="rgb(150,150,150)" stroke="rgb(98,99,99)" stroke-width="0.4"/>
<circle cx="71.0" cy="14.2" r="1.62" fill="rgb(150,150,150)" stroke="rgb(98,99,99)" stroke-width="0.4"/>
<circle cx="69.2" cy="13.8" r="1.67" fill="rgb(170,170,170)" stroke="rgb(98,99,99)" stroke-width="0.4"/>
<circle cx="70.0" cy="12.2" r="1.31" fill="rgb(150,150,150)" stroke="rgb(98,99,99)" stroke-width="0.4"/>
<circle cx="69.8" cy="7.8" r="1.65" fill="rgb(150,150,150)" stroke="rgb(98,99,99)" stroke-width="0.4"/>
<circle cx="7.4" cy="14.0" r="1.63" fill="rgb(170,170,170)" stroke="rgb(98,99,99)" stroke-width="0.4"/>
<circle cx="6.9" cy="16.5" r="1.73" fill="rgb(160,160,160)" stroke="rgb(98,99,99)" stroke-width="0.4"/>
<circle cx="2.0" cy="19.0" r="1.61" fill="rgb(170,170,170)" stroke="rgb(98,99,99)" stroke-width="0.4"/>
<circle cx="2.0" cy="25.9" r="1.65" fill="rgb(170,170,170)" stroke="rgb(98,99,99)" stroke-width="0.4"/>
<circle cx="4.6" cy="12.2" r="1.71" fill="rgb(160,160,160)" stroke="rgb(98,99,99)" stroke-width="0.4"/>
<circle cx="3.4" cy="18.0" r="1.72" fill="rgb(170,170,170)" stroke="rgb(98,99,99)" stroke-width="0.4"/>
<circle cx="4.8" cy="18.0" r="1.31" fill="rgb(170,170,170)" stroke="rgb(98,99,99)" stroke-width="0.4"/>
<circle cx="6.9" cy="10.4" r="1.60" fill="rgb(170,170,170)" stroke="rgb(98,99,99)" stroke-width="0.4"/>
<circle cx="6.3" cy="11.3" r="1.41" fill="rgb(160,160,160)" stroke="rgb(98,99,99)" stroke-width="0.4"/>
<circle cx="9.6" cy="50.3" r="1.60" fill="rgb(170,170,170)" stroke="rgb(98,99,99)" stroke-width="0.4"/>
<circle cx="7.5" cy="41.0" r="1.38" fill="rgb(170,170,170)" stroke="rgb(98,99,99)" stroke-width="0.4"/>
<circle cx="4.9" cy="48.8" r="1.69" fill="rgb(135,135,135)" stroke="rgb(98,99,99)" stroke-width="0.4"/>
<circle cx="17.5" cy="43.3" r="1.39" fill="rgb(160,160,160)" stroke="rgb(98,99,99)" stroke-width="0.4"/>
<circle cx="22.2" cy="40.6" r="1.76" fill="rgb(160,160,160)" stroke="rgb(98,99,99)" stroke-width="0.4"/>
<circle cx="28.9" cy="42.5" r="1.54" fill="rgb(170,170,170)" stroke="rgb(98,99,99)" stroke-width="0.4"/>
<circle cx="26.8" cy="43.0" r="1.41" fill="rgb(170,170,170)" stroke="rgb(98,99,99)" stroke-width="0.4"/>
<circle cx="19.7" cy="43.5" r="1.74" fill="rgb(160,160,160)" stroke="rgb(98,99,99)" stroke-width="0.4"/>
<circle cx="35.0" cy="44.4" r="1.54" fill="rgb(150,150,150)" stroke="rgb(98,99,99)" stroke-width="0.4"/>
<circle cx="35.7" cy="48.8" r="1.41" fill="rgb(150,150,150)" stroke="rgb(98,99,99)" stroke-width="0.4"/>
<circle cx="33.2" cy="44.4" r="1.73" fill="rgb(150,150,150)" stroke="rgb(98,99,99)" stroke-width="0.4"/>
<circle cx="34.2" cy="49.9" r="1.68" fill="rgb(150,150,150)" stroke="rgb(98,99,99)" stroke-width="0.4"/>
<circle cx="27.9" cy="43.7" r="1.35" fill="rgb(150,150,150)" stroke="rgb(98,99,99)" stroke-width="0.4"/>
<circle cx="30.8" cy="44.2" r="1.60" fill="rgb(135,135,135)" stroke="rgb(98,99,99)" stroke-width="0.4"/>
<circle cx="36.0" cy="44.0" r="1.60" fill="rgb(135,135,135)" stroke="rgb(98,99,99)" stroke-width="0.4"/>
<circle cx="-1.8" cy="17.5" r="1.33" fill="rgb(150,150,150)" stroke="rgb(98,99,99)" stroke-width="0.4"/>
<circle cx="3.1" cy="25.3" r="1.51" fill="rgb(160,160,160)" stroke="rgb(98,99,99)" stroke-width="0.4"/>
<circle cx="4.1" cy="21.2" r="1.58" fill="rgb(150,150,150)" stroke="rgb(98,99,99)" stroke-width="0.4"/>
<circle cx="-1.1" cy="17.2" r="1.63" fill="rgb(170,170,170)" stroke="rgb(98,99,99)" stroke-width="0.4"/>
<circle cx="-1.1" cy="21.5" r="1.33" fill="rgb(170,170,170)" stroke="rgb(98,99,99)" stroke-width="0.4"/>
<circle cx="2.8" cy="28.0" r="1.41" fill="rgb(150,150,150)" stroke="rgb(98,99,99)" stroke-width="0.4"/>
<circle cx="-2.1" cy="19.8" r="1.48" fill="rgb(170,170,170)" stroke="rgb(98,99,99)" stroke-width="0.4"/>
<circle cx="42.4" cy="67.5" r="1.30" fill="rgb(170,170,170)" stroke="rgb(98,99,99)" stroke-width="0.4"/>
<circle cx="52.0" cy="63.8" r="1.45" fill="rgb(150,150,150)" stroke="rgb(98,99,99)" stroke-width="0.4"/>
<circle cx="49.5" cy="65.4" r="1.31" fill="rgb(170,170,170)" stroke="rgb(98,99,99)" stroke-width="0.4"/>
<circle cx="43.4" cy="65.4" r="1.51" fill="rgb(160,160,160)" stroke="rgb(98,99,99)" stroke-width="0.4"/>
<circle cx="52.6" cy="25.2" r="1.43" fill="rgb(150,150,150)" stroke="rgb(98,99,99)" stroke-width="0.4"/>
<circle cx="51.1" cy="25.6" r="1.38" fill="rgb(150,150,150)" stroke="rgb(98,99,99)" stroke-width="0.4"/>
<circle cx="52.6" cy="19.1" r="1.53" fill="rgb(160,160,160)" stroke="rgb(98,99,99)" stroke-width="0.4"/>
<circle cx="45.6" cy="53.7" r="1.46" fill="rgb(135,135,135)" stroke="rgb(98,99,99)" stroke-width="0.4"/>
<circle cx="51.5" cy="47.6" r="1.65" fill="rgb(160,160,160)" stroke="rgb(98,99,99)" stroke-width="0.4"/>
<circle cx="51.8" cy="52.3" r="1.51" fill="rgb(135,135,135)" stroke="rgb(98,99,99)" stroke-width="0.4"/>
<circle cx="48.1" cy="50.3" r="1.48" fill="rgb(170,170,170)" stroke="rgb(98,99,99)" stroke-width="0.4"/>
<circle cx="49.4" cy="51.9" r="1.53" fill="rgb(160,160,160)" stroke="rgb(98,99,99)" stroke-width="0.4"/>
<circle cx="47.8" cy="51.0" r="1.44" fill="rgb(170,170,170)" stroke="rgb(98,99,99)" stroke-width="0.4"/>
<circle cx="24.1" cy="-1.7" r="1.45" fill="rgb(150,150,150)" stroke="rgb(98,99,99)" stroke-width="0.4"/>
<circle cx="20.9" cy="11.3" r="1.62" fill="rgb(150,150,150)" stroke="rgb(98,99,99)" stroke-width="0.4"/>
<circle cx="17.4" cy="3.7" r="1.61" fill="rgb(170,170,170)" stroke="rgb(98,99,99)" stroke-width="0.4"/>
<circle cx="13.1" cy="0.9" r="1.56" fill="rgb(170,170,170)" stroke="rgb(98,99,99)" stroke-width="0.4"/>
<circle cx="17.1" cy="4.0" r="1.73" fill="rgb(135,135,135)" stroke="rgb(98,99,99)" stroke-width="0.4"/>
<circle cx="19.4" cy="10.3" r="1.65" fill="rgb(135,135,135)" stroke="rgb(98,99,99)" stroke-width="0.4"/>
<circle cx="17.9" cy="3.7" r="1.35" fill="rgb(160,160,160)" stroke="rgb(98,99,99)" stroke-width="0.4"/>
<circle cx="18.0" cy="6.9" r="1.74" fill="rgb(160,160,160)" stroke="rgb(98,99,99)" stroke-width="0.4"/>
<circle cx="19.4" cy="13.4" r="1.34" fill="rgb(160,160,160)" stroke="rgb(98,99,99)" stroke-width="0.4"/>
<circle cx="16.4" cy="10.8" r="1.57" fill="rgb(170,170,170)" stroke="rgb(98,99,99)" stroke-width="0.4"/>
<circle cx="17.1" cy="10.2" r="1.57" fill="rgb(170,170,170)" stroke="rgb(98,99,99)" stroke-width="0.4"/>
<circle cx="17.6" cy="21.8" r="1.32" fill="rgb(170,170,170)" stroke="rgb(98,99,99)" stroke-width="0.4"/>
<circle cx="13.9" cy="18.6" r="1.56" fill="rgb(150,150,150)" stroke="rgb(98,99,99)" stroke-width="0.4"/>
<circle cx="67.0" cy="-1.6" r="1.57" fill="rgb(150,150,150)" stroke="rgb(98,99,99)" stroke-width="0.4"/>
<circle cx="65.9" cy="-2.4" r="1.31" fill="rgb(160,160,160)" stroke="rgb(98,99,99)" stroke-width="0.4"/>
<circle cx="62.4" cy="6.6" r="1.70" fill="rgb(150,150,150)" stroke="rgb(98,99,99)" stroke-width="0.4"/>
<circle cx="75.5" cy="-5.5" r="1.52" fill="rgb(135,135,135)" stroke="rgb(98,99,99)" stroke-width="0.4"/>
<circle cx="70.6" cy="4.0" r="1.60" fill="rgb(150,150,150)" stroke="rgb(98,99,99)" stroke-width="0.4"/>
<circle cx="68.3" cy="5.1" r="1.59" fill="rgb(160,160,160)" stroke="rgb(98,99,99)" stroke-width="0.4"/>
<circle cx="69.0" cy="6.5" r="1.33" fill="rgb(160,160,160)" stroke="rgb(98,99,99)" stroke-width="0.4"/>
<circle cx="54.8" cy="14.9" r="1.64" fill="rgb(160,160,160)" stroke="rgb(98,99,99)" stroke-width="0.4"/>
<circle cx="56.4" cy="16.3" r="1.77" fill="rgb(170,170,170)" stroke="rgb(98,99,99)" stroke-width="0.4"/>
<circle cx="55.3" cy="21.5" r="1.79" fill="rgb(150,150,150)" stroke="rgb(98,99,99)" stroke-width="0.4"/>
<circle cx="58.3" cy="19.3" r="1.31" fill="rgb(160,160,160)" stroke="rgb(98,99,99)" stroke-width="0.4"/>
<circle cx="57.9" cy="23.6" r="1.60" fill="rgb(160,160,160)" stroke="rgb(98,99,99)" stroke-width="0.4"/>
<circle cx="60.5" cy="18.4" r="1.68" fill="rgb(170,170,170)" stroke="rgb(98,99,99)" stroke-width="0.4"/>
<circle cx="58.0" cy="18.6" r="1.39" fill="rgb(150,150,150)" stroke="rgb(98,99,99)" stroke-width="0.4"/>
<circle cx="67.0" cy="42.2" r="1.79" fill="rgb(160,160,160)" stroke="rgb(98,99,99)" stroke-width="0.4"/>
<circle cx="67.9" cy="38.8" r="1.43" fill="rgb(160,160,160)" stroke="rgb(98,99,99)" stroke-width="0.4"/>
<circle cx="62.9" cy="39.0" r="1.68" fill="rgb(150,150,150)" stroke="rgb(98,99,99)" stroke-width="0.4"/>
<circle cx="66.1" cy="36.6" r="1.47" fill="rgb(160,160,160)" stroke="rgb(98,99,99)" stroke-width="0.4"/>
<circle cx="16.2" cy="64.7" r="1.70" fill="rgb(150,150,150)" stroke="rgb(98,99,99)" stroke-width="0.4"/>
<circle cx="22.5" cy="56.2" r="1.67" fill="rgb(135,135,135)" stroke="rgb(98,99,99)" stroke-width="0.4"/>
<circle cx="24.7" cy="56.3" r="1.62" fill="rgb(170,170,170)" stroke="rgb(98,99,99)" stroke-width="0.4"/>
<circle cx="74.3" cy="59.5" r="1.70" fill="rgb(160,160,160)" stroke="rgb(98,99,99)" stroke-width="0.4"/>
<circle cx="73.7" cy="57.8" r="1.46" fill="rgb(150,150,150)" stroke="rgb(98,99,99)" stroke-width="0.4"/>
<circle cx="76.9" cy="61.0" r="1.61" fill="rgb(150,150,150)" stroke="rgb(98,99,99)" stroke-width="0.4"/>
<circle cx="78.0" cy="59.7" r="1.73" fill="rgb(170,170,170)" stroke="rgb(98,99,99)" stroke-width="0.4"/>
<circle cx="69.5" cy="57.4" r="1.49" fill="rgb(170,170,170)" stroke="rgb(98,99,99)" stroke-width="0.4"/>
<circle cx="69.5" cy="28.4" r="1.49" fill="rgb(160,160,160)" stroke="rgb(98,99,99)" stroke-width="0.4"/>
<circle cx="73.2" cy="28.3" r="1.51" fill="rgb(150,150,150)" stroke="rgb(98,99,99)" stroke-width="0.4"/>
<circle cx="61.7" cy="25.8" r="1.42" fill="rgb(170,170,170)" stroke="rgb(98,99,99)" stroke-width="0.4"/>
<circle cx="67.8" cy="24.5" r="1.44" fill="rgb(160,160,160)" stroke="rgb(98,99,99)" stroke-width="0.4"/>
<circle cx="68.0" cy="28.7" r="1.64" fill="rgb(150,150,150)" stroke="rgb(98,99,99)" stroke-width="0.4"/>
<circle cx="61.4" cy="28.7" r="1.43" fill="rgb(160,160,160)" stroke="rgb(98,99,99)" stroke-width="0.4"/>
<circle cx="9.5" cy="27.9" r="1.49" fill="rgb(150,150,150)" stroke="rgb(98,99,99)" stroke-width="0.4"/>
<circle cx="4.0" cy="26.0" r="1.79" fill="rgb(135,135,135)" stroke="rgb(98,99,99)" stroke-width="0.4"/>
<circle cx="11.3" cy="30.9" r="1.77" fill="rgb(170,170,170)" stroke="rgb(98,99,99)" stroke-width="0.4"/>
<circle cx="-2.5" cy="29.3" r="1.55" fill="rgb(150,150,150)" stroke="rgb(98,99,99)" stroke-width="0.4"/>
<circle cx="6.9" cy="32.0" r="1.51" fill="rgb(135,135,135)" stroke="rgb(98,99,99)" stroke-width="0.4"/>
<circle cx="9.3" cy="31.2" r="1.36" fill="rgb(170,170,170)" stroke="rgb(98,99,99)" stroke-width="0.4"/>
<circle cx="12.4" cy="36.7" r="1.32" fill="rgb(150,150,150)" stroke="rgb(98,99,99)" stroke-width="0.4"/>
<circle cx="13.8" cy="40.1" r="1.48" fill="rgb(170,170,170)" stroke="rgb(98,99,99)" stroke-width="0.4"/>
<circle cx="11.6" cy="40.3" r="1.58" fill="rgb(135,135,135)" stroke="rgb(98,99,99)" stroke-width="0.4"/>
<circle cx="12.5" cy="41.7" r="1.37" fill="rgb(160,160,160)" stroke="rgb(98,99,99)" stroke-width="0.4"/>
<circle cx="19.8" cy="39.9" r="1.40" fill="rgb(150,150,150)" stroke="rgb(98,99,99)" stroke-width="0.4"/>
<circle cx="14.4" cy="18.8" r="1.55" fill="rgb(160,160,160)" stroke="rgb(98,99,99)" stroke-width="0.4"/>
<circle cx="9.9" cy="20.0" r="1.52" fill="rgb(135,135,135)" stroke="rgb(98,99,99)" stroke-width="0.4"/>
<circle cx="22.3" cy="10.5" r="1.66" fill="rgb(150,150,150)" stroke="rgb(98,99,99)" stroke-width="0.4"/>
<circle cx="33.3" cy="61.6" r="1.57" fill="rgb(150,150,150)" stroke="rgb(98,99,99)" stroke-width="0.4"/>
<circle cx="35.4" cy="54.3" r="1.37" fill="rgb(135,135,135)" stroke="rgb(98,99,99)" stroke-width="0.4"/>
<circle cx="42.7" cy="60.3" r="1.53" fill="rgb(135,135,135)" stroke="rgb(98,99,99)" stroke-width="0.4"/>
<circle cx="38.3" cy="59.5" r="1.61" fill="rgb(160,160,160)" stroke="rgb(98,99,99)" stroke-width="0.4"/>
<circle cx="35.4" cy="-4.4" r="1.68" fill="rgb(150,150,150)" stroke="rgb(98,99,99)" stroke-width="0.4"/>
<circle cx="33.9" cy="-0.4" r="1.48" fill="rgb(150,150,150)" stroke="rgb(98,99,99)" stroke-width="0.4"/>
<circle cx="35.8" cy="7.0" r="1.37" fill="rgb(160,160,160)" stroke="rgb(98,99,99)" stroke-width="0.4"/>
<circle cx="73.8" cy="66.0" r="1.61" fill="rgb(150,150,150)" stroke="rgb(98,99,99)" stroke-width="0.4"/>
<circle cx="77.1" cy="60.5" r="1.42" fill="rgb(135,135,135)" stroke="rgb(98,99,99)" stroke-width="0.4"/>
<circle cx="69.1" cy="62.7" r="1.37" fill="rgb(150,150,150)" stroke="rgb(98,99,99)" stroke-width="0.4"/>
<circle cx="66.8" cy="9.0" r="1.37" fill="rgb(170,170,170)" stroke="rgb(98,99,99)" stroke-width="0.4"/>
<circle cx="62.2" cy="15.4" r="1.60" fill="rgb(150,150,150)" stroke="rgb(98,99,99)" stroke-width="0.4"/>
<circle cx="61.9" cy="15.8" r="1.60" fill="rgb(160,160,160)" stroke="rgb(98,99,99)" stroke-width="0.4"/>
<circle cx="27.1" cy="43.2" r="1.44" fill="rgb(160,160,160)" stroke="rgb(98,99,99)" stroke-width="0.4"/>
<circle cx="28.6" cy="49.7" r="1.53" fill="rgb(135,135,135)" stroke="rgb(98,99,99)" stroke-width="0.4"/>
<circle cx="20.6" cy="43.5" r="1.40" fill="rgb(160,160,160)" stroke="rgb(98,99,99)" stroke-width="0.4"/>
<circle cx="20.9" cy="42.2" r="1.34" fill="rgb(135,135,135)" stroke="rgb(98,99,99)" stroke-width="0.4"/>
<circle cx="17.4" cy="46.5" r="1.50" fill="rgb(135,135,135)" stroke="rgb(98,99,99)" stroke-width="0.4"/>
<circle cx="30.3" cy="43.6" r="1.58" fill="rgb(150,150,150)" stroke="rgb(98,99,99)" stroke-width="0.4"/>
<circle cx="4.2" cy="8.5" r="1.49" fill="rgb(135,135,135)" stroke="rgb(98,99,99)" stroke-width="0.4"/>
<circle cx="2.7" cy="12.6" r="1.45" fill="rgb(150,150,150)" stroke="rgb(98,99,99)" stroke-width="0.4"/>
<circle cx="1.0" cy="19.0" r="1.40" fill="rgb(170,170,170)" stroke="rgb(98,99,99)" stroke-width="0.4"/>
<circle cx="6.5" cy="22.9" r="1.77" fill="rgb(135,135,135)" stroke="rgb(98,99,99)" stroke-width="0.4"/>
<circle cx="37.3" cy="72.0" r="1.74" fill="rgb(135,135,135)" stroke="rgb(98,99,99)" stroke-width="0.4"/>
<circle cx="42.3" cy="70.6" r="1.44" fill="rgb(170,170,170)" stroke="rgb(98,99,99)" stroke-width="0.4"/>
<circle cx="39.2" cy="74.0" r="1.77" fill="rgb(160,160,160)" stroke="rgb(98,99,99)" stroke-width="0.4"/>
<circle cx="35.5" cy="78.1" r="1.38" fill="rgb(170,170,170)" stroke="rgb(98,99,99)" stroke-width="0.4"/>
<circle cx="37.9" cy="81.6" r="1.76" fill="rgb(150,150,150)" stroke="rgb(98,99,99)" stroke-width="0.4"/>
<circle cx="11" cy="12" r="3.30" fill="url(#spot)" opacity="0.85"/>
<circle cx="67" cy="11" r="3.30" fill="url(#spot)" opacity="0.85"/>
<circle cx="30" cy="36" r="2.86" fill="url(#spot)" opacity="0.85"/>
<circle cx="47" cy="41" r="3.52" fill="url(#spot)" opacity="0.85"/>
<circle cx="60" cy="38" r="3.08" fill="url(#spot)" opacity="0.85"/>
<circle cx="11" cy="70" r="3.52" fill="url(#spot)" opacity="0.85"/>
<circle cx="57" cy="63" r="3.85" fill="url(#spot)" opacity="0.85"/>
<circle cx="71" cy="20" r="2.86" fill="url(#spot)" opacity="0.85"/>
</svg>
<text x="410.1" y="514.2" font-size="8.8" text-anchor="start" fill="#111" stroke="#111" stroke-width="0.22" >6 h</text>
<svg x="485.3" y="443.1" width="75.2" height="74.8" overflow="hidden">
<rect x="0.00" y="0.00" width="75.20" height="74.80" fill="rgb(113,115,115)" />
<circle cx="67.5" cy="5.6" r="1.46" fill="rgb(150,150,150)" stroke="rgb(98,99,99)" stroke-width="0.4"/>
<circle cx="69.9" cy="3.0" r="1.75" fill="rgb(150,150,150)" stroke="rgb(98,99,99)" stroke-width="0.4"/>
<circle cx="67.8" cy="-1.9" r="1.33" fill="rgb(170,170,170)" stroke="rgb(98,99,99)" stroke-width="0.4"/>
<circle cx="63.4" cy="-2.0" r="1.76" fill="rgb(135,135,135)" stroke="rgb(98,99,99)" stroke-width="0.4"/>
<circle cx="66.8" cy="5.3" r="1.50" fill="rgb(150,150,150)" stroke="rgb(98,99,99)" stroke-width="0.4"/>
<circle cx="44.1" cy="6.6" r="1.60" fill="rgb(135,135,135)" stroke="rgb(98,99,99)" stroke-width="0.4"/>
<circle cx="35.0" cy="3.6" r="1.34" fill="rgb(160,160,160)" stroke="rgb(98,99,99)" stroke-width="0.4"/>
<circle cx="45.6" cy="6.3" r="1.50" fill="rgb(170,170,170)" stroke="rgb(98,99,99)" stroke-width="0.4"/>
<circle cx="51.9" cy="0.7" r="1.52" fill="rgb(135,135,135)" stroke="rgb(98,99,99)" stroke-width="0.4"/>
<circle cx="44.6" cy="4.7" r="1.33" fill="rgb(150,150,150)" stroke="rgb(98,99,99)" stroke-width="0.4"/>
<circle cx="43.8" cy="8.5" r="1.45" fill="rgb(170,170,170)" stroke="rgb(98,99,99)" stroke-width="0.4"/>
<circle cx="31.2" cy="37.2" r="1.57" fill="rgb(135,135,135)" stroke="rgb(98,99,99)" stroke-width="0.4"/>
<circle cx="26.1" cy="44.0" r="1.76" fill="rgb(170,170,170)" stroke="rgb(98,99,99)" stroke-width="0.4"/>
<circle cx="32.6" cy="50.6" r="1.48" fill="rgb(135,135,135)" stroke="rgb(98,99,99)" stroke-width="0.4"/>
<circle cx="28.2" cy="44.0" r="1.64" fill="rgb(170,170,170)" stroke="rgb(98,99,99)" stroke-width="0.4"/>
<circle cx="50.0" cy="67.8" r="1.59" fill="rgb(135,135,135)" stroke="rgb(98,99,99)" stroke-width="0.4"/>
<circle cx="49.4" cy="62.4" r="1.35" fill="rgb(150,150,150)" stroke="rgb(98,99,99)" stroke-width="0.4"/>
<circle cx="51.6" cy="62.6" r="1.30" fill="rgb(170,170,170)" stroke="rgb(98,99,99)" stroke-width="0.4"/>
<circle cx="45.9" cy="28.9" r="1.38" fill="rgb(160,160,160)" stroke="rgb(98,99,99)" stroke-width="0.4"/>
<circle cx="38.4" cy="21.8" r="1.31" fill="rgb(135,135,135)" stroke="rgb(98,99,99)" stroke-width="0.4"/>
<circle cx="37.8" cy="26.2" r="1.60" fill="rgb(150,150,150)" stroke="rgb(98,99,99)" stroke-width="0.4"/>
<circle cx="2.7" cy="30.2" r="1.48" fill="rgb(135,135,135)" stroke="rgb(98,99,99)" stroke-width="0.4"/>
<circle cx="-1.8" cy="33.2" r="1.57" fill="rgb(160,160,160)" stroke="rgb(98,99,99)" stroke-width="0.4"/>
<circle cx="0.7" cy="29.8" r="1.31" fill="rgb(150,150,150)" stroke="rgb(98,99,99)" stroke-width="0.4"/>
<circle cx="-0.4" cy="31.3" r="1.50" fill="rgb(135,135,135)" stroke="rgb(98,99,99)" stroke-width="0.4"/>
<circle cx="53.6" cy="56.6" r="1.35" fill="rgb(135,135,135)" stroke="rgb(98,99,99)" stroke-width="0.4"/>
<circle cx="56.3" cy="49.5" r="1.68" fill="rgb(135,135,135)" stroke="rgb(98,99,99)" stroke-width="0.4"/>
<circle cx="55.8" cy="63.1" r="1.70" fill="rgb(160,160,160)" stroke="rgb(98,99,99)" stroke-width="0.4"/>
<circle cx="54.9" cy="59.2" r="1.64" fill="rgb(135,135,135)" stroke="rgb(98,99,99)" stroke-width="0.4"/>
<circle cx="52.5" cy="59.6" r="1.78" fill="rgb(150,150,150)" stroke="rgb(98,99,99)" stroke-width="0.4"/>
<circle cx="53.9" cy="53.9" r="1.72" fill="rgb(150,150,150)" stroke="rgb(98,99,99)" stroke-width="0.4"/>
<circle cx="50.2" cy="50.3" r="1.60" fill="rgb(160,160,160)" stroke="rgb(98,99,99)" stroke-width="0.4"/>
<circle cx="7.8" cy="11.4" r="1.49" fill="rgb(160,160,160)" stroke="rgb(98,99,99)" stroke-width="0.4"/>
<circle cx="4.3" cy="10.0" r="1.75" fill="rgb(170,170,170)" stroke="rgb(98,99,99)" stroke-width="0.4"/>
<circle cx="-2.0" cy="9.2" r="1.37" fill="rgb(135,135,135)" stroke="rgb(98,99,99)" stroke-width="0.4"/>
<circle cx="69.2" cy="4.5" r="1.36" fill="rgb(170,170,170)" stroke="rgb(98,99,99)" stroke-width="0.4"/>
<circle cx="64.9" cy="0.8" r="1.71" fill="rgb(135,135,135)" stroke="rgb(98,99,99)" stroke-width="0.4"/>
<circle cx="72.5" cy="7.0" r="1.30" fill="rgb(160,160,160)" stroke="rgb(98,99,99)" stroke-width="0.4"/>
<circle cx="10.0" cy="50.7" r="1.75" fill="rgb(135,135,135)" stroke="rgb(98,99,99)" stroke-width="0.4"/>
<circle cx="5.0" cy="49.7" r="1.74" fill="rgb(170,170,170)" stroke="rgb(98,99,99)" stroke-width="0.4"/>
<circle cx="2.5" cy="54.6" r="1.78" fill="rgb(135,135,135)" stroke="rgb(98,99,99)" stroke-width="0.4"/>
<circle cx="7.1" cy="53.6" r="1.65" fill="rgb(150,150,150)" stroke="rgb(98,99,99)" stroke-width="0.4"/>
<circle cx="4.0" cy="51.6" r="1.59" fill="rgb(150,150,150)" stroke="rgb(98,99,99)" stroke-width="0.4"/>
<circle cx="32.9" cy="21.5" r="1.32" fill="rgb(135,135,135)" stroke="rgb(98,99,99)" stroke-width="0.4"/>
<circle cx="30.7" cy="21.8" r="1.42" fill="rgb(160,160,160)" stroke="rgb(98,99,99)" stroke-width="0.4"/>
<circle cx="30.0" cy="18.9" r="1.35" fill="rgb(135,135,135)" stroke="rgb(98,99,99)" stroke-width="0.4"/>
<circle cx="32.2" cy="21.3" r="1.77" fill="rgb(150,150,150)" stroke="rgb(98,99,99)" stroke-width="0.4"/>
<circle cx="36.6" cy="24.9" r="1.70" fill="rgb(160,160,160)" stroke="rgb(98,99,99)" stroke-width="0.4"/>
<circle cx="29.0" cy="11.7" r="1.44" fill="rgb(150,150,150)" stroke="rgb(98,99,99)" stroke-width="0.4"/>
<circle cx="56.8" cy="19.4" r="1.39" fill="rgb(135,135,135)" stroke="rgb(98,99,99)" stroke-width="0.4"/>
<circle cx="58.0" cy="30.5" r="1.51" fill="rgb(135,135,135)" stroke="rgb(98,99,99)" stroke-width="0.4"/>
<circle cx="56.4" cy="14.3" r="1.56" fill="rgb(160,160,160)" stroke="rgb(98,99,99)" stroke-width="0.4"/>
<circle cx="56.8" cy="15.4" r="1.60" fill="rgb(150,150,150)" stroke="rgb(98,99,99)" stroke-width="0.4"/>
<circle cx="61.1" cy="22.5" r="1.77" fill="rgb(160,160,160)" stroke="rgb(98,99,99)" stroke-width="0.4"/>
<circle cx="58.3" cy="17.6" r="1.65" fill="rgb(160,160,160)" stroke="rgb(98,99,99)" stroke-width="0.4"/>
<circle cx="74.5" cy="74.3" r="1.53" fill="rgb(135,135,135)" stroke="rgb(98,99,99)" stroke-width="0.4"/>
<circle cx="67.6" cy="67.7" r="1.60" fill="rgb(170,170,170)" stroke="rgb(98,99,99)" stroke-width="0.4"/>
<circle cx="69.6" cy="72.3" r="1.63" fill="rgb(170,170,170)" stroke="rgb(98,99,99)" stroke-width="0.4"/>
<circle cx="67.4" cy="76.7" r="1.46" fill="rgb(150,150,150)" stroke="rgb(98,99,99)" stroke-width="0.4"/>
<circle cx="72.5" cy="71.8" r="1.36" fill="rgb(160,160,160)" stroke="rgb(98,99,99)" stroke-width="0.4"/>
<circle cx="75.4" cy="68.7" r="1.80" fill="rgb(150,150,150)" stroke="rgb(98,99,99)" stroke-width="0.4"/>
<circle cx="8.1" cy="9.4" r="1.63" fill="rgb(150,150,150)" stroke="rgb(98,99,99)" stroke-width="0.4"/>
<circle cx="8.8" cy="12.1" r="1.42" fill="rgb(150,150,150)" stroke="rgb(98,99,99)" stroke-width="0.4"/>
<circle cx="12.8" cy="9.8" r="1.75" fill="rgb(170,170,170)" stroke="rgb(98,99,99)" stroke-width="0.4"/>
<circle cx="4.0" cy="51.1" r="1.57" fill="rgb(135,135,135)" stroke="rgb(98,99,99)" stroke-width="0.4"/>
<circle cx="8.6" cy="53.9" r="1.78" fill="rgb(135,135,135)" stroke="rgb(98,99,99)" stroke-width="0.4"/>
<circle cx="-3.7" cy="54.1" r="1.36" fill="rgb(170,170,170)" stroke="rgb(98,99,99)" stroke-width="0.4"/>
<circle cx="4.3" cy="50.4" r="1.68" fill="rgb(170,170,170)" stroke="rgb(98,99,99)" stroke-width="0.4"/>
<circle cx="8.2" cy="54.1" r="1.78" fill="rgb(170,170,170)" stroke="rgb(98,99,99)" stroke-width="0.4"/>
<circle cx="0.7" cy="53.3" r="1.67" fill="rgb(160,160,160)" stroke="rgb(98,99,99)" stroke-width="0.4"/>
<circle cx="67.2" cy="16.6" r="1.37" fill="rgb(160,160,160)" stroke="rgb(98,99,99)" stroke-width="0.4"/>
<circle cx="66.8" cy="16.2" r="1.39" fill="rgb(150,150,150)" stroke="rgb(98,99,99)" stroke-width="0.4"/>
<circle cx="72.3" cy="16.9" r="1.78" fill="rgb(135,135,135)" stroke="rgb(98,99,99)" stroke-width="0.4"/>
<circle cx="70.5" cy="79.6" r="1.72" fill="rgb(170,170,170)" stroke="rgb(98,99,99)" stroke-width="0.4"/>
<circle cx="65.6" cy="72.5" r="1.58" fill="rgb(150,150,150)" stroke="rgb(98,99,99)" stroke-width="0.4"/>
<circle cx="69.5" cy="75.0" r="1.74" fill="rgb(150,150,150)" stroke="rgb(98,99,99)" stroke-width="0.4"/>
<circle cx="62.9" cy="72.1" r="1.32" fill="rgb(150,150,150)" stroke="rgb(98,99,99)" stroke-width="0.4"/>
<circle cx="67.7" cy="71.3" r="1.56" fill="rgb(135,135,135)" stroke="rgb(98,99,99)" stroke-width="0.4"/>
<circle cx="70.2" cy="78.1" r="1.32" fill="rgb(135,135,135)" stroke="rgb(98,99,99)" stroke-width="0.4"/>
<circle cx="75.6" cy="66.8" r="1.73" fill="rgb(160,160,160)" stroke="rgb(98,99,99)" stroke-width="0.4"/>
<circle cx="18.6" cy="5.9" r="1.63" fill="rgb(135,135,135)" stroke="rgb(98,99,99)" stroke-width="0.4"/>
<circle cx="18.7" cy="1.0" r="1.48" fill="rgb(150,150,150)" stroke="rgb(98,99,99)" stroke-width="0.4"/>
<circle cx="14.8" cy="2.1" r="1.68" fill="rgb(135,135,135)" stroke="rgb(98,99,99)" stroke-width="0.4"/>
<circle cx="15.4" cy="6.3" r="1.66" fill="rgb(135,135,135)" stroke="rgb(98,99,99)" stroke-width="0.4"/>
<circle cx="21.6" cy="3.9" r="1.53" fill="rgb(160,160,160)" stroke="rgb(98,99,99)" stroke-width="0.4"/>
<circle cx="20.6" cy="8.6" r="1.37" fill="rgb(135,135,135)" stroke="rgb(98,99,99)" stroke-width="0.4"/>
<circle cx="12.9" cy="1.9" r="1.64" fill="rgb(150,150,150)" stroke="rgb(98,99,99)" stroke-width="0.4"/>
<circle cx="53.7" cy="48.3" r="1.38" fill="rgb(135,135,135)" stroke="rgb(98,99,99)" stroke-width="0.4"/>
<circle cx="55.4" cy="48.1" r="1.76" fill="rgb(160,160,160)" stroke="rgb(98,99,99)" stroke-width="0.4"/>
<circle cx="54.5" cy="49.3" r="1.37" fill="rgb(135,135,135)" stroke="rgb(98,99,99)" stroke-width="0.4"/>
<circle cx="55.9" cy="48.1" r="1.71" fill="rgb(160,160,160)" stroke="rgb(98,99,99)" stroke-width="0.4"/>
<circle cx="61.5" cy="40.4" r="1.64" fill="rgb(150,150,150)" stroke="rgb(98,99,99)" stroke-width="0.4"/>
<circle cx="54.9" cy="39.5" r="1.64" fill="rgb(160,160,160)" stroke="rgb(98,99,99)" stroke-width="0.4"/>
<circle cx="25.6" cy="51.1" r="1.67" fill="rgb(160,160,160)" stroke="rgb(98,99,99)" stroke-width="0.4"/>
<circle cx="31.2" cy="47.7" r="1.48" fill="rgb(170,170,170)" stroke="rgb(98,99,99)" stroke-width="0.4"/>
<circle cx="33.0" cy="45.6" r="1.62" fill="rgb(170,170,170)" stroke="rgb(98,99,99)" stroke-width="0.4"/>
<circle cx="25.5" cy="44.0" r="1.63" fill="rgb(150,150,150)" stroke="rgb(98,99,99)" stroke-width="0.4"/>
<circle cx="33.3" cy="47.5" r="1.72" fill="rgb(150,150,150)" stroke="rgb(98,99,99)" stroke-width="0.4"/>
<circle cx="48.4" cy="47.0" r="1.63" fill="rgb(135,135,135)" stroke="rgb(98,99,99)" stroke-width="0.4"/>
<circle cx="45.0" cy="43.1" r="1.70" fill="rgb(135,135,135)" stroke="rgb(98,99,99)" stroke-width="0.4"/>
<circle cx="48.2" cy="42.7" r="1.53" fill="rgb(150,150,150)" stroke="rgb(98,99,99)" stroke-width="0.4"/>
<circle cx="44.8" cy="41.2" r="1.60" fill="rgb(160,160,160)" stroke="rgb(98,99,99)" stroke-width="0.4"/>
<circle cx="47.2" cy="39.1" r="1.73" fill="rgb(170,170,170)" stroke="rgb(98,99,99)" stroke-width="0.4"/>
<circle cx="43.3" cy="35.1" r="1.48" fill="rgb(150,150,150)" stroke="rgb(98,99,99)" stroke-width="0.4"/>
<circle cx="23.3" cy="15.0" r="1.62" fill="rgb(170,170,170)" stroke="rgb(98,99,99)" stroke-width="0.4"/>
<circle cx="24.5" cy="9.9" r="1.61" fill="rgb(135,135,135)" stroke="rgb(98,99,99)" stroke-width="0.4"/>
<circle cx="24.7" cy="18.2" r="1.60" fill="rgb(150,150,150)" stroke="rgb(98,99,99)" stroke-width="0.4"/>
<circle cx="33.8" cy="25.4" r="1.69" fill="rgb(160,160,160)" stroke="rgb(98,99,99)" stroke-width="0.4"/>
<circle cx="39.9" cy="23.3" r="1.53" fill="rgb(135,135,135)" stroke="rgb(98,99,99)" stroke-width="0.4"/>
<circle cx="42.9" cy="20.5" r="1.65" fill="rgb(170,170,170)" stroke="rgb(98,99,99)" stroke-width="0.4"/>
<circle cx="35.1" cy="23.0" r="1.76" fill="rgb(150,150,150)" stroke="rgb(98,99,99)" stroke-width="0.4"/>
<circle cx="37.2" cy="22.4" r="1.80" fill="rgb(135,135,135)" stroke="rgb(98,99,99)" stroke-width="0.4"/>
<circle cx="35.2" cy="23.3" r="1.46" fill="rgb(150,150,150)" stroke="rgb(98,99,99)" stroke-width="0.4"/>
<circle cx="39.7" cy="25.8" r="1.65" fill="rgb(150,150,150)" stroke="rgb(98,99,99)" stroke-width="0.4"/>
<circle cx="10.9" cy="77.0" r="1.59" fill="rgb(135,135,135)" stroke="rgb(98,99,99)" stroke-width="0.4"/>
<circle cx="15.1" cy="76.0" r="1.67" fill="rgb(150,150,150)" stroke="rgb(98,99,99)" stroke-width="0.4"/>
<circle cx="13.6" cy="74.6" r="1.60" fill="rgb(135,135,135)" stroke="rgb(98,99,99)" stroke-width="0.4"/>
<circle cx="11.1" cy="75.8" r="1.48" fill="rgb(150,150,150)" stroke="rgb(98,99,99)" stroke-width="0.4"/>
<circle cx="4.7" cy="73.3" r="1.47" fill="rgb(160,160,160)" stroke="rgb(98,99,99)" stroke-width="0.4"/>
<circle cx="13.7" cy="68.8" r="1.59" fill="rgb(170,170,170)" stroke="rgb(98,99,99)" stroke-width="0.4"/>
<circle cx="15.5" cy="71.3" r="1.41" fill="rgb(150,150,150)" stroke="rgb(98,99,99)" stroke-width="0.4"/>
<circle cx="63.4" cy="58.3" r="1.56" fill="rgb(135,135,135)" stroke="rgb(98,99,99)" stroke-width="0.4"/>
<circle cx="63.8" cy="57.8" r="1.75" fill="rgb(170,170,170)" stroke="rgb(98,99,99)" stroke-width="0.4"/>
<circle cx="64.7" cy="56.5" r="1.47" fill="rgb(170,170,170)" stroke="rgb(98,99,99)" stroke-width="0.4"/>
<circle cx="58.1" cy="58.7" r="1.65" fill="rgb(170,170,170)" stroke="rgb(98,99,99)" stroke-width="0.4"/>
<circle cx="59.2" cy="56.1" r="1.33" fill="rgb(170,170,170)" stroke="rgb(98,99,99)" stroke-width="0.4"/>
<circle cx="62.3" cy="54.1" r="1.75" fill="rgb(160,160,160)" stroke="rgb(98,99,99)" stroke-width="0.4"/>
<circle cx="60.2" cy="60.3" r="1.73" fill="rgb(135,135,135)" stroke="rgb(98,99,99)" stroke-width="0.4"/>
<circle cx="65.6" cy="58.7" r="1.33" fill="rgb(160,160,160)" stroke="rgb(98,99,99)" stroke-width="0.4"/>
<circle cx="60.7" cy="64.2" r="1.42" fill="rgb(150,150,150)" stroke="rgb(98,99,99)" stroke-width="0.4"/>
<circle cx="46.5" cy="58.9" r="1.72" fill="rgb(160,160,160)" stroke="rgb(98,99,99)" stroke-width="0.4"/>
<circle cx="51.3" cy="60.5" r="1.71" fill="rgb(150,150,150)" stroke="rgb(98,99,99)" stroke-width="0.4"/>
<circle cx="49.9" cy="62.0" r="1.61" fill="rgb(135,135,135)" stroke="rgb(98,99,99)" stroke-width="0.4"/>
<circle cx="51.7" cy="57.9" r="1.37" fill="rgb(170,170,170)" stroke="rgb(98,99,99)" stroke-width="0.4"/>
<circle cx="6.0" cy="40.4" r="1.56" fill="rgb(170,170,170)" stroke="rgb(98,99,99)" stroke-width="0.4"/>
<circle cx="16.0" cy="44.8" r="1.33" fill="rgb(135,135,135)" stroke="rgb(98,99,99)" stroke-width="0.4"/>
<circle cx="12.1" cy="37.0" r="1.49" fill="rgb(150,150,150)" stroke="rgb(98,99,99)" stroke-width="0.4"/>
<circle cx="12.8" cy="36.7" r="1.67" fill="rgb(150,150,150)" stroke="rgb(98,99,99)" stroke-width="0.4"/>
<circle cx="12.8" cy="33.1" r="1.43" fill="rgb(160,160,160)" stroke="rgb(98,99,99)" stroke-width="0.4"/>
<circle cx="10.2" cy="40.0" r="1.39" fill="rgb(135,135,135)" stroke="rgb(98,99,99)" stroke-width="0.4"/>
<circle cx="12.8" cy="37.2" r="1.60" fill="rgb(170,170,170)" stroke="rgb(98,99,99)" stroke-width="0.4"/>
<circle cx="35.5" cy="66.0" r="1.72" fill="rgb(160,160,160)" stroke="rgb(98,99,99)" stroke-width="0.4"/>
<circle cx="34.4" cy="70.5" r="1.74" fill="rgb(170,170,170)" stroke="rgb(98,99,99)" stroke-width="0.4"/>
<circle cx="32.4" cy="73.2" r="1.75" fill="rgb(170,170,170)" stroke="rgb(98,99,99)" stroke-width="0.4"/>
<circle cx="54.9" cy="57.8" r="1.34" fill="rgb(150,150,150)" stroke="rgb(98,99,99)" stroke-width="0.4"/>
<circle cx="55.2" cy="51.9" r="1.54" fill="rgb(160,160,160)" stroke="rgb(98,99,99)" stroke-width="0.4"/>
<circle cx="45.5" cy="57.7" r="1.41" fill="rgb(150,150,150)" stroke="rgb(98,99,99)" stroke-width="0.4"/>
<circle cx="60.8" cy="51.5" r="1.71" fill="rgb(160,160,160)" stroke="rgb(98,99,99)" stroke-width="0.4"/>
<circle cx="53.5" cy="56.1" r="1.33" fill="rgb(135,135,135)" stroke="rgb(98,99,99)" stroke-width="0.4"/>
<circle cx="49.7" cy="57.3" r="1.73" fill="rgb(135,135,135)" stroke="rgb(98,99,99)" stroke-width="0.4"/>
<circle cx="68.6" cy="39.0" r="1.31" fill="rgb(170,170,170)" stroke="rgb(98,99,99)" stroke-width="0.4"/>
<circle cx="69.0" cy="42.3" r="1.32" fill="rgb(150,150,150)" stroke="rgb(98,99,99)" stroke-width="0.4"/>
<circle cx="70.1" cy="42.8" r="1.76" fill="rgb(150,150,150)" stroke="rgb(98,99,99)" stroke-width="0.4"/>
<circle cx="70.1" cy="40.0" r="1.46" fill="rgb(160,160,160)" stroke="rgb(98,99,99)" stroke-width="0.4"/>
<circle cx="67.9" cy="36.7" r="1.65" fill="rgb(170,170,170)" stroke="rgb(98,99,99)" stroke-width="0.4"/>
<circle cx="68.7" cy="43.1" r="1.66" fill="rgb(160,160,160)" stroke="rgb(98,99,99)" stroke-width="0.4"/>
<circle cx="28.2" cy="39.2" r="1.51" fill="rgb(170,170,170)" stroke="rgb(98,99,99)" stroke-width="0.4"/>
<circle cx="27.8" cy="32.4" r="1.73" fill="rgb(170,170,170)" stroke="rgb(98,99,99)" stroke-width="0.4"/>
<circle cx="22.8" cy="35.9" r="1.47" fill="rgb(135,135,135)" stroke="rgb(98,99,99)" stroke-width="0.4"/>
<circle cx="31.3" cy="36.8" r="1.48" fill="rgb(160,160,160)" stroke="rgb(98,99,99)" stroke-width="0.4"/>
<circle cx="-2.8" cy="37.7" r="1.76" fill="rgb(150,150,150)" stroke="rgb(98,99,99)" stroke-width="0.4"/>
<circle cx="2.8" cy="42.9" r="1.78" fill="rgb(135,135,135)" stroke="rgb(98,99,99)" stroke-width="0.4"/>
<circle cx="7.5" cy="34.3" r="1.33" fill="rgb(160,160,160)" stroke="rgb(98,99,99)" stroke-width="0.4"/>
<circle cx="74.0" cy="67.7" r="1.75" fill="rgb(170,170,170)" stroke="rgb(98,99,99)" stroke-width="0.4"/>
<circle cx="74.4" cy="69.1" r="1.61" fill="rgb(170,170,170)" stroke="rgb(98,99,99)" stroke-width="0.4"/>
<circle cx="64.8" cy="72.1" r="1.44" fill="rgb(150,150,150)" stroke="rgb(98,99,99)" stroke-width="0.4"/>
<circle cx="76.3" cy="72.3" r="1.41" fill="rgb(160,160,160)" stroke="rgb(98,99,99)" stroke-width="0.4"/>
<circle cx="8" cy="14" r="3.30" fill="url(#spot)" opacity="0.85"/>
<circle cx="30" cy="55" r="3.08" fill="url(#spot)" opacity="0.85"/>
<circle cx="50" cy="42" r="3.30" fill="url(#spot)" opacity="0.85"/>
<circle cx="64" cy="38" r="2.86" fill="url(#spot)" opacity="0.85"/>
<circle cx="22" cy="33" r="2.86" fill="url(#spot)" opacity="0.85"/>
<circle cx="55" cy="65" r="3.85" fill="url(#spot)" opacity="0.85"/>
<circle cx="14" cy="70" r="3.30" fill="url(#spot)" opacity="0.85"/>
<circle cx="70" cy="28" r="3.30" fill="url(#spot)" opacity="0.85"/>
<circle cx="37" cy="7" r="2.75" fill="url(#spot)" opacity="0.85"/>
<circle cx="46" cy="30" r="2.75" fill="url(#spot)" opacity="0.85"/>
</svg>
<text x="488.7" y="514.2" font-size="8.8" text-anchor="start" fill="#111" stroke="#111" stroke-width="0.22" >8 h</text>
<svg x="564.8" y="443.1" width="75.2" height="74.8" overflow="hidden">
<rect x="0.00" y="0.00" width="75.20" height="74.80" fill="rgb(113,115,115)" />
<circle cx="60.8" cy="13.6" r="1.33" fill="rgb(170,170,170)" stroke="rgb(98,99,99)" stroke-width="0.4"/>
<circle cx="66.6" cy="11.0" r="1.72" fill="rgb(160,160,160)" stroke="rgb(98,99,99)" stroke-width="0.4"/>
<circle cx="65.8" cy="8.1" r="1.69" fill="rgb(150,150,150)" stroke="rgb(98,99,99)" stroke-width="0.4"/>
<circle cx="64.4" cy="12.5" r="1.70" fill="rgb(170,170,170)" stroke="rgb(98,99,99)" stroke-width="0.4"/>
<circle cx="58.2" cy="7.4" r="1.56" fill="rgb(160,160,160)" stroke="rgb(98,99,99)" stroke-width="0.4"/>
<circle cx="68.9" cy="13.6" r="1.53" fill="rgb(170,170,170)" stroke="rgb(98,99,99)" stroke-width="0.4"/>
<circle cx="64.3" cy="17.3" r="1.74" fill="rgb(150,150,150)" stroke="rgb(98,99,99)" stroke-width="0.4"/>
<circle cx="61.5" cy="58.4" r="1.42" fill="rgb(135,135,135)" stroke="rgb(98,99,99)" stroke-width="0.4"/>
<circle cx="61.0" cy="54.4" r="1.66" fill="rgb(135,135,135)" stroke="rgb(98,99,99)" stroke-width="0.4"/>
<circle cx="63.5" cy="58.4" r="1.56" fill="rgb(170,170,170)" stroke="rgb(98,99,99)" stroke-width="0.4"/>
<circle cx="65.6" cy="48.2" r="1.58" fill="rgb(150,150,150)" stroke="rgb(98,99,99)" stroke-width="0.4"/>
<circle cx="24.1" cy="12.9" r="1.55" fill="rgb(170,170,170)" stroke="rgb(98,99,99)" stroke-width="0.4"/>
<circle cx="21.0" cy="7.6" r="1.68" fill="rgb(135,135,135)" stroke="rgb(98,99,99)" stroke-width="0.4"/>
<circle cx="24.4" cy="15.2" r="1.77" fill="rgb(135,135,135)" stroke="rgb(98,99,99)" stroke-width="0.4"/>
<circle cx="21.5" cy="66.3" r="1.34" fill="rgb(170,170,170)" stroke="rgb(98,99,99)" stroke-width="0.4"/>
<circle cx="21.5" cy="65.1" r="1.38" fill="rgb(150,150,150)" stroke="rgb(98,99,99)" stroke-width="0.4"/>
<circle cx="18.9" cy="61.3" r="1.50" fill="rgb(160,160,160)" stroke="rgb(98,99,99)" stroke-width="0.4"/>
<circle cx="19.1" cy="61.5" r="1.67" fill="rgb(160,160,160)" stroke="rgb(98,99,99)" stroke-width="0.4"/>
<circle cx="26.3" cy="58.3" r="1.75" fill="rgb(170,170,170)" stroke="rgb(98,99,99)" stroke-width="0.4"/>
<circle cx="29.8" cy="63.1" r="1.48" fill="rgb(150,150,150)" stroke="rgb(98,99,99)" stroke-width="0.4"/>
<circle cx="32.1" cy="62.4" r="1.68" fill="rgb(135,135,135)" stroke="rgb(98,99,99)" stroke-width="0.4"/>
<circle cx="75.3" cy="19.6" r="1.63" fill="rgb(150,150,150)" stroke="rgb(98,99,99)" stroke-width="0.4"/>
<circle cx="70.4" cy="9.2" r="1.57" fill="rgb(135,135,135)" stroke="rgb(98,99,99)" stroke-width="0.4"/>
<circle cx="76.3" cy="6.0" r="1.33" fill="rgb(160,160,160)" stroke="rgb(98,99,99)" stroke-width="0.4"/>
<circle cx="78.3" cy="10.9" r="1.31" fill="rgb(160,160,160)" stroke="rgb(98,99,99)" stroke-width="0.4"/>
<circle cx="68.2" cy="10.6" r="1.53" fill="rgb(150,150,150)" stroke="rgb(98,99,99)" stroke-width="0.4"/>
<circle cx="72.6" cy="9.4" r="1.70" fill="rgb(160,160,160)" stroke="rgb(98,99,99)" stroke-width="0.4"/>
<circle cx="73.9" cy="18.0" r="1.56" fill="rgb(160,160,160)" stroke="rgb(98,99,99)" stroke-width="0.4"/>
<circle cx="74.9" cy="18.7" r="1.41" fill="rgb(160,160,160)" stroke="rgb(98,99,99)" stroke-width="0.4"/>
<circle cx="52.8" cy="49.7" r="1.44" fill="rgb(135,135,135)" stroke="rgb(98,99,99)" stroke-width="0.4"/>
<circle cx="63.3" cy="45.6" r="1.53" fill="rgb(135,135,135)" stroke="rgb(98,99,99)" stroke-width="0.4"/>
<circle cx="63.1" cy="45.7" r="1.51" fill="rgb(170,170,170)" stroke="rgb(98,99,99)" stroke-width="0.4"/>
<circle cx="72.2" cy="37.4" r="1.74" fill="rgb(150,150,150)" stroke="rgb(98,99,99)" stroke-width="0.4"/>
<circle cx="56.6" cy="42.7" r="1.71" fill="rgb(160,160,160)" stroke="rgb(98,99,99)" stroke-width="0.4"/>
<circle cx="57.1" cy="46.4" r="1.59" fill="rgb(150,150,150)" stroke="rgb(98,99,99)" stroke-width="0.4"/>
<circle cx="36.6" cy="41.5" r="1.63" fill="rgb(160,160,160)" stroke="rgb(98,99,99)" stroke-width="0.4"/>
<circle cx="31.5" cy="47.9" r="1.62" fill="rgb(160,160,160)" stroke="rgb(98,99,99)" stroke-width="0.4"/>
<circle cx="42.6" cy="41.6" r="1.57" fill="rgb(170,170,170)" stroke="rgb(98,99,99)" stroke-width="0.4"/>
<circle cx="40.1" cy="45.0" r="1.51" fill="rgb(160,160,160)" stroke="rgb(98,99,99)" stroke-width="0.4"/>
<circle cx="15.9" cy="5.9" r="1.39" fill="rgb(150,150,150)" stroke="rgb(98,99,99)" stroke-width="0.4"/>
<circle cx="25.1" cy="7.8" r="1.74" fill="rgb(170,170,170)" stroke="rgb(98,99,99)" stroke-width="0.4"/>
<circle cx="32.1" cy="-2.7" r="1.53" fill="rgb(135,135,135)" stroke="rgb(98,99,99)" stroke-width="0.4"/>
<circle cx="26.3" cy="-3.0" r="1.33" fill="rgb(150,150,150)" stroke="rgb(98,99,99)" stroke-width="0.4"/>
<circle cx="28.4" cy="2.9" r="1.68" fill="rgb(135,135,135)" stroke="rgb(98,99,99)" stroke-width="0.4"/>
<circle cx="25.0" cy="3.4" r="1.52" fill="rgb(135,135,135)" stroke="rgb(98,99,99)" stroke-width="0.4"/>
<circle cx="47.6" cy="68.2" r="1.56" fill="rgb(170,170,170)" stroke="rgb(98,99,99)" stroke-width="0.4"/>
<circle cx="47.6" cy="70.5" r="1.46" fill="rgb(170,170,170)" stroke="rgb(98,99,99)" stroke-width="0.4"/>
<circle cx="56.8" cy="71.0" r="1.51" fill="rgb(135,135,135)" stroke="rgb(98,99,99)" stroke-width="0.4"/>
<circle cx="48.5" cy="71.5" r="1.48" fill="rgb(150,150,150)" stroke="rgb(98,99,99)" stroke-width="0.4"/>
<circle cx="53.8" cy="73.0" r="1.70" fill="rgb(135,135,135)" stroke="rgb(98,99,99)" stroke-width="0.4"/>
<circle cx="44.7" cy="71.1" r="1.57" fill="rgb(160,160,160)" stroke="rgb(98,99,99)" stroke-width="0.4"/>
<circle cx="52.6" cy="70.7" r="1.34" fill="rgb(150,150,150)" stroke="rgb(98,99,99)" stroke-width="0.4"/>
<circle cx="46.4" cy="59.7" r="1.70" fill="rgb(170,170,170)" stroke="rgb(98,99,99)" stroke-width="0.4"/>
<circle cx="41.7" cy="61.3" r="1.70" fill="rgb(160,160,160)" stroke="rgb(98,99,99)" stroke-width="0.4"/>
<circle cx="48.0" cy="62.6" r="1.33" fill="rgb(170,170,170)" stroke="rgb(98,99,99)" stroke-width="0.4"/>
<circle cx="48.0" cy="62.2" r="1.47" fill="rgb(160,160,160)" stroke="rgb(98,99,99)" stroke-width="0.4"/>
<circle cx="41.8" cy="63.4" r="1.75" fill="rgb(150,150,150)" stroke="rgb(98,99,99)" stroke-width="0.4"/>
<circle cx="50.1" cy="54.6" r="1.68" fill="rgb(160,160,160)" stroke="rgb(98,99,99)" stroke-width="0.4"/>
<circle cx="45.5" cy="69.8" r="1.55" fill="rgb(170,170,170)" stroke="rgb(98,99,99)" stroke-width="0.4"/>
<circle cx="47.4" cy="74.2" r="1.63" fill="rgb(160,160,160)" stroke="rgb(98,99,99)" stroke-width="0.4"/>
<circle cx="50.9" cy="63.7" r="1.53" fill="rgb(150,150,150)" stroke="rgb(98,99,99)" stroke-width="0.4"/>
<circle cx="44.0" cy="69.2" r="1.79" fill="rgb(135,135,135)" stroke="rgb(98,99,99)" stroke-width="0.4"/>
<circle cx="50.5" cy="71.9" r="1.54" fill="rgb(135,135,135)" stroke="rgb(98,99,99)" stroke-width="0.4"/>
<circle cx="39.4" cy="75.0" r="1.66" fill="rgb(160,160,160)" stroke="rgb(98,99,99)" stroke-width="0.4"/>
<circle cx="46.9" cy="72.9" r="1.56" fill="rgb(150,150,150)" stroke="rgb(98,99,99)" stroke-width="0.4"/>
<circle cx="1.5" cy="2.7" r="1.60" fill="rgb(170,170,170)" stroke="rgb(98,99,99)" stroke-width="0.4"/>
<circle cx="-1.1" cy="0.9" r="1.64" fill="rgb(150,150,150)" stroke="rgb(98,99,99)" stroke-width="0.4"/>
<circle cx="-4.6" cy="-2.9" r="1.80" fill="rgb(170,170,170)" stroke="rgb(98,99,99)" stroke-width="0.4"/>
<circle cx="1.1" cy="-0.7" r="1.53" fill="rgb(160,160,160)" stroke="rgb(98,99,99)" stroke-width="0.4"/>
<circle cx="-1.1" cy="0.3" r="1.73" fill="rgb(160,160,160)" stroke="rgb(98,99,99)" stroke-width="0.4"/>
<circle cx="1.4" cy="-0.6" r="1.73" fill="rgb(170,170,170)" stroke="rgb(98,99,99)" stroke-width="0.4"/>
<circle cx="60.5" cy="57.9" r="1.43" fill="rgb(135,135,135)" stroke="rgb(98,99,99)" stroke-width="0.4"/>
<circle cx="63.0" cy="49.4" r="1.42" fill="rgb(150,150,150)" stroke="rgb(98,99,99)" stroke-width="0.4"/>
<circle cx="63.6" cy="48.3" r="1.48" fill="rgb(135,135,135)" stroke="rgb(98,99,99)" stroke-width="0.4"/>
<circle cx="66.1" cy="51.4" r="1.37" fill="rgb(170,170,170)" stroke="rgb(98,99,99)" stroke-width="0.4"/>
<circle cx="63.4" cy="49.1" r="1.40" fill="rgb(135,135,135)" stroke="rgb(98,99,99)" stroke-width="0.4"/>
<circle cx="70.3" cy="54.3" r="1.31" fill="rgb(135,135,135)" stroke="rgb(98,99,99)" stroke-width="0.4"/>
<circle cx="69.1" cy="55.3" r="1.67" fill="rgb(135,135,135)" stroke="rgb(98,99,99)" stroke-width="0.4"/>
<circle cx="23.7" cy="21.3" r="1.71" fill="rgb(160,160,160)" stroke="rgb(98,99,99)" stroke-width="0.4"/>
<circle cx="25.3" cy="26.6" r="1.60" fill="rgb(170,170,170)" stroke="rgb(98,99,99)" stroke-width="0.4"/>
<circle cx="25.0" cy="25.2" r="1.44" fill="rgb(170,170,170)" stroke="rgb(98,99,99)" stroke-width="0.4"/>
<circle cx="41.5" cy="22.5" r="1.67" fill="rgb(160,160,160)" stroke="rgb(98,99,99)" stroke-width="0.4"/>
<circle cx="47.3" cy="24.0" r="1.40" fill="rgb(135,135,135)" stroke="rgb(98,99,99)" stroke-width="0.4"/>
<circle cx="47.3" cy="30.4" r="1.64" fill="rgb(160,160,160)" stroke="rgb(98,99,99)" stroke-width="0.4"/>
<circle cx="42.4" cy="22.0" r="1.34" fill="rgb(150,150,150)" stroke="rgb(98,99,99)" stroke-width="0.4"/>
<circle cx="45.2" cy="25.5" r="1.38" fill="rgb(135,135,135)" stroke="rgb(98,99,99)" stroke-width="0.4"/>
<circle cx="44.8" cy="21.5" r="1.48" fill="rgb(160,160,160)" stroke="rgb(98,99,99)" stroke-width="0.4"/>
<circle cx="65.0" cy="57.3" r="1.47" fill="rgb(170,170,170)" stroke="rgb(98,99,99)" stroke-width="0.4"/>
<circle cx="64.5" cy="60.5" r="1.42" fill="rgb(160,160,160)" stroke="rgb(98,99,99)" stroke-width="0.4"/>
<circle cx="69.7" cy="64.0" r="1.50" fill="rgb(150,150,150)" stroke="rgb(98,99,99)" stroke-width="0.4"/>
<circle cx="70.2" cy="71.3" r="1.45" fill="rgb(170,170,170)" stroke="rgb(98,99,99)" stroke-width="0.4"/>
<circle cx="70.2" cy="69.1" r="1.43" fill="rgb(160,160,160)" stroke="rgb(98,99,99)" stroke-width="0.4"/>
<circle cx="71.3" cy="69.5" r="1.51" fill="rgb(160,160,160)" stroke="rgb(98,99,99)" stroke-width="0.4"/>
<circle cx="64.8" cy="65.8" r="1.74" fill="rgb(135,135,135)" stroke="rgb(98,99,99)" stroke-width="0.4"/>
<circle cx="66.9" cy="70.4" r="1.72" fill="rgb(135,135,135)" stroke="rgb(98,99,99)" stroke-width="0.4"/>
<circle cx="45.1" cy="10.7" r="1.77" fill="rgb(135,135,135)" stroke="rgb(98,99,99)" stroke-width="0.4"/>
<circle cx="51.5" cy="7.5" r="1.38" fill="rgb(135,135,135)" stroke="rgb(98,99,99)" stroke-width="0.4"/>
<circle cx="47.8" cy="13.7" r="1.33" fill="rgb(170,170,170)" stroke="rgb(98,99,99)" stroke-width="0.4"/>
<circle cx="45.5" cy="13.2" r="1.58" fill="rgb(135,135,135)" stroke="rgb(98,99,99)" stroke-width="0.4"/>
<circle cx="31.4" cy="15.8" r="1.61" fill="rgb(150,150,150)" stroke="rgb(98,99,99)" stroke-width="0.4"/>
<circle cx="36.3" cy="17.7" r="1.78" fill="rgb(135,135,135)" stroke="rgb(98,99,99)" stroke-width="0.4"/>
<circle cx="39.9" cy="17.8" r="1.34" fill="rgb(135,135,135)" stroke="rgb(98,99,99)" stroke-width="0.4"/>
<circle cx="31.5" cy="40.3" r="1.30" fill="rgb(150,150,150)" stroke="rgb(98,99,99)" stroke-width="0.4"/>
<circle cx="32.1" cy="31.9" r="1.62" fill="rgb(160,160,160)" stroke="rgb(98,99,99)" stroke-width="0.4"/>
<circle cx="32.9" cy="32.2" r="1.77" fill="rgb(170,170,170)" stroke="rgb(98,99,99)" stroke-width="0.4"/>
<circle cx="26.9" cy="33.3" r="1.42" fill="rgb(160,160,160)" stroke="rgb(98,99,99)" stroke-width="0.4"/>
<circle cx="32.7" cy="32.9" r="1.51" fill="rgb(135,135,135)" stroke="rgb(98,99,99)" stroke-width="0.4"/>
<circle cx="27.1" cy="27.6" r="1.42" fill="rgb(170,170,170)" stroke="rgb(98,99,99)" stroke-width="0.4"/>
<circle cx="28.8" cy="28.7" r="1.73" fill="rgb(170,170,170)" stroke="rgb(98,99,99)" stroke-width="0.4"/>
<circle cx="51.4" cy="50.4" r="1.47" fill="rgb(160,160,160)" stroke="rgb(98,99,99)" stroke-width="0.4"/>
<circle cx="55.0" cy="52.1" r="1.33" fill="rgb(150,150,150)" stroke="rgb(98,99,99)" stroke-width="0.4"/>
<circle cx="54.7" cy="44.8" r="1.71" fill="rgb(135,135,135)" stroke="rgb(98,99,99)" stroke-width="0.4"/>
<circle cx="50.2" cy="45.9" r="1.71" fill="rgb(150,150,150)" stroke="rgb(98,99,99)" stroke-width="0.4"/>
<circle cx="55.7" cy="41.7" r="1.61" fill="rgb(160,160,160)" stroke="rgb(98,99,99)" stroke-width="0.4"/>
<circle cx="53.7" cy="43.2" r="1.49" fill="rgb(160,160,160)" stroke="rgb(98,99,99)" stroke-width="0.4"/>
<circle cx="57.8" cy="45.5" r="1.39" fill="rgb(170,170,170)" stroke="rgb(98,99,99)" stroke-width="0.4"/>
<circle cx="49.2" cy="12.3" r="1.65" fill="rgb(170,170,170)" stroke="rgb(98,99,99)" stroke-width="0.4"/>
<circle cx="66.8" cy="17.3" r="1.31" fill="rgb(160,160,160)" stroke="rgb(98,99,99)" stroke-width="0.4"/>
<circle cx="70.6" cy="14.0" r="1.64" fill="rgb(135,135,135)" stroke="rgb(98,99,99)" stroke-width="0.4"/>
<circle cx="64.2" cy="11.5" r="1.34" fill="rgb(160,160,160)" stroke="rgb(98,99,99)" stroke-width="0.4"/>
<circle cx="58.4" cy="10.7" r="1.64" fill="rgb(160,160,160)" stroke="rgb(98,99,99)" stroke-width="0.4"/>
<circle cx="62.7" cy="16.4" r="1.45" fill="rgb(170,170,170)" stroke="rgb(98,99,99)" stroke-width="0.4"/>
<circle cx="54.4" cy="16.2" r="1.49" fill="rgb(150,150,150)" stroke="rgb(98,99,99)" stroke-width="0.4"/>
<circle cx="8.7" cy="40.1" r="1.64" fill="rgb(150,150,150)" stroke="rgb(98,99,99)" stroke-width="0.4"/>
<circle cx="5.2" cy="38.9" r="1.49" fill="rgb(150,150,150)" stroke="rgb(98,99,99)" stroke-width="0.4"/>
<circle cx="12.5" cy="49.9" r="1.63" fill="rgb(160,160,160)" stroke="rgb(98,99,99)" stroke-width="0.4"/>
<circle cx="7.3" cy="37.4" r="1.66" fill="rgb(135,135,135)" stroke="rgb(98,99,99)" stroke-width="0.4"/>
<circle cx="3.9" cy="39.9" r="1.77" fill="rgb(170,170,170)" stroke="rgb(98,99,99)" stroke-width="0.4"/>
<circle cx="10.8" cy="39.1" r="1.80" fill="rgb(160,160,160)" stroke="rgb(98,99,99)" stroke-width="0.4"/>
<circle cx="26.3" cy="40.7" r="1.67" fill="rgb(160,160,160)" stroke="rgb(98,99,99)" stroke-width="0.4"/>
<circle cx="21.7" cy="39.2" r="1.54" fill="rgb(160,160,160)" stroke="rgb(98,99,99)" stroke-width="0.4"/>
<circle cx="25.3" cy="41.8" r="1.77" fill="rgb(135,135,135)" stroke="rgb(98,99,99)" stroke-width="0.4"/>
<circle cx="19.8" cy="38.0" r="1.52" fill="rgb(150,150,150)" stroke="rgb(98,99,99)" stroke-width="0.4"/>
<circle cx="26.8" cy="34.5" r="1.30" fill="rgb(150,150,150)" stroke="rgb(98,99,99)" stroke-width="0.4"/>
<circle cx="30.3" cy="36.3" r="1.70" fill="rgb(135,135,135)" stroke="rgb(98,99,99)" stroke-width="0.4"/>
<circle cx="14.2" cy="19.3" r="1.54" fill="rgb(170,170,170)" stroke="rgb(98,99,99)" stroke-width="0.4"/>
<circle cx="21.4" cy="16.0" r="1.42" fill="rgb(170,170,170)" stroke="rgb(98,99,99)" stroke-width="0.4"/>
<circle cx="15.8" cy="27.5" r="1.56" fill="rgb(170,170,170)" stroke="rgb(98,99,99)" stroke-width="0.4"/>
<circle cx="22.3" cy="21.3" r="1.47" fill="rgb(135,135,135)" stroke="rgb(98,99,99)" stroke-width="0.4"/>
<circle cx="30.0" cy="25.2" r="1.30" fill="rgb(150,150,150)" stroke="rgb(98,99,99)" stroke-width="0.4"/>
<circle cx="22.8" cy="20.1" r="1.65" fill="rgb(135,135,135)" stroke="rgb(98,99,99)" stroke-width="0.4"/>
<circle cx="12.1" cy="14.5" r="1.78" fill="rgb(170,170,170)" stroke="rgb(98,99,99)" stroke-width="0.4"/>
<circle cx="17.6" cy="16.6" r="1.57" fill="rgb(150,150,150)" stroke="rgb(98,99,99)" stroke-width="0.4"/>
<circle cx="11.3" cy="15.4" r="1.57" fill="rgb(150,150,150)" stroke="rgb(98,99,99)" stroke-width="0.4"/>
<circle cx="13.3" cy="18.2" r="1.59" fill="rgb(135,135,135)" stroke="rgb(98,99,99)" stroke-width="0.4"/>
<circle cx="11.8" cy="13.9" r="1.35" fill="rgb(170,170,170)" stroke="rgb(98,99,99)" stroke-width="0.4"/>
<circle cx="9.4" cy="3.5" r="1.52" fill="rgb(160,160,160)" stroke="rgb(98,99,99)" stroke-width="0.4"/>
<circle cx="14.5" cy="-3.4" r="1.71" fill="rgb(135,135,135)" stroke="rgb(98,99,99)" stroke-width="0.4"/>
<circle cx="12.1" cy="-1.6" r="1.51" fill="rgb(150,150,150)" stroke="rgb(98,99,99)" stroke-width="0.4"/>
<circle cx="8.2" cy="5.9" r="1.65" fill="rgb(160,160,160)" stroke="rgb(98,99,99)" stroke-width="0.4"/>
<circle cx="6.4" cy="2.8" r="1.79" fill="rgb(170,170,170)" stroke="rgb(98,99,99)" stroke-width="0.4"/>
<circle cx="11.6" cy="0.7" r="1.67" fill="rgb(135,135,135)" stroke="rgb(98,99,99)" stroke-width="0.4"/>
<circle cx="9.3" cy="6.4" r="1.49" fill="rgb(135,135,135)" stroke="rgb(98,99,99)" stroke-width="0.4"/>
<circle cx="9.0" cy="-0.1" r="1.31" fill="rgb(135,135,135)" stroke="rgb(98,99,99)" stroke-width="0.4"/>
<circle cx="6.7" cy="1.8" r="1.38" fill="rgb(160,160,160)" stroke="rgb(98,99,99)" stroke-width="0.4"/>
<circle cx="8.2" cy="4.8" r="1.73" fill="rgb(135,135,135)" stroke="rgb(98,99,99)" stroke-width="0.4"/>
<circle cx="46.1" cy="52.0" r="1.34" fill="rgb(150,150,150)" stroke="rgb(98,99,99)" stroke-width="0.4"/>
<circle cx="37.4" cy="58.6" r="1.76" fill="rgb(135,135,135)" stroke="rgb(98,99,99)" stroke-width="0.4"/>
<circle cx="40.6" cy="52.0" r="1.44" fill="rgb(150,150,150)" stroke="rgb(98,99,99)" stroke-width="0.4"/>
<circle cx="35.7" cy="51.7" r="1.51" fill="rgb(160,160,160)" stroke="rgb(98,99,99)" stroke-width="0.4"/>
<circle cx="48.2" cy="17.5" r="1.46" fill="rgb(135,135,135)" stroke="rgb(98,99,99)" stroke-width="0.4"/>
<circle cx="48.0" cy="19.0" r="1.56" fill="rgb(150,150,150)" stroke="rgb(98,99,99)" stroke-width="0.4"/>
<circle cx="52.0" cy="14.9" r="1.72" fill="rgb(135,135,135)" stroke="rgb(98,99,99)" stroke-width="0.4"/>
<circle cx="39.4" cy="14.3" r="1.63" fill="rgb(160,160,160)" stroke="rgb(98,99,99)" stroke-width="0.4"/>
<circle cx="41.6" cy="21.9" r="1.54" fill="rgb(150,150,150)" stroke="rgb(98,99,99)" stroke-width="0.4"/>
<circle cx="39.0" cy="23.2" r="1.39" fill="rgb(160,160,160)" stroke="rgb(98,99,99)" stroke-width="0.4"/>
<circle cx="47.5" cy="19.3" r="1.53" fill="rgb(160,160,160)" stroke="rgb(98,99,99)" stroke-width="0.4"/>
<circle cx="44.4" cy="30.6" r="1.53" fill="rgb(135,135,135)" stroke="rgb(98,99,99)" stroke-width="0.4"/>
<circle cx="45.7" cy="25.6" r="1.39" fill="rgb(160,160,160)" stroke="rgb(98,99,99)" stroke-width="0.4"/>
<circle cx="38.2" cy="14.2" r="1.46" fill="rgb(150,150,150)" stroke="rgb(98,99,99)" stroke-width="0.4"/>
<circle cx="32.7" cy="19.5" r="1.63" fill="rgb(170,170,170)" stroke="rgb(98,99,99)" stroke-width="0.4"/>
<circle cx="37.6" cy="8.6" r="1.67" fill="rgb(135,135,135)" stroke="rgb(98,99,99)" stroke-width="0.4"/>
<circle cx="38.1" cy="14.3" r="1.76" fill="rgb(160,160,160)" stroke="rgb(98,99,99)" stroke-width="0.4"/>
<circle cx="40.9" cy="13.5" r="1.76" fill="rgb(135,135,135)" stroke="rgb(98,99,99)" stroke-width="0.4"/>
<circle cx="33.2" cy="17.2" r="1.78" fill="rgb(170,170,170)" stroke="rgb(98,99,99)" stroke-width="0.4"/>
<circle cx="36.5" cy="17.0" r="1.78" fill="rgb(170,170,170)" stroke="rgb(98,99,99)" stroke-width="0.4"/>
<circle cx="11" cy="13" r="3.30" fill="url(#spot)" opacity="0.85"/>
<circle cx="56" cy="6" r="3.30" fill="url(#spot)" opacity="0.85"/>
<circle cx="68" cy="9" r="3.30" fill="url(#spot)" opacity="0.85"/>
<circle cx="36" cy="21" r="3.85" fill="url(#spot)" opacity="0.85"/>
<circle cx="16" cy="37" r="2.75" fill="url(#spot)" opacity="0.85"/>
<circle cx="17" cy="49" r="3.30" fill="url(#spot)" opacity="0.85"/>
<circle cx="63" cy="42" r="3.96" fill="url(#spot)" opacity="0.85"/>
<circle cx="51" cy="34" r="3.30" fill="url(#spot)" opacity="0.85"/>
<circle cx="47" cy="47" r="4.18" fill="url(#spot)" opacity="0.85"/>
<circle cx="29" cy="60" r="3.08" fill="url(#spot)" opacity="0.85"/>
<circle cx="52" cy="64" r="4.18" fill="url(#spot)" opacity="0.85"/>
<circle cx="54" cy="56" r="2.86" fill="url(#spot)" opacity="0.85"/>
<circle cx="66" cy="51" r="3.30" fill="url(#spot)" opacity="0.85"/>
<circle cx="11" cy="70" r="3.52" fill="url(#spot)" opacity="0.85"/>
<circle cx="31" cy="48" r="2.75" fill="url(#spot)" opacity="0.85"/>
<circle cx="62" cy="30" r="2.75" fill="url(#spot)" opacity="0.85"/>
</svg>
<text x="568.2" y="514.2" font-size="8.8" text-anchor="start" fill="#111" stroke="#111" stroke-width="0.22" >10 h</text>
<text x="409.4" y="375.3" font-size="8.5" text-anchor="start" fill="#1a1a1a" stroke="#1a1a1a" stroke-width="0.22" >BF/<tspan fill="#4fd0dc" stroke="#4fd0dc">BLI</tspan></text>
<rect x="447.20" y="432.90" width="30.00" height="2.60" fill="#0c0c0c" />
<text x="403.2" y="553.5" font-size="10.5" text-anchor="start" fill="#231f20" font-weight="bold" >h</text>
<line x1="448.50" y1="565.00" x2="630.50" y2="565.00" stroke="#999999" stroke-width="0.9" />
<line x1="448.50" y1="565.00" x2="448.50" y2="674.40" stroke="#999999" stroke-width="0.9" />
<line x1="448.50" y1="674.40" x2="630.50" y2="674.40" stroke="#999999" stroke-width="0.9" />
<line x1="445.00" y1="674.40" x2="448.50" y2="674.40" stroke="#999999" stroke-width="0.9" />
<text x="441.0" y="677.7" font-size="8.9" text-anchor="end" fill="#231f20" stroke="#231f20" stroke-width="0.22" >2</text>
<line x1="445.00" y1="647.05" x2="448.50" y2="647.05" stroke="#999999" stroke-width="0.9" />
<text x="441.0" y="650.3" font-size="8.9" text-anchor="end" fill="#231f20" stroke="#231f20" stroke-width="0.22" >3</text>
<line x1="445.00" y1="619.70" x2="448.50" y2="619.70" stroke="#999999" stroke-width="0.9" />
<text x="441.0" y="623.0" font-size="8.9" text-anchor="end" fill="#231f20" stroke="#231f20" stroke-width="0.22" >4</text>
<line x1="445.00" y1="592.35" x2="448.50" y2="592.35" stroke="#999999" stroke-width="0.9" />
<text x="441.0" y="595.6" font-size="8.9" text-anchor="end" fill="#231f20" stroke="#231f20" stroke-width="0.22" >5</text>
<line x1="445.00" y1="565.00" x2="448.50" y2="565.00" stroke="#999999" stroke-width="0.9" />
<text x="441.0" y="568.3" font-size="8.9" text-anchor="end" fill="#231f20" stroke="#231f20" stroke-width="0.22" >6</text>
<line x1="448.50" y1="674.40" x2="448.50" y2="677.60" stroke="#999999" stroke-width="0.9" />
<text x="448.5" y="689.0" font-size="8.9" text-anchor="middle" fill="#231f20" stroke="#231f20" stroke-width="0.22" >0</text>
<line x1="478.80" y1="674.40" x2="478.80" y2="677.60" stroke="#999999" stroke-width="0.9" />
<text x="478.8" y="689.0" font-size="8.9" text-anchor="middle" fill="#231f20" stroke="#231f20" stroke-width="0.22" >2</text>
<line x1="509.10" y1="674.40" x2="509.10" y2="677.60" stroke="#999999" stroke-width="0.9" />
<text x="509.1" y="689.0" font-size="8.9" text-anchor="middle" fill="#231f20" stroke="#231f20" stroke-width="0.22" >4</text>
<line x1="539.40" y1="674.40" x2="539.40" y2="677.60" stroke="#999999" stroke-width="0.9" />
<text x="539.4" y="689.0" font-size="8.9" text-anchor="middle" fill="#231f20" stroke="#231f20" stroke-width="0.22" >6</text>
<line x1="569.70" y1="674.40" x2="569.70" y2="677.60" stroke="#999999" stroke-width="0.9" />
<text x="569.7" y="689.0" font-size="8.9" text-anchor="middle" fill="#231f20" stroke="#231f20" stroke-width="0.22" >8</text>
<line x1="600.00" y1="674.40" x2="600.00" y2="677.60" stroke="#999999" stroke-width="0.9" />
<text x="600.0" y="689.0" font-size="8.9" text-anchor="middle" fill="#231f20" stroke="#231f20" stroke-width="0.22" >10</text>
<line x1="630.30" y1="674.40" x2="630.30" y2="677.60" stroke="#999999" stroke-width="0.9" />
<text x="630.3" y="689.0" font-size="8.9" text-anchor="middle" fill="#231f20" stroke="#231f20" stroke-width="0.22" >12</text>
<text x="539.5" y="703.2" font-size="8.9" text-anchor="middle" fill="#231f20" stroke="#231f20" stroke-width="0.22" >Induction time (h)</text>
<text font-size="9.1" fill="#231f20" stroke="#231f20" stroke-width="0.22" text-anchor="middle" transform="translate(424.4,621) rotate(-90)">Mean BLI intensity (×10<tspan dy="-3" font-size="6">3</tspan><tspan dy="3">; a.u.)</tspan></text>
<line x1="541.60" y1="668.60" x2="630.50" y2="668.60" stroke="#555" stroke-width="0.8" stroke-dasharray="1,1.5"/>
<polyline points="448.50,668.72 453.55,668.72 458.60,668.72 463.65,668.72 468.70,668.72 473.75,668.72 478.80,668.72 483.85,668.72 488.90,668.72 493.95,668.72 499.00,668.72 504.05,668.72 509.10,668.72 514.15,668.72 519.20,668.72 524.25,668.72 529.30,668.72 534.35,668.72 539.40,668.72 544.45,668.72 549.50,668.72 554.55,668.72 559.60,668.72 564.65,667.22 569.70,665.31 574.75,663.61 579.80,663.61 584.85,663.61 589.90,661.62 594.95,657.63 600.00,651.29 605.05,642.20 610.10,644.07 615.15,637.33 620.20,617.80 625.25,592.55" fill="none" stroke="#1c2470" stroke-width="1.0" stroke-linejoin="round" />
<circle cx="448.50" cy="668.72" r="0.75" fill="#1c2470" />
<circle cx="453.55" cy="668.72" r="0.75" fill="#1c2470" />
<circle cx="458.60" cy="668.72" r="0.75" fill="#1c2470" />
<circle cx="463.65" cy="668.72" r="0.75" fill="#1c2470" />
<circle cx="468.70" cy="668.72" r="0.75" fill="#1c2470" />
<circle cx="473.75" cy="668.72" r="0.75" fill="#1c2470" />
<circle cx="478.80" cy="668.72" r="0.75" fill="#1c2470" />
<circle cx="483.85" cy="668.72" r="0.75" fill="#1c2470" />
<circle cx="488.90" cy="668.72" r="0.75" fill="#1c2470" />
<circle cx="493.95" cy="668.72" r="0.75" fill="#1c2470" />
<circle cx="499.00" cy="668.72" r="0.75" fill="#1c2470" />
<circle cx="504.05" cy="668.72" r="0.75" fill="#1c2470" />
<circle cx="509.10" cy="668.72" r="0.75" fill="#1c2470" />
<circle cx="514.15" cy="668.72" r="0.75" fill="#1c2470" />
<circle cx="519.20" cy="668.72" r="0.75" fill="#1c2470" />
<circle cx="524.25" cy="668.72" r="0.75" fill="#1c2470" />
<circle cx="529.30" cy="668.72" r="0.75" fill="#1c2470" />
<circle cx="534.35" cy="668.72" r="0.75" fill="#1c2470" />
<circle cx="539.40" cy="668.72" r="0.75" fill="#1c2470" />
<circle cx="544.45" cy="668.72" r="0.75" fill="#1c2470" />
<circle cx="549.50" cy="668.72" r="0.75" fill="#1c2470" />
<circle cx="554.55" cy="668.72" r="0.75" fill="#1c2470" />
<circle cx="559.60" cy="668.72" r="0.75" fill="#1c2470" />
<circle cx="564.65" cy="667.22" r="0.75" fill="#1c2470" />
<circle cx="569.70" cy="665.31" r="0.75" fill="#1c2470" />
<circle cx="574.75" cy="663.61" r="0.75" fill="#1c2470" />
<circle cx="579.80" cy="663.61" r="0.75" fill="#1c2470" />
<circle cx="584.85" cy="663.61" r="0.75" fill="#1c2470" />
<circle cx="589.90" cy="661.62" r="0.75" fill="#1c2470" />
<circle cx="594.95" cy="657.63" r="0.75" fill="#1c2470" />
<circle cx="600.00" cy="651.29" r="0.75" fill="#1c2470" />
<circle cx="605.05" cy="642.20" r="0.75" fill="#1c2470" />
<circle cx="610.10" cy="644.07" r="0.75" fill="#1c2470" />
<circle cx="615.15" cy="637.33" r="0.75" fill="#1c2470" />
<circle cx="620.20" cy="617.80" r="0.75" fill="#1c2470" />
<circle cx="625.25" cy="592.55" r="0.75" fill="#1c2470" />
<polyline points="448.50,668.72 453.55,668.72 458.60,668.72 463.65,668.72 468.70,668.72 473.75,668.72 478.80,668.72 483.85,668.72 488.90,668.72 493.95,668.72 499.00,668.72 504.05,668.72 509.10,668.72 514.15,668.72 519.20,668.72 524.25,668.72 529.30,668.72 534.35,668.72 539.40,668.65 544.45,667.03 549.50,665.42 554.55,663.32 559.60,660.41 564.65,657.29 569.70,653.50 574.75,649.86 579.80,647.34 584.85,644.81 589.90,641.67 594.95,638.51 600.00,635.03 605.05,631.50 610.10,628.96 615.15,626.81 620.20,624.64 625.25,622.45" fill="none" stroke="#1f2a80" stroke-width="1.0" stroke-linejoin="round" />
<circle cx="448.50" cy="668.72" r="0.75" fill="#1f2a80" />
<circle cx="453.55" cy="668.72" r="0.75" fill="#1f2a80" />
<circle cx="458.60" cy="668.72" r="0.75" fill="#1f2a80" />
<circle cx="463.65" cy="668.72" r="0.75" fill="#1f2a80" />
<circle cx="468.70" cy="668.72" r="0.75" fill="#1f2a80" />
<circle cx="473.75" cy="668.72" r="0.75" fill="#1f2a80" />
<circle cx="478.80" cy="668.72" r="0.75" fill="#1f2a80" />
<circle cx="483.85" cy="668.72" r="0.75" fill="#1f2a80" />
<circle cx="488.90" cy="668.72" r="0.75" fill="#1f2a80" />
<circle cx="493.95" cy="668.72" r="0.75" fill="#1f2a80" />
<circle cx="499.00" cy="668.72" r="0.75" fill="#1f2a80" />
<circle cx="504.05" cy="668.72" r="0.75" fill="#1f2a80" />
<circle cx="509.10" cy="668.72" r="0.75" fill="#1f2a80" />
<circle cx="514.15" cy="668.72" r="0.75" fill="#1f2a80" />
<circle cx="519.20" cy="668.72" r="0.75" fill="#1f2a80" />
<circle cx="524.25" cy="668.72" r="0.75" fill="#1f2a80" />
<circle cx="529.30" cy="668.72" r="0.75" fill="#1f2a80" />
<circle cx="534.35" cy="668.72" r="0.75" fill="#1f2a80" />
<circle cx="539.40" cy="668.65" r="0.75" fill="#1f2a80" />
<circle cx="544.45" cy="667.03" r="0.75" fill="#1f2a80" />
<circle cx="549.50" cy="665.42" r="0.75" fill="#1f2a80" />
<circle cx="554.55" cy="663.32" r="0.75" fill="#1f2a80" />
<circle cx="559.60" cy="660.41" r="0.75" fill="#1f2a80" />
<circle cx="564.65" cy="657.29" r="0.75" fill="#1f2a80" />
<circle cx="569.70" cy="653.50" r="0.75" fill="#1f2a80" />
<circle cx="574.75" cy="649.86" r="0.75" fill="#1f2a80" />
<circle cx="579.80" cy="647.34" r="0.75" fill="#1f2a80" />
<circle cx="584.85" cy="644.81" r="0.75" fill="#1f2a80" />
<circle cx="589.90" cy="641.67" r="0.75" fill="#1f2a80" />
<circle cx="594.95" cy="638.51" r="0.75" fill="#1f2a80" />
<circle cx="600.00" cy="635.03" r="0.75" fill="#1f2a80" />
<circle cx="605.05" cy="631.50" r="0.75" fill="#1f2a80" />
<circle cx="610.10" cy="628.96" r="0.75" fill="#1f2a80" />
<circle cx="615.15" cy="626.81" r="0.75" fill="#1f2a80" />
<circle cx="620.20" cy="624.64" r="0.75" fill="#1f2a80" />
<circle cx="625.25" cy="622.45" r="0.75" fill="#1f2a80" />
<polyline points="448.50,668.72 453.55,668.72 458.60,668.72 463.65,668.72 468.70,668.72 473.75,668.72 478.80,668.72 483.85,668.72 488.90,668.72 493.95,668.72 499.00,668.72 504.05,668.72 509.10,668.72 514.15,668.72 519.20,668.72 524.25,668.72 529.30,668.72 534.35,668.51 539.40,666.59 544.45,664.67 549.50,662.21 554.55,659.05 559.60,655.70 564.65,651.91 569.70,648.12 574.75,644.33 579.80,640.64 584.85,638.75 589.90,636.85 594.95,634.96 600.00,633.06 605.05,631.67 610.10,630.40 615.15,627.21 620.20,623.06 625.25,619.78" fill="none" stroke="#252f88" stroke-width="1.0" stroke-linejoin="round" />
<circle cx="448.50" cy="668.72" r="0.75" fill="#252f88" />
<circle cx="453.55" cy="668.72" r="0.75" fill="#252f88" />
<circle cx="458.60" cy="668.72" r="0.75" fill="#252f88" />
<circle cx="463.65" cy="668.72" r="0.75" fill="#252f88" />
<circle cx="468.70" cy="668.72" r="0.75" fill="#252f88" />
<circle cx="473.75" cy="668.72" r="0.75" fill="#252f88" />
<circle cx="478.80" cy="668.72" r="0.75" fill="#252f88" />
<circle cx="483.85" cy="668.72" r="0.75" fill="#252f88" />
<circle cx="488.90" cy="668.72" r="0.75" fill="#252f88" />
<circle cx="493.95" cy="668.72" r="0.75" fill="#252f88" />
<circle cx="499.00" cy="668.72" r="0.75" fill="#252f88" />
<circle cx="504.05" cy="668.72" r="0.75" fill="#252f88" />
<circle cx="509.10" cy="668.72" r="0.75" fill="#252f88" />
<circle cx="514.15" cy="668.72" r="0.75" fill="#252f88" />
<circle cx="519.20" cy="668.72" r="0.75" fill="#252f88" />
<circle cx="524.25" cy="668.72" r="0.75" fill="#252f88" />
<circle cx="529.30" cy="668.72" r="0.75" fill="#252f88" />
<circle cx="534.35" cy="668.51" r="0.75" fill="#252f88" />
<circle cx="539.40" cy="666.59" r="0.75" fill="#252f88" />
<circle cx="544.45" cy="664.67" r="0.75" fill="#252f88" />
<circle cx="549.50" cy="662.21" r="0.75" fill="#252f88" />
<circle cx="554.55" cy="659.05" r="0.75" fill="#252f88" />
<circle cx="559.60" cy="655.70" r="0.75" fill="#252f88" />
<circle cx="564.65" cy="651.91" r="0.75" fill="#252f88" />
<circle cx="569.70" cy="648.12" r="0.75" fill="#252f88" />
<circle cx="574.75" cy="644.33" r="0.75" fill="#252f88" />
<circle cx="579.80" cy="640.64" r="0.75" fill="#252f88" />
<circle cx="584.85" cy="638.75" r="0.75" fill="#252f88" />
<circle cx="589.90" cy="636.85" r="0.75" fill="#252f88" />
<circle cx="594.95" cy="634.96" r="0.75" fill="#252f88" />
<circle cx="600.00" cy="633.06" r="0.75" fill="#252f88" />
<circle cx="605.05" cy="631.67" r="0.75" fill="#252f88" />
<circle cx="610.10" cy="630.40" r="0.75" fill="#252f88" />
<circle cx="615.15" cy="627.21" r="0.75" fill="#252f88" />
<circle cx="620.20" cy="623.06" r="0.75" fill="#252f88" />
<circle cx="625.25" cy="619.78" r="0.75" fill="#252f88" />
<polyline points="448.50,668.72 453.55,668.72 458.60,668.72 463.65,668.72 468.70,668.72 473.75,668.72 478.80,664.59 483.85,668.72 488.90,668.72 493.95,668.72 499.00,668.72 504.05,668.72 509.10,668.72 514.15,668.72 519.20,668.72 524.25,668.72 529.30,668.72 534.35,668.72 539.40,668.72 544.45,668.20 549.50,667.19 554.55,666.18 559.60,664.80 564.65,662.57 569.70,660.35 574.75,657.28 579.80,653.75 584.85,650.21 589.90,645.81 594.95,641.39 600.00,638.58 605.05,636.06 610.10,637.62 615.15,640.78 620.20,642.37 625.25,642.88" fill="none" stroke="#26318c" stroke-width="1.0" stroke-linejoin="round" />
<circle cx="448.50" cy="668.72" r="0.75" fill="#26318c" />
<circle cx="453.55" cy="668.72" r="0.75" fill="#26318c" />
<circle cx="458.60" cy="668.72" r="0.75" fill="#26318c" />
<circle cx="463.65" cy="668.72" r="0.75" fill="#26318c" />
<circle cx="468.70" cy="668.72" r="0.75" fill="#26318c" />
<circle cx="473.75" cy="668.72" r="0.75" fill="#26318c" />
<circle cx="478.80" cy="664.59" r="0.75" fill="#26318c" />
<circle cx="483.85" cy="668.72" r="0.75" fill="#26318c" />
<circle cx="488.90" cy="668.72" r="0.75" fill="#26318c" />
<circle cx="493.95" cy="668.72" r="0.75" fill="#26318c" />
<circle cx="499.00" cy="668.72" r="0.75" fill="#26318c" />
<circle cx="504.05" cy="668.72" r="0.75" fill="#26318c" />
<circle cx="509.10" cy="668.72" r="0.75" fill="#26318c" />
<circle cx="514.15" cy="668.72" r="0.75" fill="#26318c" />
<circle cx="519.20" cy="668.72" r="0.75" fill="#26318c" />
<circle cx="524.25" cy="668.72" r="0.75" fill="#26318c" />
<circle cx="529.30" cy="668.72" r="0.75" fill="#26318c" />
<circle cx="534.35" cy="668.72" r="0.75" fill="#26318c" />
<circle cx="539.40" cy="668.72" r="0.75" fill="#26318c" />
<circle cx="544.45" cy="668.20" r="0.75" fill="#26318c" />
<circle cx="549.50" cy="667.19" r="0.75" fill="#26318c" />
<circle cx="554.55" cy="666.18" r="0.75" fill="#26318c" />
<circle cx="559.60" cy="664.80" r="0.75" fill="#26318c" />
<circle cx="564.65" cy="662.57" r="0.75" fill="#26318c" />
<circle cx="569.70" cy="660.35" r="0.75" fill="#26318c" />
<circle cx="574.75" cy="657.28" r="0.75" fill="#26318c" />
<circle cx="579.80" cy="653.75" r="0.75" fill="#26318c" />
<circle cx="584.85" cy="650.21" r="0.75" fill="#26318c" />
<circle cx="589.90" cy="645.81" r="0.75" fill="#26318c" />
<circle cx="594.95" cy="641.39" r="0.75" fill="#26318c" />
<circle cx="600.00" cy="638.58" r="0.75" fill="#26318c" />
<circle cx="605.05" cy="636.06" r="0.75" fill="#26318c" />
<circle cx="610.10" cy="637.62" r="0.75" fill="#26318c" />
<circle cx="615.15" cy="640.78" r="0.75" fill="#26318c" />
<circle cx="620.20" cy="642.37" r="0.75" fill="#26318c" />
<circle cx="625.25" cy="642.88" r="0.75" fill="#26318c" />
<polyline points="448.50,668.72 453.55,668.72 458.60,668.72 463.65,668.72 468.70,668.72 473.75,668.72 478.80,668.72 483.85,668.72 488.90,668.72 493.95,668.72 499.00,668.55 504.05,663.75 509.10,668.72 514.15,668.72 519.20,668.72 524.25,668.72 529.30,668.72 534.35,668.72 539.40,668.72 544.45,668.72 549.50,668.72 554.55,668.12 559.60,666.52 564.65,664.92 569.70,663.06 574.75,660.03 579.80,657.00 584.85,653.71 589.90,650.17 594.95,646.64 600.00,642.89 605.05,639.10 610.10,635.77 615.15,632.61 620.20,631.81 625.25,632.65" fill="none" stroke="#2a3a98" stroke-width="1.0" stroke-linejoin="round" />
<circle cx="448.50" cy="668.72" r="0.75" fill="#2a3a98" />
<circle cx="453.55" cy="668.72" r="0.75" fill="#2a3a98" />
<circle cx="458.60" cy="668.72" r="0.75" fill="#2a3a98" />
<circle cx="463.65" cy="668.72" r="0.75" fill="#2a3a98" />
<circle cx="468.70" cy="668.72" r="0.75" fill="#2a3a98" />
<circle cx="473.75" cy="668.72" r="0.75" fill="#2a3a98" />
<circle cx="478.80" cy="668.72" r="0.75" fill="#2a3a98" />
<circle cx="483.85" cy="668.72" r="0.75" fill="#2a3a98" />
<circle cx="488.90" cy="668.72" r="0.75" fill="#2a3a98" />
<circle cx="493.95" cy="668.72" r="0.75" fill="#2a3a98" />
<circle cx="499.00" cy="668.55" r="0.75" fill="#2a3a98" />
<circle cx="504.05" cy="663.75" r="0.75" fill="#2a3a98" />
<circle cx="509.10" cy="668.72" r="0.75" fill="#2a3a98" />
<circle cx="514.15" cy="668.72" r="0.75" fill="#2a3a98" />
<circle cx="519.20" cy="668.72" r="0.75" fill="#2a3a98" />
<circle cx="524.25" cy="668.72" r="0.75" fill="#2a3a98" />
<circle cx="529.30" cy="668.72" r="0.75" fill="#2a3a98" />
<circle cx="534.35" cy="668.72" r="0.75" fill="#2a3a98" />
<circle cx="539.40" cy="668.72" r="0.75" fill="#2a3a98" />
<circle cx="544.45" cy="668.72" r="0.75" fill="#2a3a98" />
<circle cx="549.50" cy="668.72" r="0.75" fill="#2a3a98" />
<circle cx="554.55" cy="668.12" r="0.75" fill="#2a3a98" />
<circle cx="559.60" cy="666.52" r="0.75" fill="#2a3a98" />
<circle cx="564.65" cy="664.92" r="0.75" fill="#2a3a98" />
<circle cx="569.70" cy="663.06" r="0.75" fill="#2a3a98" />
<circle cx="574.75" cy="660.03" r="0.75" fill="#2a3a98" />
<circle cx="579.80" cy="657.00" r="0.75" fill="#2a3a98" />
<circle cx="584.85" cy="653.71" r="0.75" fill="#2a3a98" />
<circle cx="589.90" cy="650.17" r="0.75" fill="#2a3a98" />
<circle cx="594.95" cy="646.64" r="0.75" fill="#2a3a98" />
<circle cx="600.00" cy="642.89" r="0.75" fill="#2a3a98" />
<circle cx="605.05" cy="639.10" r="0.75" fill="#2a3a98" />
<circle cx="610.10" cy="635.77" r="0.75" fill="#2a3a98" />
<circle cx="615.15" cy="632.61" r="0.75" fill="#2a3a98" />
<circle cx="620.20" cy="631.81" r="0.75" fill="#2a3a98" />
<circle cx="625.25" cy="632.65" r="0.75" fill="#2a3a98" />
<polyline points="448.50,668.72 453.55,668.72 458.60,668.72 463.65,668.72 468.70,668.72 473.75,668.72 478.80,668.72 483.85,668.72 488.90,668.72 493.95,668.72 499.00,668.72 504.05,668.72 509.10,668.72 514.15,668.72 519.20,668.72 524.25,668.72 529.30,668.72 534.35,668.72 539.40,668.72 544.45,667.48 549.50,665.06 554.55,662.64 559.60,659.59 564.65,656.44 569.70,653.73 574.75,651.21 579.80,648.71 584.85,646.69 589.90,644.67 594.95,642.45 600.00,639.93 605.05,637.40 610.10,637.15 615.15,637.78 620.20,639.03 625.25,640.71" fill="none" stroke="#2f86d0" stroke-width="1.0" stroke-linejoin="round" />
<circle cx="448.50" cy="668.72" r="0.75" fill="#2f86d0" />
<circle cx="453.55" cy="668.72" r="0.75" fill="#2f86d0" />
<circle cx="458.60" cy="668.72" r="0.75" fill="#2f86d0" />
<circle cx="463.65" cy="668.72" r="0.75" fill="#2f86d0" />
<circle cx="468.70" cy="668.72" r="0.75" fill="#2f86d0" />
<circle cx="473.75" cy="668.72" r="0.75" fill="#2f86d0" />
<circle cx="478.80" cy="668.72" r="0.75" fill="#2f86d0" />
<circle cx="483.85" cy="668.72" r="0.75" fill="#2f86d0" />
<circle cx="488.90" cy="668.72" r="0.75" fill="#2f86d0" />
<circle cx="493.95" cy="668.72" r="0.75" fill="#2f86d0" />
<circle cx="499.00" cy="668.72" r="0.75" fill="#2f86d0" />
<circle cx="504.05" cy="668.72" r="0.75" fill="#2f86d0" />
<circle cx="509.10" cy="668.72" r="0.75" fill="#2f86d0" />
<circle cx="514.15" cy="668.72" r="0.75" fill="#2f86d0" />
<circle cx="519.20" cy="668.72" r="0.75" fill="#2f86d0" />
<circle cx="524.25" cy="668.72" r="0.75" fill="#2f86d0" />
<circle cx="529.30" cy="668.72" r="0.75" fill="#2f86d0" />
<circle cx="534.35" cy="668.72" r="0.75" fill="#2f86d0" />
<circle cx="539.40" cy="668.72" r="0.75" fill="#2f86d0" />
<circle cx="544.45" cy="667.48" r="0.75" fill="#2f86d0" />
<circle cx="549.50" cy="665.06" r="0.75" fill="#2f86d0" />
<circle cx="554.55" cy="662.64" r="0.75" fill="#2f86d0" />
<circle cx="559.60" cy="659.59" r="0.75" fill="#2f86d0" />
<circle cx="564.65" cy="656.44" r="0.75" fill="#2f86d0" />
<circle cx="569.70" cy="653.73" r="0.75" fill="#2f86d0" />
<circle cx="574.75" cy="651.21" r="0.75" fill="#2f86d0" />
<circle cx="579.80" cy="648.71" r="0.75" fill="#2f86d0" />
<circle cx="584.85" cy="646.69" r="0.75" fill="#2f86d0" />
<circle cx="589.90" cy="644.67" r="0.75" fill="#2f86d0" />
<circle cx="594.95" cy="642.45" r="0.75" fill="#2f86d0" />
<circle cx="600.00" cy="639.93" r="0.75" fill="#2f86d0" />
<circle cx="605.05" cy="637.40" r="0.75" fill="#2f86d0" />
<circle cx="610.10" cy="637.15" r="0.75" fill="#2f86d0" />
<circle cx="615.15" cy="637.78" r="0.75" fill="#2f86d0" />
<circle cx="620.20" cy="639.03" r="0.75" fill="#2f86d0" />
<circle cx="625.25" cy="640.71" r="0.75" fill="#2f86d0" />
<polyline points="448.50,668.72 453.55,668.72 458.60,668.72 463.65,668.72 468.70,668.72 473.75,668.72 478.80,668.72 483.85,668.72 488.90,668.72 493.95,668.72 499.00,668.72 504.05,668.72 509.10,668.72 514.15,668.72 519.20,668.72 524.25,668.72 529.30,668.72 534.35,668.72 539.40,668.72 544.45,668.72 549.50,668.72 554.55,667.42 559.60,663.99 564.65,660.55 569.70,655.97 574.75,650.92 579.80,645.99 584.85,643.47 589.90,640.94 594.95,639.57 600.00,638.31 605.05,638.24 610.10,638.49 615.15,638.45 620.20,638.24 625.25,638.04" fill="none" stroke="#79d0d4" stroke-width="1.0" stroke-linejoin="round" />
<circle cx="448.50" cy="668.72" r="0.75" fill="#79d0d4" />
<circle cx="453.55" cy="668.72" r="0.75" fill="#79d0d4" />
<circle cx="458.60" cy="668.72" r="0.75" fill="#79d0d4" />
<circle cx="463.65" cy="668.72" r="0.75" fill="#79d0d4" />
<circle cx="468.70" cy="668.72" r="0.75" fill="#79d0d4" />
<circle cx="473.75" cy="668.72" r="0.75" fill="#79d0d4" />
<circle cx="478.80" cy="668.72" r="0.75" fill="#79d0d4" />
<circle cx="483.85" cy="668.72" r="0.75" fill="#79d0d4" />
<circle cx="488.90" cy="668.72" r="0.75" fill="#79d0d4" />
<circle cx="493.95" cy="668.72" r="0.75" fill="#79d0d4" />
<circle cx="499.00" cy="668.72" r="0.75" fill="#79d0d4" />
<circle cx="504.05" cy="668.72" r="0.75" fill="#79d0d4" />
<circle cx="509.10" cy="668.72" r="0.75" fill="#79d0d4" />
<circle cx="514.15" cy="668.72" r="0.75" fill="#79d0d4" />
<circle cx="519.20" cy="668.72" r="0.75" fill="#79d0d4" />
<circle cx="524.25" cy="668.72" r="0.75" fill="#79d0d4" />
<circle cx="529.30" cy="668.72" r="0.75" fill="#79d0d4" />
<circle cx="534.35" cy="668.72" r="0.75" fill="#79d0d4" />
<circle cx="539.40" cy="668.72" r="0.75" fill="#79d0d4" />
<circle cx="544.45" cy="668.72" r="0.75" fill="#79d0d4" />
<circle cx="549.50" cy="668.72" r="0.75" fill="#79d0d4" />
<circle cx="554.55" cy="667.42" r="0.75" fill="#79d0d4" />
<circle cx="559.60" cy="663.99" r="0.75" fill="#79d0d4" />
<circle cx="564.65" cy="660.55" r="0.75" fill="#79d0d4" />
<circle cx="569.70" cy="655.97" r="0.75" fill="#79d0d4" />
<circle cx="574.75" cy="650.92" r="0.75" fill="#79d0d4" />
<circle cx="579.80" cy="645.99" r="0.75" fill="#79d0d4" />
<circle cx="584.85" cy="643.47" r="0.75" fill="#79d0d4" />
<circle cx="589.90" cy="640.94" r="0.75" fill="#79d0d4" />
<circle cx="594.95" cy="639.57" r="0.75" fill="#79d0d4" />
<circle cx="600.00" cy="638.31" r="0.75" fill="#79d0d4" />
<circle cx="605.05" cy="638.24" r="0.75" fill="#79d0d4" />
<circle cx="610.10" cy="638.49" r="0.75" fill="#79d0d4" />
<circle cx="615.15" cy="638.45" r="0.75" fill="#79d0d4" />
<circle cx="620.20" cy="638.24" r="0.75" fill="#79d0d4" />
<circle cx="625.25" cy="638.04" r="0.75" fill="#79d0d4" />
<polyline points="448.50,668.72 453.55,668.72 458.60,668.72 463.65,668.72 468.70,668.72 473.75,668.72 478.80,668.72 483.85,668.72 488.90,668.72 493.95,668.72 499.00,668.72 504.05,668.72 509.10,668.72 514.15,668.72 519.20,668.72 524.25,668.72 529.30,668.72 534.35,668.72 539.40,668.72 544.45,668.72 549.50,667.38 554.55,664.35 559.60,661.08 564.65,657.29 569.70,653.05 574.75,646.74 579.80,640.55 584.85,636.76 589.90,632.97 594.95,631.73 600.00,630.72 605.05,630.11 610.10,629.60 615.15,629.43 620.20,629.43 625.25,629.43" fill="none" stroke="#5ac6c8" stroke-width="1.0" stroke-linejoin="round" />
<circle cx="448.50" cy="668.72" r="0.75" fill="#5ac6c8" />
<circle cx="453.55" cy="668.72" r="0.75" fill="#5ac6c8" />
<circle cx="458.60" cy="668.72" r="0.75" fill="#5ac6c8" />
<circle cx="463.65" cy="668.72" r="0.75" fill="#5ac6c8" />
<circle cx="468.70" cy="668.72" r="0.75" fill="#5ac6c8" />
<circle cx="473.75" cy="668.72" r="0.75" fill="#5ac6c8" />
<circle cx="478.80" cy="668.72" r="0.75" fill="#5ac6c8" />
<circle cx="483.85" cy="668.72" r="0.75" fill="#5ac6c8" />
<circle cx="488.90" cy="668.72" r="0.75" fill="#5ac6c8" />
<circle cx="493.95" cy="668.72" r="0.75" fill="#5ac6c8" />
<circle cx="499.00" cy="668.72" r="0.75" fill="#5ac6c8" />
<circle cx="504.05" cy="668.72" r="0.75" fill="#5ac6c8" />
<circle cx="509.10" cy="668.72" r="0.75" fill="#5ac6c8" />
<circle cx="514.15" cy="668.72" r="0.75" fill="#5ac6c8" />
<circle cx="519.20" cy="668.72" r="0.75" fill="#5ac6c8" />
<circle cx="524.25" cy="668.72" r="0.75" fill="#5ac6c8" />
<circle cx="529.30" cy="668.72" r="0.75" fill="#5ac6c8" />
<circle cx="534.35" cy="668.72" r="0.75" fill="#5ac6c8" />
<circle cx="539.40" cy="668.72" r="0.75" fill="#5ac6c8" />
<circle cx="544.45" cy="668.72" r="0.75" fill="#5ac6c8" />
<circle cx="549.50" cy="667.38" r="0.75" fill="#5ac6c8" />
<circle cx="554.55" cy="664.35" r="0.75" fill="#5ac6c8" />
<circle cx="559.60" cy="661.08" r="0.75" fill="#5ac6c8" />
<circle cx="564.65" cy="657.29" r="0.75" fill="#5ac6c8" />
<circle cx="569.70" cy="653.05" r="0.75" fill="#5ac6c8" />
<circle cx="574.75" cy="646.74" r="0.75" fill="#5ac6c8" />
<circle cx="579.80" cy="640.55" r="0.75" fill="#5ac6c8" />
<circle cx="584.85" cy="636.76" r="0.75" fill="#5ac6c8" />
<circle cx="589.90" cy="632.97" r="0.75" fill="#5ac6c8" />
<circle cx="594.95" cy="631.73" r="0.75" fill="#5ac6c8" />
<circle cx="600.00" cy="630.72" r="0.75" fill="#5ac6c8" />
<circle cx="605.05" cy="630.11" r="0.75" fill="#5ac6c8" />
<circle cx="610.10" cy="629.60" r="0.75" fill="#5ac6c8" />
<circle cx="615.15" cy="629.43" r="0.75" fill="#5ac6c8" />
<circle cx="620.20" cy="629.43" r="0.75" fill="#5ac6c8" />
<circle cx="625.25" cy="629.43" r="0.75" fill="#5ac6c8" />
<polyline points="448.50,668.72 453.55,668.72 458.60,668.72 463.65,668.72 468.70,668.72 473.75,668.72 478.80,668.72 483.85,668.72 488.90,668.72 493.95,668.72 499.00,668.72 504.05,668.72 509.10,668.72 514.15,668.72 519.20,668.72 524.25,668.72 529.30,668.72 534.35,668.46 539.40,666.03 544.45,663.61 549.50,660.58 554.55,656.79 559.60,653.56 564.65,651.54 569.70,649.52 574.75,648.15 579.80,647.14 584.85,646.13 589.90,644.13 594.95,642.11 600.00,641.70 605.05,644.73 610.10,647.76 615.15,650.26 620.20,652.48 625.25,654.70" fill="none" stroke="#3f90d8" stroke-width="1.0" stroke-linejoin="round" />
<circle cx="448.50" cy="668.72" r="0.75" fill="#3f90d8" />
<circle cx="453.55" cy="668.72" r="0.75" fill="#3f90d8" />
<circle cx="458.60" cy="668.72" r="0.75" fill="#3f90d8" />
<circle cx="463.65" cy="668.72" r="0.75" fill="#3f90d8" />
<circle cx="468.70" cy="668.72" r="0.75" fill="#3f90d8" />
<circle cx="473.75" cy="668.72" r="0.75" fill="#3f90d8" />
<circle cx="478.80" cy="668.72" r="0.75" fill="#3f90d8" />
<circle cx="483.85" cy="668.72" r="0.75" fill="#3f90d8" />
<circle cx="488.90" cy="668.72" r="0.75" fill="#3f90d8" />
<circle cx="493.95" cy="668.72" r="0.75" fill="#3f90d8" />
<circle cx="499.00" cy="668.72" r="0.75" fill="#3f90d8" />
<circle cx="504.05" cy="668.72" r="0.75" fill="#3f90d8" />
<circle cx="509.10" cy="668.72" r="0.75" fill="#3f90d8" />
<circle cx="514.15" cy="668.72" r="0.75" fill="#3f90d8" />
<circle cx="519.20" cy="668.72" r="0.75" fill="#3f90d8" />
<circle cx="524.25" cy="668.72" r="0.75" fill="#3f90d8" />
<circle cx="529.30" cy="668.72" r="0.75" fill="#3f90d8" />
<circle cx="534.35" cy="668.46" r="0.75" fill="#3f90d8" />
<circle cx="539.40" cy="666.03" r="0.75" fill="#3f90d8" />
<circle cx="544.45" cy="663.61" r="0.75" fill="#3f90d8" />
<circle cx="549.50" cy="660.58" r="0.75" fill="#3f90d8" />
<circle cx="554.55" cy="656.79" r="0.75" fill="#3f90d8" />
<circle cx="559.60" cy="653.56" r="0.75" fill="#3f90d8" />
<circle cx="564.65" cy="651.54" r="0.75" fill="#3f90d8" />
<circle cx="569.70" cy="649.52" r="0.75" fill="#3f90d8" />
<circle cx="574.75" cy="648.15" r="0.75" fill="#3f90d8" />
<circle cx="579.80" cy="647.14" r="0.75" fill="#3f90d8" />
<circle cx="584.85" cy="646.13" r="0.75" fill="#3f90d8" />
<circle cx="589.90" cy="644.13" r="0.75" fill="#3f90d8" />
<circle cx="594.95" cy="642.11" r="0.75" fill="#3f90d8" />
<circle cx="600.00" cy="641.70" r="0.75" fill="#3f90d8" />
<circle cx="605.05" cy="644.73" r="0.75" fill="#3f90d8" />
<circle cx="610.10" cy="647.76" r="0.75" fill="#3f90d8" />
<circle cx="615.15" cy="650.26" r="0.75" fill="#3f90d8" />
<circle cx="620.20" cy="652.48" r="0.75" fill="#3f90d8" />
<circle cx="625.25" cy="654.70" r="0.75" fill="#3f90d8" />
<polyline points="448.50,668.72 453.55,668.72 458.60,668.72 463.65,668.72 468.70,668.72 473.75,668.72 478.80,668.72 483.85,668.72 488.90,668.72 493.95,668.72 499.00,668.72 504.05,668.72 509.10,668.72 514.15,668.72 519.20,668.72 524.25,668.72 529.30,668.72 534.35,668.72 539.40,667.79 544.45,666.17 549.50,664.56 554.55,662.34 559.60,660.07 564.65,657.11 569.70,653.95 574.75,650.80 579.80,647.64 584.85,644.81 589.90,642.29 594.95,639.76 600.00,637.24 605.05,635.19 610.10,634.56 615.15,634.16 620.20,635.42 625.25,636.68" fill="none" stroke="#2c6ac0" stroke-width="1.0" stroke-linejoin="round" />
<circle cx="448.50" cy="668.72" r="0.75" fill="#2c6ac0" />
<circle cx="453.55" cy="668.72" r="0.75" fill="#2c6ac0" />
<circle cx="458.60" cy="668.72" r="0.75" fill="#2c6ac0" />
<circle cx="463.65" cy="668.72" r="0.75" fill="#2c6ac0" />
<circle cx="468.70" cy="668.72" r="0.75" fill="#2c6ac0" />
<circle cx="473.75" cy="668.72" r="0.75" fill="#2c6ac0" />
<circle cx="478.80" cy="668.72" r="0.75" fill="#2c6ac0" />
<circle cx="483.85" cy="668.72" r="0.75" fill="#2c6ac0" />
<circle cx="488.90" cy="668.72" r="0.75" fill="#2c6ac0" />
<circle cx="493.95" cy="668.72" r="0.75" fill="#2c6ac0" />
<circle cx="499.00" cy="668.72" r="0.75" fill="#2c6ac0" />
<circle cx="504.05" cy="668.72" r="0.75" fill="#2c6ac0" />
<circle cx="509.10" cy="668.72" r="0.75" fill="#2c6ac0" />
<circle cx="514.15" cy="668.72" r="0.75" fill="#2c6ac0" />
<circle cx="519.20" cy="668.72" r="0.75" fill="#2c6ac0" />
<circle cx="524.25" cy="668.72" r="0.75" fill="#2c6ac0" />
<circle cx="529.30" cy="668.72" r="0.75" fill="#2c6ac0" />
<circle cx="534.35" cy="668.72" r="0.75" fill="#2c6ac0" />
<circle cx="539.40" cy="667.79" r="0.75" fill="#2c6ac0" />
<circle cx="544.45" cy="666.17" r="0.75" fill="#2c6ac0" />
<circle cx="549.50" cy="664.56" r="0.75" fill="#2c6ac0" />
<circle cx="554.55" cy="662.34" r="0.75" fill="#2c6ac0" />
<circle cx="559.60" cy="660.07" r="0.75" fill="#2c6ac0" />
<circle cx="564.65" cy="657.11" r="0.75" fill="#2c6ac0" />
<circle cx="569.70" cy="653.95" r="0.75" fill="#2c6ac0" />
<circle cx="574.75" cy="650.80" r="0.75" fill="#2c6ac0" />
<circle cx="579.80" cy="647.64" r="0.75" fill="#2c6ac0" />
<circle cx="584.85" cy="644.81" r="0.75" fill="#2c6ac0" />
<circle cx="589.90" cy="642.29" r="0.75" fill="#2c6ac0" />
<circle cx="594.95" cy="639.76" r="0.75" fill="#2c6ac0" />
<circle cx="600.00" cy="637.24" r="0.75" fill="#2c6ac0" />
<circle cx="605.05" cy="635.19" r="0.75" fill="#2c6ac0" />
<circle cx="610.10" cy="634.56" r="0.75" fill="#2c6ac0" />
<circle cx="615.15" cy="634.16" r="0.75" fill="#2c6ac0" />
<circle cx="620.20" cy="635.42" r="0.75" fill="#2c6ac0" />
<circle cx="625.25" cy="636.68" r="0.75" fill="#2c6ac0" />
<polyline points="448.50,668.72 453.55,668.72 458.60,668.72 463.65,668.72 468.70,668.72 473.75,668.72 478.80,668.72 483.85,668.72 488.90,668.72 493.95,668.72 499.00,668.72 504.05,668.72 509.10,668.72 514.15,668.72 519.20,668.72 524.25,668.72 529.30,667.36 534.35,665.44 539.40,663.47 544.45,660.32 549.50,657.16 554.55,653.43 559.60,649.64 564.65,646.35 569.70,643.19 574.75,641.10 579.80,639.58 584.85,638.07 589.90,636.80 594.95,635.54 600.00,634.06 605.05,632.54 610.10,631.39 615.15,630.38 620.20,630.96 625.25,632.64" fill="none" stroke="#45c6da" stroke-width="1.0" stroke-linejoin="round" />
<circle cx="448.50" cy="668.72" r="0.75" fill="#45c6da" />
<circle cx="453.55" cy="668.72" r="0.75" fill="#45c6da" />
<circle cx="458.60" cy="668.72" r="0.75" fill="#45c6da" />
<circle cx="463.65" cy="668.72" r="0.75" fill="#45c6da" />
<circle cx="468.70" cy="668.72" r="0.75" fill="#45c6da" />
<circle cx="473.75" cy="668.72" r="0.75" fill="#45c6da" />
<circle cx="478.80" cy="668.72" r="0.75" fill="#45c6da" />
<circle cx="483.85" cy="668.72" r="0.75" fill="#45c6da" />
<circle cx="488.90" cy="668.72" r="0.75" fill="#45c6da" />
<circle cx="493.95" cy="668.72" r="0.75" fill="#45c6da" />
<circle cx="499.00" cy="668.72" r="0.75" fill="#45c6da" />
<circle cx="504.05" cy="668.72" r="0.75" fill="#45c6da" />
<circle cx="509.10" cy="668.72" r="0.75" fill="#45c6da" />
<circle cx="514.15" cy="668.72" r="0.75" fill="#45c6da" />
<circle cx="519.20" cy="668.72" r="0.75" fill="#45c6da" />
<circle cx="524.25" cy="668.72" r="0.75" fill="#45c6da" />
<circle cx="529.30" cy="667.36" r="0.75" fill="#45c6da" />
<circle cx="534.35" cy="665.44" r="0.75" fill="#45c6da" />
<circle cx="539.40" cy="663.47" r="0.75" fill="#45c6da" />
<circle cx="544.45" cy="660.32" r="0.75" fill="#45c6da" />
<circle cx="549.50" cy="657.16" r="0.75" fill="#45c6da" />
<circle cx="554.55" cy="653.43" r="0.75" fill="#45c6da" />
<circle cx="559.60" cy="649.64" r="0.75" fill="#45c6da" />
<circle cx="564.65" cy="646.35" r="0.75" fill="#45c6da" />
<circle cx="569.70" cy="643.19" r="0.75" fill="#45c6da" />
<circle cx="574.75" cy="641.10" r="0.75" fill="#45c6da" />
<circle cx="579.80" cy="639.58" r="0.75" fill="#45c6da" />
<circle cx="584.85" cy="638.07" r="0.75" fill="#45c6da" />
<circle cx="589.90" cy="636.80" r="0.75" fill="#45c6da" />
<circle cx="594.95" cy="635.54" r="0.75" fill="#45c6da" />
<circle cx="600.00" cy="634.06" r="0.75" fill="#45c6da" />
<circle cx="605.05" cy="632.54" r="0.75" fill="#45c6da" />
<circle cx="610.10" cy="631.39" r="0.75" fill="#45c6da" />
<circle cx="615.15" cy="630.38" r="0.75" fill="#45c6da" />
<circle cx="620.20" cy="630.96" r="0.75" fill="#45c6da" />
<circle cx="625.25" cy="632.64" r="0.75" fill="#45c6da" />
<polyline points="448.50,668.72 453.55,668.72 458.60,668.72 463.65,668.72 468.70,668.72 473.75,668.72 478.80,668.72 483.85,668.72 488.90,668.72 493.95,668.72 499.00,668.72 504.05,668.72 509.10,668.72 514.15,668.72 519.20,668.72 524.25,668.72 529.30,668.39 534.35,666.47 539.40,664.55 544.45,661.68 549.50,657.89 554.55,654.20 559.60,650.66 564.65,647.13 569.70,644.31 574.75,641.79 579.80,639.26 584.85,636.74 589.90,634.21 594.95,632.50 600.00,630.86 605.05,630.31 610.10,630.06 615.15,629.84 620.20,629.63 625.25,629.43" fill="none" stroke="#3a7fd0" stroke-width="1.0" stroke-linejoin="round" />
<circle cx="448.50" cy="668.72" r="0.75" fill="#3a7fd0" />
<circle cx="453.55" cy="668.72" r="0.75" fill="#3a7fd0" />
<circle cx="458.60" cy="668.72" r="0.75" fill="#3a7fd0" />
<circle cx="463.65" cy="668.72" r="0.75" fill="#3a7fd0" />
<circle cx="468.70" cy="668.72" r="0.75" fill="#3a7fd0" />
<circle cx="473.75" cy="668.72" r="0.75" fill="#3a7fd0" />
<circle cx="478.80" cy="668.72" r="0.75" fill="#3a7fd0" />
<circle cx="483.85" cy="668.72" r="0.75" fill="#3a7fd0" />
<circle cx="488.90" cy="668.72" r="0.75" fill="#3a7fd0" />
<circle cx="493.95" cy="668.72" r="0.75" fill="#3a7fd0" />
<circle cx="499.00" cy="668.72" r="0.75" fill="#3a7fd0" />
<circle cx="504.05" cy="668.72" r="0.75" fill="#3a7fd0" />
<circle cx="509.10" cy="668.72" r="0.75" fill="#3a7fd0" />
<circle cx="514.15" cy="668.72" r="0.75" fill="#3a7fd0" />
<circle cx="519.20" cy="668.72" r="0.75" fill="#3a7fd0" />
<circle cx="524.25" cy="668.72" r="0.75" fill="#3a7fd0" />
<circle cx="529.30" cy="668.39" r="0.75" fill="#3a7fd0" />
<circle cx="534.35" cy="666.47" r="0.75" fill="#3a7fd0" />
<circle cx="539.40" cy="664.55" r="0.75" fill="#3a7fd0" />
<circle cx="544.45" cy="661.68" r="0.75" fill="#3a7fd0" />
<circle cx="549.50" cy="657.89" r="0.75" fill="#3a7fd0" />
<circle cx="554.55" cy="654.20" r="0.75" fill="#3a7fd0" />
<circle cx="559.60" cy="650.66" r="0.75" fill="#3a7fd0" />
<circle cx="564.65" cy="647.13" r="0.75" fill="#3a7fd0" />
<circle cx="569.70" cy="644.31" r="0.75" fill="#3a7fd0" />
<circle cx="574.75" cy="641.79" r="0.75" fill="#3a7fd0" />
<circle cx="579.80" cy="639.26" r="0.75" fill="#3a7fd0" />
<circle cx="584.85" cy="636.74" r="0.75" fill="#3a7fd0" />
<circle cx="589.90" cy="634.21" r="0.75" fill="#3a7fd0" />
<circle cx="594.95" cy="632.50" r="0.75" fill="#3a7fd0" />
<circle cx="600.00" cy="630.86" r="0.75" fill="#3a7fd0" />
<circle cx="605.05" cy="630.31" r="0.75" fill="#3a7fd0" />
<circle cx="610.10" cy="630.06" r="0.75" fill="#3a7fd0" />
<circle cx="615.15" cy="629.84" r="0.75" fill="#3a7fd0" />
<circle cx="620.20" cy="629.63" r="0.75" fill="#3a7fd0" />
<circle cx="625.25" cy="629.43" r="0.75" fill="#3a7fd0" />
<polyline points="448.50,668.72 453.55,668.72 458.60,668.72 463.65,668.72 468.70,668.72 473.75,668.72 478.80,668.72 483.85,668.72 488.90,668.72 493.95,668.72 499.00,668.72 504.05,668.72 509.10,668.72 514.15,668.72 519.20,668.72 524.25,668.72 529.30,668.72 534.35,667.17 539.40,664.74 544.45,662.32 549.50,657.33 554.55,652.28 559.60,647.23 564.65,642.18 569.70,638.03 574.75,634.24 579.80,631.19 584.85,628.66 589.90,626.71 594.95,625.45 600.00,623.98 605.05,622.09 610.10,619.92 615.15,616.55 620.20,615.17 625.25,615.17" fill="none" stroke="#2ba6e0" stroke-width="1.0" stroke-linejoin="round" />
<circle cx="448.50" cy="668.72" r="0.75" fill="#2ba6e0" />
<circle cx="453.55" cy="668.72" r="0.75" fill="#2ba6e0" />
<circle cx="458.60" cy="668.72" r="0.75" fill="#2ba6e0" />
<circle cx="463.65" cy="668.72" r="0.75" fill="#2ba6e0" />
<circle cx="468.70" cy="668.72" r="0.75" fill="#2ba6e0" />
<circle cx="473.75" cy="668.72" r="0.75" fill="#2ba6e0" />
<circle cx="478.80" cy="668.72" r="0.75" fill="#2ba6e0" />
<circle cx="483.85" cy="668.72" r="0.75" fill="#2ba6e0" />
<circle cx="488.90" cy="668.72" r="0.75" fill="#2ba6e0" />
<circle cx="493.95" cy="668.72" r="0.75" fill="#2ba6e0" />
<circle cx="499.00" cy="668.72" r="0.75" fill="#2ba6e0" />
<circle cx="504.05" cy="668.72" r="0.75" fill="#2ba6e0" />
<circle cx="509.10" cy="668.72" r="0.75" fill="#2ba6e0" />
<circle cx="514.15" cy="668.72" r="0.75" fill="#2ba6e0" />
<circle cx="519.20" cy="668.72" r="0.75" fill="#2ba6e0" />
<circle cx="524.25" cy="668.72" r="0.75" fill="#2ba6e0" />
<circle cx="529.30" cy="668.72" r="0.75" fill="#2ba6e0" />
<circle cx="534.35" cy="667.17" r="0.75" fill="#2ba6e0" />
<circle cx="539.40" cy="664.74" r="0.75" fill="#2ba6e0" />
<circle cx="544.45" cy="662.32" r="0.75" fill="#2ba6e0" />
<circle cx="549.50" cy="657.33" r="0.75" fill="#2ba6e0" />
<circle cx="554.55" cy="652.28" r="0.75" fill="#2ba6e0" />
<circle cx="559.60" cy="647.23" r="0.75" fill="#2ba6e0" />
<circle cx="564.65" cy="642.18" r="0.75" fill="#2ba6e0" />
<circle cx="569.70" cy="638.03" r="0.75" fill="#2ba6e0" />
<circle cx="574.75" cy="634.24" r="0.75" fill="#2ba6e0" />
<circle cx="579.80" cy="631.19" r="0.75" fill="#2ba6e0" />
<circle cx="584.85" cy="628.66" r="0.75" fill="#2ba6e0" />
<circle cx="589.90" cy="626.71" r="0.75" fill="#2ba6e0" />
<circle cx="594.95" cy="625.45" r="0.75" fill="#2ba6e0" />
<circle cx="600.00" cy="623.98" r="0.75" fill="#2ba6e0" />
<circle cx="605.05" cy="622.09" r="0.75" fill="#2ba6e0" />
<circle cx="610.10" cy="619.92" r="0.75" fill="#2ba6e0" />
<circle cx="615.15" cy="616.55" r="0.75" fill="#2ba6e0" />
<circle cx="620.20" cy="615.17" r="0.75" fill="#2ba6e0" />
<circle cx="625.25" cy="615.17" r="0.75" fill="#2ba6e0" />
<polyline points="448.50,668.19 453.55,668.21 458.60,668.22 463.65,668.24 468.70,668.25 473.75,668.27 478.80,668.28 483.85,668.30 488.90,668.31 493.95,668.33 499.00,668.34 504.05,668.36 509.10,668.38 514.15,668.39 519.20,668.41 524.25,668.42 529.30,668.44 534.35,668.09 539.40,664.76 544.45,661.42 549.50,657.89 554.55,654.10 559.60,649.92 564.65,644.87 569.70,640.28 574.75,637.75 579.80,635.16 584.85,631.38 589.90,627.59 594.95,624.96 600.00,622.44 605.05,618.42 610.10,614.00 615.15,609.72 620.20,605.64 625.25,603.62" fill="none" stroke="#3fbcc4" stroke-width="1.0" stroke-linejoin="round" />
<circle cx="448.50" cy="668.19" r="0.75" fill="#3fbcc4" />
<circle cx="453.55" cy="668.21" r="0.75" fill="#3fbcc4" />
<circle cx="458.60" cy="668.22" r="0.75" fill="#3fbcc4" />
<circle cx="463.65" cy="668.24" r="0.75" fill="#3fbcc4" />
<circle cx="468.70" cy="668.25" r="0.75" fill="#3fbcc4" />
<circle cx="473.75" cy="668.27" r="0.75" fill="#3fbcc4" />
<circle cx="478.80" cy="668.28" r="0.75" fill="#3fbcc4" />
<circle cx="483.85" cy="668.30" r="0.75" fill="#3fbcc4" />
<circle cx="488.90" cy="668.31" r="0.75" fill="#3fbcc4" />
<circle cx="493.95" cy="668.33" r="0.75" fill="#3fbcc4" />
<circle cx="499.00" cy="668.34" r="0.75" fill="#3fbcc4" />
<circle cx="504.05" cy="668.36" r="0.75" fill="#3fbcc4" />
<circle cx="509.10" cy="668.38" r="0.75" fill="#3fbcc4" />
<circle cx="514.15" cy="668.39" r="0.75" fill="#3fbcc4" />
<circle cx="519.20" cy="668.41" r="0.75" fill="#3fbcc4" />
<circle cx="524.25" cy="668.42" r="0.75" fill="#3fbcc4" />
<circle cx="529.30" cy="668.44" r="0.75" fill="#3fbcc4" />
<circle cx="534.35" cy="668.09" r="0.75" fill="#3fbcc4" />
<circle cx="539.40" cy="664.76" r="0.75" fill="#3fbcc4" />
<circle cx="544.45" cy="661.42" r="0.75" fill="#3fbcc4" />
<circle cx="549.50" cy="657.89" r="0.75" fill="#3fbcc4" />
<circle cx="554.55" cy="654.10" r="0.75" fill="#3fbcc4" />
<circle cx="559.60" cy="649.92" r="0.75" fill="#3fbcc4" />
<circle cx="564.65" cy="644.87" r="0.75" fill="#3fbcc4" />
<circle cx="569.70" cy="640.28" r="0.75" fill="#3fbcc4" />
<circle cx="574.75" cy="637.75" r="0.75" fill="#3fbcc4" />
<circle cx="579.80" cy="635.16" r="0.75" fill="#3fbcc4" />
<circle cx="584.85" cy="631.38" r="0.75" fill="#3fbcc4" />
<circle cx="589.90" cy="627.59" r="0.75" fill="#3fbcc4" />
<circle cx="594.95" cy="624.96" r="0.75" fill="#3fbcc4" />
<circle cx="600.00" cy="622.44" r="0.75" fill="#3fbcc4" />
<circle cx="605.05" cy="618.42" r="0.75" fill="#3fbcc4" />
<circle cx="610.10" cy="614.00" r="0.75" fill="#3fbcc4" />
<circle cx="615.15" cy="609.72" r="0.75" fill="#3fbcc4" />
<circle cx="620.20" cy="605.64" r="0.75" fill="#3fbcc4" />
<circle cx="625.25" cy="603.62" r="0.75" fill="#3fbcc4" />
<polyline points="448.50,667.94 453.55,667.97 458.60,668.00 463.65,668.04 468.70,668.07 473.75,668.10 478.80,668.14 483.85,668.17 488.90,668.20 493.95,668.24 499.00,668.27 504.05,668.31 509.10,668.34 514.15,668.37 519.20,668.41 524.25,668.44 529.30,665.89 534.35,662.27 539.40,658.65 544.45,653.02 549.50,645.45 554.55,638.11 559.60,631.17 564.65,625.00 569.70,621.21 574.75,617.06 579.80,610.12 584.85,603.17 589.90,598.09 594.95,593.04 600.00,591.22 605.05,589.96 610.10,591.42 615.15,593.94 620.20,593.20 625.25,590.17" fill="none" stroke="#56c4c6" stroke-width="1.0" stroke-linejoin="round" />
<circle cx="448.50" cy="667.94" r="0.75" fill="#56c4c6" />
<circle cx="453.55" cy="667.97" r="0.75" fill="#56c4c6" />
<circle cx="458.60" cy="668.00" r="0.75" fill="#56c4c6" />
<circle cx="463.65" cy="668.04" r="0.75" fill="#56c4c6" />
<circle cx="468.70" cy="668.07" r="0.75" fill="#56c4c6" />
<circle cx="473.75" cy="668.10" r="0.75" fill="#56c4c6" />
<circle cx="478.80" cy="668.14" r="0.75" fill="#56c4c6" />
<circle cx="483.85" cy="668.17" r="0.75" fill="#56c4c6" />
<circle cx="488.90" cy="668.20" r="0.75" fill="#56c4c6" />
<circle cx="493.95" cy="668.24" r="0.75" fill="#56c4c6" />
<circle cx="499.00" cy="668.27" r="0.75" fill="#56c4c6" />
<circle cx="504.05" cy="668.31" r="0.75" fill="#56c4c6" />
<circle cx="509.10" cy="668.34" r="0.75" fill="#56c4c6" />
<circle cx="514.15" cy="668.37" r="0.75" fill="#56c4c6" />
<circle cx="519.20" cy="668.41" r="0.75" fill="#56c4c6" />
<circle cx="524.25" cy="668.44" r="0.75" fill="#56c4c6" />
<circle cx="529.30" cy="665.89" r="0.75" fill="#56c4c6" />
<circle cx="534.35" cy="662.27" r="0.75" fill="#56c4c6" />
<circle cx="539.40" cy="658.65" r="0.75" fill="#56c4c6" />
<circle cx="544.45" cy="653.02" r="0.75" fill="#56c4c6" />
<circle cx="549.50" cy="645.45" r="0.75" fill="#56c4c6" />
<circle cx="554.55" cy="638.11" r="0.75" fill="#56c4c6" />
<circle cx="559.60" cy="631.17" r="0.75" fill="#56c4c6" />
<circle cx="564.65" cy="625.00" r="0.75" fill="#56c4c6" />
<circle cx="569.70" cy="621.21" r="0.75" fill="#56c4c6" />
<circle cx="574.75" cy="617.06" r="0.75" fill="#56c4c6" />
<circle cx="579.80" cy="610.12" r="0.75" fill="#56c4c6" />
<circle cx="584.85" cy="603.17" r="0.75" fill="#56c4c6" />
<circle cx="589.90" cy="598.09" r="0.75" fill="#56c4c6" />
<circle cx="594.95" cy="593.04" r="0.75" fill="#56c4c6" />
<circle cx="600.00" cy="591.22" r="0.75" fill="#56c4c6" />
<circle cx="605.05" cy="589.96" r="0.75" fill="#56c4c6" />
<circle cx="610.10" cy="591.42" r="0.75" fill="#56c4c6" />
<circle cx="615.15" cy="593.94" r="0.75" fill="#56c4c6" />
<circle cx="620.20" cy="593.20" r="0.75" fill="#56c4c6" />
<circle cx="625.25" cy="590.17" r="0.75" fill="#56c4c6" />
<polyline points="448.50,667.94 453.55,667.97 458.60,668.01 463.65,668.04 468.70,668.08 473.75,668.12 478.80,668.15 483.85,668.19 488.90,668.23 493.95,668.26 499.00,668.30 504.05,668.33 509.10,668.37 514.15,668.41 519.20,668.44 524.25,663.70 529.30,657.56 534.35,651.42 539.40,646.63 544.45,642.84 549.50,639.33 554.55,636.18 559.60,633.11 564.65,630.25 569.70,627.27 574.75,624.30 579.80,621.22 584.85,607.33 589.90,602.75 594.95,598.33 600.00,596.06 605.05,594.17 610.10,590.00 615.15,584.95 620.20,578.61 625.25,571.38" fill="none" stroke="#6ccfd0" stroke-width="1.0" stroke-linejoin="round" />
<circle cx="448.50" cy="667.94" r="0.75" fill="#6ccfd0" />
<circle cx="453.55" cy="667.97" r="0.75" fill="#6ccfd0" />
<circle cx="458.60" cy="668.01" r="0.75" fill="#6ccfd0" />
<circle cx="463.65" cy="668.04" r="0.75" fill="#6ccfd0" />
<circle cx="468.70" cy="668.08" r="0.75" fill="#6ccfd0" />
<circle cx="473.75" cy="668.12" r="0.75" fill="#6ccfd0" />
<circle cx="478.80" cy="668.15" r="0.75" fill="#6ccfd0" />
<circle cx="483.85" cy="668.19" r="0.75" fill="#6ccfd0" />
<circle cx="488.90" cy="668.23" r="0.75" fill="#6ccfd0" />
<circle cx="493.95" cy="668.26" r="0.75" fill="#6ccfd0" />
<circle cx="499.00" cy="668.30" r="0.75" fill="#6ccfd0" />
<circle cx="504.05" cy="668.33" r="0.75" fill="#6ccfd0" />
<circle cx="509.10" cy="668.37" r="0.75" fill="#6ccfd0" />
<circle cx="514.15" cy="668.41" r="0.75" fill="#6ccfd0" />
<circle cx="519.20" cy="668.44" r="0.75" fill="#6ccfd0" />
<circle cx="524.25" cy="663.70" r="0.75" fill="#6ccfd0" />
<circle cx="529.30" cy="657.56" r="0.75" fill="#6ccfd0" />
<circle cx="534.35" cy="651.42" r="0.75" fill="#6ccfd0" />
<circle cx="539.40" cy="646.63" r="0.75" fill="#6ccfd0" />
<circle cx="544.45" cy="642.84" r="0.75" fill="#6ccfd0" />
<circle cx="549.50" cy="639.33" r="0.75" fill="#6ccfd0" />
<circle cx="554.55" cy="636.18" r="0.75" fill="#6ccfd0" />
<circle cx="559.60" cy="633.11" r="0.75" fill="#6ccfd0" />
<circle cx="564.65" cy="630.25" r="0.75" fill="#6ccfd0" />
<circle cx="569.70" cy="627.27" r="0.75" fill="#6ccfd0" />
<circle cx="574.75" cy="624.30" r="0.75" fill="#6ccfd0" />
<circle cx="579.80" cy="621.22" r="0.75" fill="#6ccfd0" />
<circle cx="584.85" cy="607.33" r="0.75" fill="#6ccfd0" />
<circle cx="589.90" cy="602.75" r="0.75" fill="#6ccfd0" />
<circle cx="594.95" cy="598.33" r="0.75" fill="#6ccfd0" />
<circle cx="600.00" cy="596.06" r="0.75" fill="#6ccfd0" />
<circle cx="605.05" cy="594.17" r="0.75" fill="#6ccfd0" />
<circle cx="610.10" cy="590.00" r="0.75" fill="#6ccfd0" />
<circle cx="615.15" cy="584.95" r="0.75" fill="#6ccfd0" />
<circle cx="620.20" cy="578.61" r="0.75" fill="#6ccfd0" />
<circle cx="625.25" cy="571.38" r="0.75" fill="#6ccfd0" />
<polyline points="448.50,667.94 453.55,667.99 458.60,668.03 463.65,668.07 468.70,668.12 473.75,668.16 478.80,668.21 483.85,668.25 488.90,668.29 493.95,668.34 499.00,668.38 504.05,668.43 509.10,666.02 514.15,660.47 519.20,655.34 524.25,650.29 529.30,643.01 534.35,634.80 539.40,625.51 544.45,615.41 549.50,611.47 554.55,607.68 559.60,607.73 564.65,609.25 569.70,610.98 574.75,609.28 579.80,601.38 584.85,594.65 589.90,589.58 594.95,586.55 600.00,587.25 605.05,587.94 610.10,587.38 615.15,589.91 620.20,590.95 625.25,590.95" fill="none" stroke="#4cc0c4" stroke-width="1.0" stroke-linejoin="round" />
<circle cx="448.50" cy="667.94" r="0.75" fill="#4cc0c4" />
<circle cx="453.55" cy="667.99" r="0.75" fill="#4cc0c4" />
<circle cx="458.60" cy="668.03" r="0.75" fill="#4cc0c4" />
<circle cx="463.65" cy="668.07" r="0.75" fill="#4cc0c4" />
<circle cx="468.70" cy="668.12" r="0.75" fill="#4cc0c4" />
<circle cx="473.75" cy="668.16" r="0.75" fill="#4cc0c4" />
<circle cx="478.80" cy="668.21" r="0.75" fill="#4cc0c4" />
<circle cx="483.85" cy="668.25" r="0.75" fill="#4cc0c4" />
<circle cx="488.90" cy="668.29" r="0.75" fill="#4cc0c4" />
<circle cx="493.95" cy="668.34" r="0.75" fill="#4cc0c4" />
<circle cx="499.00" cy="668.38" r="0.75" fill="#4cc0c4" />
<circle cx="504.05" cy="668.43" r="0.75" fill="#4cc0c4" />
<circle cx="509.10" cy="666.02" r="0.75" fill="#4cc0c4" />
<circle cx="514.15" cy="660.47" r="0.75" fill="#4cc0c4" />
<circle cx="519.20" cy="655.34" r="0.75" fill="#4cc0c4" />
<circle cx="524.25" cy="650.29" r="0.75" fill="#4cc0c4" />
<circle cx="529.30" cy="643.01" r="0.75" fill="#4cc0c4" />
<circle cx="534.35" cy="634.80" r="0.75" fill="#4cc0c4" />
<circle cx="539.40" cy="625.51" r="0.75" fill="#4cc0c4" />
<circle cx="544.45" cy="615.41" r="0.75" fill="#4cc0c4" />
<circle cx="549.50" cy="611.47" r="0.75" fill="#4cc0c4" />
<circle cx="554.55" cy="607.68" r="0.75" fill="#4cc0c4" />
<circle cx="559.60" cy="607.73" r="0.75" fill="#4cc0c4" />
<circle cx="564.65" cy="609.25" r="0.75" fill="#4cc0c4" />
<circle cx="569.70" cy="610.98" r="0.75" fill="#4cc0c4" />
<circle cx="574.75" cy="609.28" r="0.75" fill="#4cc0c4" />
<circle cx="579.80" cy="601.38" r="0.75" fill="#4cc0c4" />
<circle cx="584.85" cy="594.65" r="0.75" fill="#4cc0c4" />
<circle cx="589.90" cy="589.58" r="0.75" fill="#4cc0c4" />
<circle cx="594.95" cy="586.55" r="0.75" fill="#4cc0c4" />
<circle cx="600.00" cy="587.25" r="0.75" fill="#4cc0c4" />
<circle cx="605.05" cy="587.94" r="0.75" fill="#4cc0c4" />
<circle cx="610.10" cy="587.38" r="0.75" fill="#4cc0c4" />
<circle cx="615.15" cy="589.91" r="0.75" fill="#4cc0c4" />
<circle cx="620.20" cy="590.95" r="0.75" fill="#4cc0c4" />
<circle cx="625.25" cy="590.95" r="0.75" fill="#4cc0c4" />
<polyline points="448.50,668.05 453.55,668.25 458.60,668.46 463.65,668.66 468.70,660.28 473.75,668.72 478.80,668.72 483.85,652.22 488.90,656.86 493.95,656.51 499.00,654.15 504.05,651.15 509.10,647.78 514.15,639.63 519.20,631.26 524.25,629.84 529.30,630.00 534.35,631.72 539.40,634.93 544.45,637.79 549.50,639.95 554.55,641.21 559.60,642.59 564.65,644.23 569.70,645.61 574.75,645.77 579.80,645.94 584.85,646.11 589.90,645.87 594.95,645.61 600.00,644.18 605.05,642.54 610.10,641.62 615.15,640.99 620.20,640.53 625.25,640.20" fill="none" stroke="#5ec8c8" stroke-width="1.0" stroke-linejoin="round" />
<circle cx="448.50" cy="668.05" r="0.75" fill="#5ec8c8" />
<circle cx="453.55" cy="668.25" r="0.75" fill="#5ec8c8" />
<circle cx="458.60" cy="668.46" r="0.75" fill="#5ec8c8" />
<circle cx="463.65" cy="668.66" r="0.75" fill="#5ec8c8" />
<circle cx="468.70" cy="660.28" r="0.75" fill="#5ec8c8" />
<circle cx="473.75" cy="668.72" r="0.75" fill="#5ec8c8" />
<circle cx="478.80" cy="668.72" r="0.75" fill="#5ec8c8" />
<circle cx="483.85" cy="652.22" r="0.75" fill="#5ec8c8" />
<circle cx="488.90" cy="656.86" r="0.75" fill="#5ec8c8" />
<circle cx="493.95" cy="656.51" r="0.75" fill="#5ec8c8" />
<circle cx="499.00" cy="654.15" r="0.75" fill="#5ec8c8" />
<circle cx="504.05" cy="651.15" r="0.75" fill="#5ec8c8" />
<circle cx="509.10" cy="647.78" r="0.75" fill="#5ec8c8" />
<circle cx="514.15" cy="639.63" r="0.75" fill="#5ec8c8" />
<circle cx="519.20" cy="631.26" r="0.75" fill="#5ec8c8" />
<circle cx="524.25" cy="629.84" r="0.75" fill="#5ec8c8" />
<circle cx="529.30" cy="630.00" r="0.75" fill="#5ec8c8" />
<circle cx="534.35" cy="631.72" r="0.75" fill="#5ec8c8" />
<circle cx="539.40" cy="634.93" r="0.75" fill="#5ec8c8" />
<circle cx="544.45" cy="637.79" r="0.75" fill="#5ec8c8" />
<circle cx="549.50" cy="639.95" r="0.75" fill="#5ec8c8" />
<circle cx="554.55" cy="641.21" r="0.75" fill="#5ec8c8" />
<circle cx="559.60" cy="642.59" r="0.75" fill="#5ec8c8" />
<circle cx="564.65" cy="644.23" r="0.75" fill="#5ec8c8" />
<circle cx="569.70" cy="645.61" r="0.75" fill="#5ec8c8" />
<circle cx="574.75" cy="645.77" r="0.75" fill="#5ec8c8" />
<circle cx="579.80" cy="645.94" r="0.75" fill="#5ec8c8" />
<circle cx="584.85" cy="646.11" r="0.75" fill="#5ec8c8" />
<circle cx="589.90" cy="645.87" r="0.75" fill="#5ec8c8" />
<circle cx="594.95" cy="645.61" r="0.75" fill="#5ec8c8" />
<circle cx="600.00" cy="644.18" r="0.75" fill="#5ec8c8" />
<circle cx="605.05" cy="642.54" r="0.75" fill="#5ec8c8" />
<circle cx="610.10" cy="641.62" r="0.75" fill="#5ec8c8" />
<circle cx="615.15" cy="640.99" r="0.75" fill="#5ec8c8" />
<circle cx="620.20" cy="640.53" r="0.75" fill="#5ec8c8" />
<circle cx="625.25" cy="640.20" r="0.75" fill="#5ec8c8" />
</svg></body></html>
